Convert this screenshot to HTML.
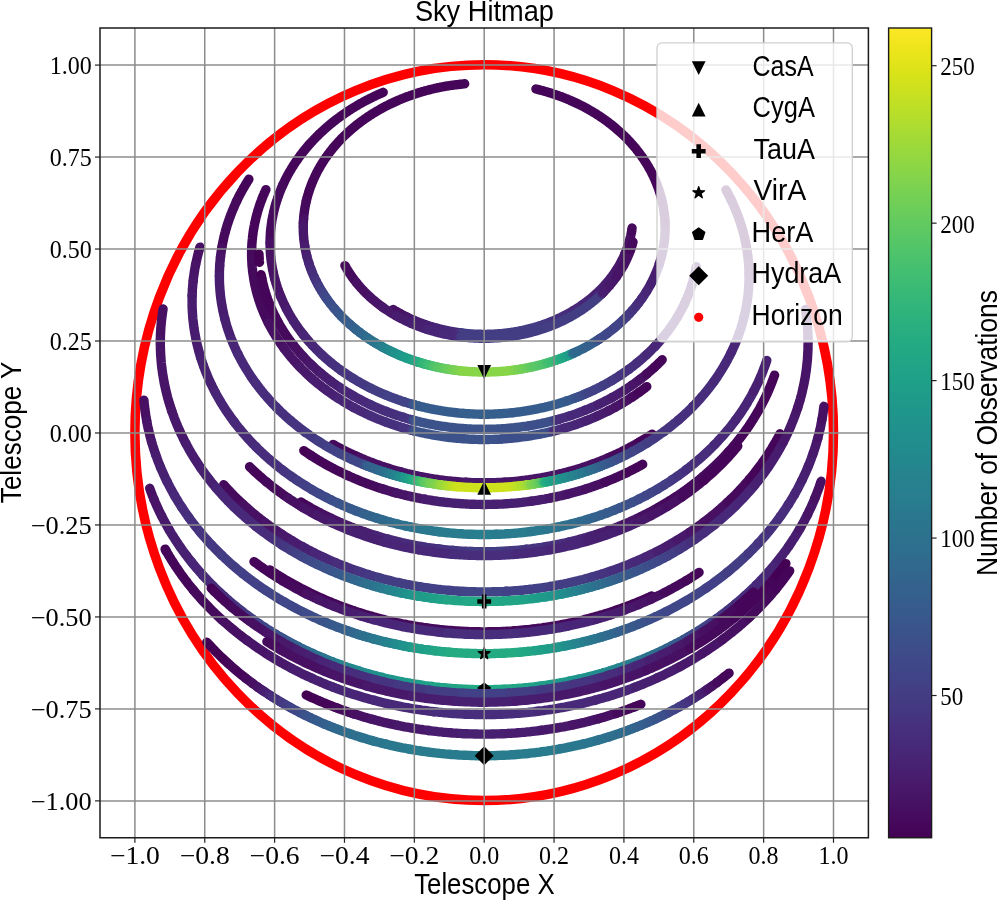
<!DOCTYPE html>
<html lang="en"><head><meta charset="utf-8"><title>Sky Hitmap</title>
<style>
html,body{margin:0;padding:0;background:#fff;}
body{width:1000px;height:900px;overflow:hidden;}
svg{display:block;}
.ser{font-family:"Liberation Serif","DejaVu Serif",serif;font-size:25px;fill:#000;}
.san{font-family:"Liberation Sans","DejaVu Sans",sans-serif;font-size:29px;fill:#000;}
.arcs path{fill:none;stroke-width:9.4;stroke-linecap:round;stroke-linejoin:round;}
.grid line{stroke:#8c8c8c;stroke-width:1.5;}
.tk line{stroke:#222;stroke-width:1.2;}
</style></head><body>
<svg width="1000" height="900" viewBox="0 0 1000 900">
<defs>
<clipPath id="ax"><rect x="100" y="28" width="768.4" height="809.75"/></clipPath>
<linearGradient id="vir" x1="0" y1="1" x2="0" y2="0">

<stop offset="0.0000" stop-color="#440154"/>
<stop offset="0.0196" stop-color="#46085c"/>
<stop offset="0.0392" stop-color="#471063"/>
<stop offset="0.0588" stop-color="#481769"/>
<stop offset="0.0784" stop-color="#481d6f"/>
<stop offset="0.0980" stop-color="#482475"/>
<stop offset="0.1176" stop-color="#472a7a"/>
<stop offset="0.1373" stop-color="#46307e"/>
<stop offset="0.1569" stop-color="#453781"/>
<stop offset="0.1765" stop-color="#433d84"/>
<stop offset="0.1961" stop-color="#414287"/>
<stop offset="0.2157" stop-color="#3f4889"/>
<stop offset="0.2353" stop-color="#3d4e8a"/>
<stop offset="0.2549" stop-color="#3a538b"/>
<stop offset="0.2745" stop-color="#38598c"/>
<stop offset="0.2941" stop-color="#355e8d"/>
<stop offset="0.3137" stop-color="#33638d"/>
<stop offset="0.3333" stop-color="#31688e"/>
<stop offset="0.3529" stop-color="#2e6d8e"/>
<stop offset="0.3725" stop-color="#2c718e"/>
<stop offset="0.3922" stop-color="#2a768e"/>
<stop offset="0.4118" stop-color="#297b8e"/>
<stop offset="0.4314" stop-color="#27808e"/>
<stop offset="0.4510" stop-color="#25848e"/>
<stop offset="0.4706" stop-color="#23898e"/>
<stop offset="0.4902" stop-color="#218e8d"/>
<stop offset="0.5098" stop-color="#20928c"/>
<stop offset="0.5294" stop-color="#1f978b"/>
<stop offset="0.5490" stop-color="#1e9c89"/>
<stop offset="0.5686" stop-color="#1fa188"/>
<stop offset="0.5882" stop-color="#21a585"/>
<stop offset="0.6078" stop-color="#24aa83"/>
<stop offset="0.6275" stop-color="#28ae80"/>
<stop offset="0.6471" stop-color="#2eb37c"/>
<stop offset="0.6667" stop-color="#35b779"/>
<stop offset="0.6863" stop-color="#3dbc74"/>
<stop offset="0.7059" stop-color="#46c06f"/>
<stop offset="0.7255" stop-color="#50c46a"/>
<stop offset="0.7451" stop-color="#5ac864"/>
<stop offset="0.7647" stop-color="#65cb5e"/>
<stop offset="0.7843" stop-color="#70cf57"/>
<stop offset="0.8039" stop-color="#7cd250"/>
<stop offset="0.8235" stop-color="#89d548"/>
<stop offset="0.8431" stop-color="#95d840"/>
<stop offset="0.8627" stop-color="#a2da37"/>
<stop offset="0.8824" stop-color="#b0dd2f"/>
<stop offset="0.9020" stop-color="#bddf26"/>
<stop offset="0.9216" stop-color="#cae11f"/>
<stop offset="0.9412" stop-color="#d8e219"/>
<stop offset="0.9608" stop-color="#e5e419"/>
<stop offset="0.9804" stop-color="#f1e51d"/>
<stop offset="1.0000" stop-color="#fde725"/>
</linearGradient></defs>
<rect width="1000" height="900" fill="#fff"/>
<g class="arcs" clip-path="url(#ax)">
<ellipse cx="484.20" cy="432.63" rx="349.30" ry="367.90" fill="none" stroke="#ff0000" stroke-width="9.5"/>
<g><path d="M393.1,309.5 393.9,310.0 394.7,310.5 395.6,311.0 396.4,311.5 397.2,311.9 398.1,312.4 398.9,312.9 399.8,313.4" stroke="#471063"/>
<path d="M399.8,313.4 400.6,313.8 401.5,314.3 402.4,314.8 403.2,315.2 404.1,315.7 405.0,316.1 405.9,316.6 406.8,317.0" stroke="#481467"/>
<path d="M406.8,317.0 407.7,317.4 408.5,317.9 409.4,318.3 410.3,318.7 411.2,319.1 412.2,319.5 413.1,319.9 414.0,320.3" stroke="#48186a"/>
<path d="M414.0,320.3 414.9,320.7 415.8,321.1 416.7,321.4 417.7,321.8 418.6,322.2 419.5,322.6 420.5,322.9 421.4,323.3 422.4,323.6 423.3,324.0 424.3,324.3 425.2,324.6" stroke="#481c6e"/>
<path d="M425.2,324.6 426.2,325.0 427.1,325.3 428.1,325.6 429.1,325.9 430.0,326.2 431.0,326.5 432.0,326.8 432.9,327.1 433.9,327.4 434.9,327.7 435.9,327.9 436.9,328.2" stroke="#482071"/>
<path d="M436.9,328.2 437.8,328.5 438.8,328.7 439.8,329.0 440.8,329.2 441.8,329.4 442.8,329.7 443.8,329.9 444.8,330.1 445.8,330.3 446.8,330.6 447.8,330.8" stroke="#482576"/>
<path d="M447.8,330.8 448.8,331.0 449.8,331.2 450.9,331.4 451.9,331.5 452.9,331.7 453.9,331.9 454.9,332.0 455.9,332.2 457.0,332.4 458.0,332.5 459.0,332.7" stroke="#482979"/>
<path d="M459.0,332.7 460.0,332.8 461.1,332.9" stroke="#472d7b"/>
<path d="M461.1,332.9 462.1,333.1" stroke="#453882"/>
<path d="M462.1,333.1 463.1,333.2 464.2,333.3 465.2,333.4 466.2,333.5 467.2,333.6 468.3,333.7 469.3,333.8 470.3,333.9 471.4,333.9 472.4,334.0 473.5,334.1 474.5,334.1 475.5,334.2 476.6,334.2 477.6,334.3 478.6,334.3 479.7,334.3 480.7,334.3 481.8,334.4 482.8,334.4 483.8,334.4 484.9,334.4 485.9,334.4 487.0,334.4 488.0,334.3 489.0,334.3 490.1,334.3 491.1,334.2 492.2,334.2 493.2,334.2 494.2,334.1 495.3,334.0 496.3,334.0 497.3,333.9 498.4,333.8 499.4,333.8 500.4,333.7 501.5,333.6 502.5,333.5 503.5,333.4 504.6,333.3 505.6,333.1 506.6,333.0 507.7,332.9 508.7,332.8 509.7,332.6 510.7,332.5 511.8,332.3 512.8,332.2 513.8,332.0 514.8,331.8 515.8,331.7 516.8,331.5 517.9,331.3 518.9,331.1 519.9,330.9 520.9,330.7 521.9,330.5 522.9,330.3 523.9,330.1 524.9,329.8 525.9,329.6 526.9,329.4 527.9,329.1 528.9,328.9 529.9,328.6 530.9,328.4 531.8,328.1 532.8,327.8 533.8,327.6 534.8,327.3 535.8,327.0 536.7,326.7 537.7,326.4 538.7,326.1 539.6,325.8 540.6,325.5 541.6,325.2 542.5,324.9 543.5,324.5" stroke="#433d84"/>
<path d="M543.5,324.5 544.4,324.2 545.4,323.9 546.3,323.5 547.3,323.2 548.2,322.8 549.1,322.4 550.1,322.1 551.0,321.7" stroke="#453882"/>
<path d="M551.0,321.7 551.9,321.3 552.9,321.0 553.8,320.6 554.7,320.2 555.6,319.8 556.5,319.4 557.4,319.0 558.3,318.6" stroke="#463480"/>
<path d="M558.3,318.6 559.2,318.1 560.1,317.7 561.0,317.3 561.9,316.9 562.8,316.4 563.7,316.0 564.6,315.5 565.4,315.1" stroke="#46307e"/>
<path d="M565.4,315.1 566.3,314.6 567.2,314.2 568.0,313.7 568.9,313.2 569.7,312.8 570.6,312.3 571.4,311.8 572.3,311.3 573.1,310.8" stroke="#472d7b"/>
<path d="M573.1,310.8 573.9,310.3 574.8,309.8 575.6,309.3 576.4,308.8 577.2,308.3 578.0,307.7 578.8,307.2 579.6,306.7 580.4,306.2 581.2,305.6 582.0,305.1 582.8,304.5 583.5,304.0" stroke="#482979"/>
<path d="M583.5,304.0 584.3,303.4 585.1,302.9 585.8,302.3 586.6,301.7 587.4,301.1 588.1,300.6 588.8,300.0 589.6,299.4 590.3,298.8 591.0,298.2 591.8,297.6 592.5,297.0 593.2,296.4 593.9,295.8 594.6,295.2" stroke="#482576"/>
<path d="M594.6,295.2 595.3,294.6 596.0,293.9 596.6,293.3 597.3,292.7 598.0,292.0 598.7,291.4 599.3,290.8 600.0,290.1 600.6,289.5 601.3,288.8 601.9,288.2 602.5,287.5 603.2,286.8 603.8,286.2 604.4,285.5 605.0,284.8 605.6,284.2" stroke="#482071"/>
<path d="M605.6,284.2 606.2,283.5 606.8,282.8 607.4,282.1 608.0,281.4 608.5,280.7 609.1,280.0 609.7,279.3 610.2,278.6 610.8,277.9 611.3,277.2 611.8,276.5 612.4,275.8 612.9,275.1 613.4,274.4 613.9,273.6 614.4,272.9 614.9,272.2 615.4,271.4 615.9,270.7 616.4,270.0" stroke="#481c6e"/>
<path d="M616.4,270.0 616.9,269.2 617.3,268.5 617.8,267.7 618.2,267.0 618.7,266.2 619.1,265.5 619.6,264.7 620.0,264.0 620.4,263.2 620.8,262.5 621.2,261.7 621.6,260.9 622.0,260.2 622.4,259.4 622.8,258.6 623.2,257.8 623.5,257.1 623.9,256.3 624.2,255.5 624.6,254.7 624.9,253.9" stroke="#48186a"/>
<path d="M624.9,253.9 625.3,253.1 625.6,252.4 625.9,251.6 626.2,250.8 626.5,250.0 626.8,249.2 627.1,248.4 627.4,247.6 627.7,246.8 627.9,246.0 628.2,245.2" stroke="#481467"/>
<path d="M628.2,245.2 628.4,244.4 628.7,243.6 628.9,242.8 629.2,242.0 629.4,241.1 629.6,240.3 629.8,239.5 630.0,238.7 630.2,237.9 630.4,237.1 630.6,236.3 630.8,235.4 631.0,234.6 631.1,233.8 631.3,233.0 631.4,232.2 631.6,231.3" stroke="#471063"/>
<path d="M631.6,231.3 631.7,230.5 631.8,229.7 631.9,228.9 632.1,228.0" stroke="#460a5d"/></g>
<g><path d="M344.9,265.6 345.4,266.3 345.8,267.1 346.3,267.9 346.7,268.7 347.2,269.4 347.6,270.2 348.1,271.0 348.6,271.7 349.1,272.5 349.6,273.2 350.1,274.0 350.6,274.7 351.1,275.5 351.6,276.2 352.1,277.0 352.6,277.7 353.2,278.4 353.7,279.2 354.3,279.9 354.8,280.6 355.4,281.3 356.0,282.0 356.5,282.8" stroke="#460a5d"/>
<path d="M356.5,282.8 357.1,283.5 357.7,284.2 358.3,284.9 358.9,285.6 359.5,286.3 360.1,287.0 360.7,287.7 361.4,288.4 362.0,289.0 362.6,289.7 363.3,290.4 363.9,291.1 364.6,291.7 365.2,292.4 365.9,293.1 366.6,293.7 367.2,294.4 367.9,295.0 368.6,295.7 369.3,296.3 370.0,297.0" stroke="#471063"/>
<path d="M370.0,297.0 370.7,297.6 371.4,298.2 372.1,298.9 372.9,299.5 373.6,300.1 374.3,300.7 375.1,301.3 375.8,302.0 376.6,302.6 377.3,303.2 378.1,303.7 378.8,304.3 379.6,304.9 380.4,305.5 381.2,306.1 381.9,306.7 382.7,307.2" stroke="#481467"/>
<path d="M382.7,307.2 383.5,307.8 384.3,308.4 385.1,308.9 385.9,309.5 386.8,310.0 387.6,310.6 388.4,311.1 389.2,311.6 390.1,312.1 390.9,312.7 391.7,313.2 392.6,313.7 393.4,314.2 394.3,314.7 395.2,315.2 396.0,315.7" stroke="#48186a"/>
<path d="M396.0,315.7 396.9,316.2 397.8,316.7 398.6,317.2 399.5,317.6 400.4,318.1 401.3,318.6 402.2,319.0 403.1,319.5 404.0,320.0 404.9,320.4 405.8,320.8 406.7,321.3 407.6,321.7 408.6,322.1 409.5,322.5 410.4,323.0 411.3,323.4" stroke="#481c6e"/>
<path d="M411.3,323.4 412.3,323.8 413.2,324.2 414.2,324.6 415.1,325.0 416.1,325.3 417.0,325.7 418.0,326.1 418.9,326.5 419.9,326.8 420.9,327.2 421.8,327.5 422.8,327.9 423.8,328.2 424.8,328.6 425.7,328.9 426.7,329.2 427.7,329.5" stroke="#482071"/>
<path d="M427.7,329.5 428.7,329.8 429.7,330.1 430.7,330.4 431.7,330.7 432.7,331.0 433.7,331.3 434.7,331.6 435.7,331.9 436.7,332.1 437.7,332.4 438.7,332.7 439.7,332.9 440.8,333.2 441.8,333.4 442.8,333.6" stroke="#482576"/>
<path d="M442.8,333.6 443.8,333.9 444.9,334.1 445.9,334.3 446.9,334.5 447.9,334.7 449.0,334.9 450.0,335.1 451.1,335.3 452.1,335.5 453.1,335.7 454.2,335.8 455.2,336.0 456.3,336.2 457.3,336.3 458.4,336.5" stroke="#482979"/>
<path d="M458.4,336.5 459.4,336.6 460.5,336.7" stroke="#472d7b"/>
<path d="M460.5,336.7 461.5,336.9" stroke="#463480"/>
<path d="M461.5,336.9 462.6,337.0 463.6,337.1 464.7,337.2 465.7,337.3 466.8,337.4 467.8,337.5 468.9,337.6 470.0,337.7 471.0,337.8 472.1,337.8 473.1,337.9 474.2,338.0 475.3,338.0 476.3,338.1 477.4,338.1 478.5,338.1 479.5,338.2 480.6,338.2 481.6,338.2 482.7,338.2 483.8,338.2 484.8,338.2 485.9,338.2 487.0,338.2 488.0,338.2 489.1,338.2 490.2,338.1 491.2,338.1 492.3,338.0 493.3,338.0 494.4,337.9 495.5,337.9 496.5,337.8 497.6,337.7 498.6,337.7 499.7,337.6 500.8,337.5 501.8,337.4 502.9,337.3 503.9,337.2 505.0,337.1 506.0,337.0 507.1,336.8 508.1,336.7 509.2,336.6 510.2,336.4 511.3,336.3 512.3,336.1 513.4,336.0 514.4,335.8 515.5,335.6 516.5,335.4 517.5,335.3 518.6,335.1 519.6,334.9 520.6,334.7 521.7,334.5 522.7,334.3 523.7,334.0 524.8,333.8 525.8,333.6 526.8,333.4 527.8,333.1 528.9,332.9 529.9,332.6 530.9,332.4 531.9,332.1 532.9,331.8 533.9,331.5 534.9,331.3 535.9,331.0 536.9,330.7 537.9,330.4 538.9,330.1 539.9,329.8 540.9,329.5 541.9,329.1 542.9,328.8 543.8,328.5 544.8,328.2 545.8,327.8 546.8,327.5 547.7,327.1 548.7,326.8 549.7,326.4 550.6,326.0 551.6,325.6 552.5,325.3 553.5,324.9 554.4,324.5 555.4,324.1 556.3,323.7 557.2,323.3 558.2,322.9 559.1,322.5 560.0,322.0 560.9,321.6 561.8,321.2 562.8,320.8 563.7,320.3 564.6,319.9 565.5,319.4 566.4,319.0 567.3,318.5 568.2,318.0 569.0,317.6 569.9,317.1 570.8,316.6 571.7,316.1 572.5,315.6 573.4,315.1 574.3,314.6 575.1,314.1 576.0,313.6 576.8,313.1 577.7,312.6 578.5,312.0 579.3,311.5 580.2,311.0 581.0,310.4 581.8,309.9 582.6,309.4 583.4,308.8 584.2,308.2 585.0,307.7 585.8,307.1 586.6,306.6 587.4,306.0 588.2,305.4 588.9,304.8 589.7,304.2 590.5,303.6 591.2,303.0 592.0,302.4 592.7,301.8 593.5,301.2 594.2,300.6 594.9,300.0 595.7,299.4 596.4,298.8 597.1,298.1 597.8,297.5 598.5,296.9 599.2,296.2 599.9,295.6 600.6,294.9 601.3,294.3" stroke="#433d84"/>
<path d="M601.3,294.3 602.0,293.6" stroke="#453882"/>
<path d="M602.0,293.6 602.6,293.0" stroke="#46307e"/>
<path d="M602.6,293.0 603.3,292.3" stroke="#482576"/>
<path d="M603.3,292.3 604.0,291.6 604.6,290.9 605.3,290.3 605.9,289.6 606.5,288.9 607.2,288.2 607.8,287.5 608.4,286.8 609.0,286.2 609.6,285.5" stroke="#481c6e"/>
<path d="M609.6,285.5 610.2,284.8 610.8,284.0 611.4,283.3 612.0,282.6 612.5,281.9 613.1,281.2 613.7,280.5 614.2,279.7 614.8,279.0 615.3,278.3 615.9,277.5 616.4,276.8" stroke="#48186a"/>
<path d="M616.4,276.8 616.9,276.1 617.4,275.3 617.9,274.6 618.4,273.8 618.9,273.1 619.4,272.3 619.9,271.6 620.4,270.8 620.9,270.0 621.3,269.3 621.8,268.5 622.2,267.7 622.7,267.0 623.1,266.2 623.5,265.4" stroke="#481467"/>
<path d="M623.5,265.4 624.0,264.6 624.4,263.9 624.8,263.1 625.2,262.3 625.6,261.5 626.0,260.7 626.4,259.9 626.7,259.1 627.1,258.3 627.5,257.5 627.8,256.7 628.2,255.9 628.5,255.1 628.8,254.3 629.2,253.5 629.5,252.7 629.8,251.9 630.1,251.1 630.4,250.2" stroke="#471063"/>
<path d="M630.4,250.2 630.7,249.4 631.0,248.6 631.2,247.8 631.5,247.0 631.8,246.1 632.0,245.3 632.3,244.5 632.5,243.7 632.7,242.8 633.0,242.0" stroke="#460a5d"/></g>
<g><path d="M383.2,92.3 381.9,92.9 380.6,93.5 379.3,94.1 378.0,94.6 376.7,95.2 375.4,95.8 374.1,96.5 372.8,97.1 371.6,97.7 370.3,98.3 369.0,99.0 367.8,99.6 366.5,100.3 365.3,100.9 364.0,101.6 362.8,102.3 361.6,103.0 360.3,103.6 359.1,104.3 357.9,105.0 356.7,105.8 355.5,106.5 354.3,107.2 353.1,107.9 351.9,108.7 350.8,109.4 349.6,110.1 348.4,110.9 347.3,111.7 346.1,112.4 345.0,113.2 343.9,114.0 342.7,114.8 341.6,115.6 340.5,116.4 339.4,117.2 338.3,118.0 337.2,118.8 336.1,119.6 335.0,120.5 334.0,121.3 332.9,122.1 331.8,123.0 330.8,123.8 329.8,124.7 328.7,125.6 327.7,126.4 326.7,127.3 325.7,128.2 324.7,129.1 323.7,130.0 322.7,130.9 321.7,131.8 320.7,132.7 319.8,133.6 318.8,134.5 317.9,135.5 316.9,136.4 316.0,137.3 315.1,138.3 314.2,139.2 313.3,140.2 312.4,141.1 311.5,142.1 310.6,143.0 309.7,144.0 308.8,145.0 308.0,146.0 307.1,147.0 306.3,148.0 305.5,149.0 304.7,150.0 303.8,151.0 303.0,152.0 302.3,153.0 301.5,154.0 300.7,155.0 299.9,156.0 299.2,157.1 298.4,158.1 297.7,159.2 296.9,160.2 296.2,161.2 295.5,162.3 294.8,163.4 294.1,164.4 293.4,165.5 292.8,166.5 292.1,167.6 291.4,168.7 290.8,169.8 290.1,170.9 289.5,171.9 288.9,173.0 288.3,174.1 287.7,175.2 287.1,176.3 286.5,177.4 285.9,178.5 285.4,179.6 284.8,180.7 284.3,181.9 283.8,183.0 283.2,184.1 282.7,185.2" stroke="#450559"/>
<path d="M282.7,185.2 282.2,186.3 281.7,187.5 281.2,188.6 280.8,189.7 280.3,190.9 279.9,192.0 279.4,193.2 279.0,194.3 278.6,195.5 278.2,196.6 277.7,197.8 277.4,198.9 277.0,200.1 276.6,201.2 276.2,202.4 275.9,203.5 275.5,204.7 275.2,205.9 274.9,207.0 274.6,208.2 274.3,209.4 274.0,210.6 273.7,211.7 273.4,212.9 273.2,214.1 272.9,215.3 272.7,216.5 272.5,217.6 272.2,218.8 272.0,220.0 271.8,221.2 271.7,222.4 271.5,223.6 271.3,224.8 271.2,225.9 271.0,227.1 270.9,228.3 270.7,229.5 270.6,230.7 270.5,231.9 270.4,233.1 270.4,234.3 270.3,235.5 270.2,236.7 270.2,237.9 270.1,239.1 270.1,240.3 270.1,241.5 270.1,242.7" stroke="#460a5d"/>
<path d="M270.1,242.7 270.1,243.9 270.1,245.0 270.1,246.2 270.1,247.4 270.2,248.6 270.2,249.8 270.3,251.0 270.4,252.2 270.4,253.4 270.5,254.6 270.6,255.8 270.8,257.0 270.9,258.2 271.0,259.4 271.2,260.6 271.3,261.8 271.5,262.9 271.7,264.1 271.9,265.3 272.1,266.5 272.3,267.7 272.5,268.9 272.7,270.0 273.0,271.2 273.2,272.4 273.5,273.6 273.7,274.8 274.0,275.9 274.3,277.1 274.6,278.3" stroke="#471063"/>
<path d="M274.6,278.3 274.9,279.5 275.3,280.6 275.6,281.8 275.9,282.9 276.3,284.1 276.7,285.3 277.0,286.4 277.4,287.6 277.8,288.7 278.2,289.9 278.6,291.0 279.0,292.2 279.5,293.3 279.9,294.5 280.4,295.6 280.8,296.8" stroke="#481467"/>
<path d="M280.8,296.8 281.3,297.9 281.8,299.0 282.3,300.1 282.8,301.3 283.3,302.4 283.8,303.5 284.4,304.6 284.9,305.7 285.5,306.9 286.0,308.0 286.6,309.1" stroke="#48186a"/>
<path d="M286.6,309.1 287.2,310.2 287.8,311.3 288.4,312.4 289.0,313.5 289.6,314.6 290.2,315.6 290.9,316.7 291.5,317.8 292.2,318.9 292.8,319.9 293.5,321.0" stroke="#481c6e"/>
<path d="M293.5,321.0 294.2,322.1 294.9,323.1 295.6,324.2 296.3,325.2 297.0,326.3 297.8,327.3 298.5,328.4 299.3,329.4 300.0,330.4 300.8,331.5 301.6,332.5 302.4,333.5 303.2,334.5" stroke="#482071"/>
<path d="M303.2,334.5 304.0,335.5 304.8,336.5 305.6,337.5 306.4,338.5 307.3,339.5 308.1,340.5 309.0,341.5 309.8,342.5 310.7,343.4 311.6,344.4 312.5,345.4" stroke="#482576"/>
<path d="M312.5,345.4 313.4,346.3 314.3,347.3 315.2,348.2 316.1,349.1 317.1,350.1 318.0,351.0 318.9,351.9 319.9,352.9 320.9,353.8 321.8,354.7" stroke="#482979"/>
<path d="M321.8,354.7 322.8,355.6 323.8,356.5 324.8,357.4 325.8,358.3 326.8,359.2 327.8,360.0 328.9,360.9 329.9,361.8 330.9,362.6" stroke="#472d7b"/>
<path d="M330.9,362.6 332.0,363.5 333.0,364.3 334.1,365.2 335.2,366.0 336.3,366.8 337.3,367.7 338.4,368.5 339.5,369.3 340.6,370.1" stroke="#46307e"/>
<path d="M340.6,370.1 341.8,370.9 342.9,371.7 344.0,372.5 345.1,373.2 346.3,374.0 347.4,374.8 348.6,375.5 349.8,376.3 350.9,377.0 352.1,377.8 353.3,378.5" stroke="#463480"/>
<path d="M353.3,378.5 354.5,379.2 355.7,380.0 356.9,380.7 358.1,381.4 359.3,382.1 360.5,382.8 361.7,383.5 363.0,384.2 364.2,384.8 365.4,385.5 366.7,386.2 367.9,386.8 369.2,387.5 370.5,388.1" stroke="#453882"/>
<path d="M370.5,388.1 371.7,388.7 373.0,389.3 374.3,390.0 375.6,390.6 376.9,391.2 378.2,391.8 379.5,392.4 380.8,392.9 382.1,393.5 383.4,394.1 384.7,394.6 386.1,395.2" stroke="#433d84"/>
<path d="M386.1,395.2 387.4,395.7 388.7,396.3 390.1,396.8 391.4,397.3 392.8,397.8 394.1,398.3 395.5,398.8 396.9,399.3 398.2,399.8 399.6,400.3 401.0,400.8 402.4,401.2 403.8,401.7" stroke="#424086"/>
<path d="M403.8,401.7 405.1,402.1 406.5,402.6 407.9,403.0 409.3,403.4 410.7,403.8 412.2,404.2" stroke="#414487"/>
<path d="M412.2,404.2 413.6,404.6" stroke="#3e4a89"/>
<path d="M413.6,404.6 415.0,405.0" stroke="#39558c"/>
<path d="M415.0,405.0 416.4,405.4 417.8,405.8 419.2,406.2" stroke="#38598c"/>
<path d="M419.2,406.2 420.7,406.5 422.1,406.9 423.5,407.2 425.0,407.5 426.4,407.9 427.9,408.2 429.3,408.5 430.8,408.8 432.2,409.1 433.7,409.4 435.1,409.7 436.6,409.9 438.0,410.2 439.5,410.4 441.0,410.7 442.4,410.9 443.9,411.2 445.4,411.4 446.8,411.6 448.3,411.8 449.8,412.0 451.3,412.2 452.8,412.4 454.2,412.5 455.7,412.7 457.2,412.8 458.7,413.0 460.2,413.1 461.7,413.3 463.2,413.4" stroke="#365c8d"/>
<path d="M463.2,413.4 464.7,413.5 466.1,413.6 467.6,413.7 469.1,413.8 470.6,413.9 472.1,413.9 473.6,414.0 475.1,414.1 476.6,414.1 478.1,414.1 479.6,414.2 481.1,414.2 482.6,414.2 484.1,414.2 485.6,414.2 487.1,414.2 488.6,414.2 490.1,414.1 491.6,414.1 493.1,414.1 494.6,414.0 496.1,413.9 497.6,413.9 499.0,413.8 500.5,413.7 502.0,413.6 503.5,413.5 505.0,413.4 506.5,413.3 508.0,413.1 509.5,413.0 511.0,412.9 512.5,412.7" stroke="#355f8d"/>
<path d="M512.5,412.7 513.9,412.6 515.4,412.4 516.9,412.2 518.4,412.0 519.9,411.8 521.3,411.6 522.8,411.4 524.3,411.2 525.7,411.0 527.2,410.7 528.7,410.5 530.1,410.2 531.6,410.0 533.1,409.7 534.5,409.4 536.0,409.1 537.4,408.8 538.9,408.5 540.3,408.2 541.8,407.9 543.2,407.6 544.6,407.3 546.1,406.9 547.5,406.6 548.9,406.2 550.4,405.8 551.8,405.5 553.2,405.1 554.6,404.7 556.0,404.3 557.4,403.9 558.9,403.5 560.3,403.1 561.6,402.6 563.0,402.2 564.4,401.7 565.8,401.3 567.2,400.8" stroke="#365c8d"/>
<path d="M567.2,400.8 568.6,400.4 570.0,399.9 571.3,399.4 572.7,398.9 574.1,398.4" stroke="#38598c"/>
<path d="M574.1,398.4 575.4,397.9 576.8,397.4" stroke="#39558c"/>
<path d="M576.8,397.4 578.1,396.9 579.5,396.4" stroke="#3b528b"/>
<path d="M579.5,396.4 580.8,395.8 582.1,395.3 583.5,394.7" stroke="#3c4f8a"/>
<path d="M583.5,394.7 584.8,394.2 586.1,393.6" stroke="#3e4a89"/>
<path d="M586.1,393.6 587.4,393.0 588.7,392.4" stroke="#3f4788"/>
<path d="M588.7,392.4 590.0,391.9 591.3,391.3 592.6,390.7 593.9,390.1" stroke="#414487"/>
<path d="M593.9,390.1 595.2,389.4 596.5,388.8 597.7,388.2 599.0,387.5 600.3,386.9 601.5,386.3 602.8,385.6" stroke="#424086"/>
<path d="M602.8,385.6 604.0,384.9 605.3,384.3 606.5,383.6 607.7,382.9 608.9,382.2 610.1,381.5 611.4,380.8" stroke="#433d84"/>
<path d="M611.4,380.8 612.6,380.1 613.8,379.4 614.9,378.6 616.1,377.9 617.3,377.2 618.5,376.4 619.6,375.7" stroke="#453882"/>
<path d="M619.6,375.7 620.8,374.9 621.9,374.1 623.1,373.4 624.2,372.6 625.3,371.8 626.5,371.0 627.6,370.2 628.7,369.4" stroke="#463480"/>
<path d="M628.7,369.4 629.8,368.6 630.9,367.8 632.0,367.0 633.1,366.1 634.1,365.3 635.2,364.4 636.3,363.6 637.3,362.7" stroke="#46307e"/>
<path d="M637.3,362.7 638.3,361.9 639.4,361.0 640.4,360.2 641.4,359.3 642.4,358.4 643.4,357.5 644.4,356.6 645.4,355.7 646.4,354.8" stroke="#472d7b"/>
<path d="M646.4,354.8 647.4,353.9 648.4,353.0 649.3,352.1 650.3,351.2 651.2,350.2 652.1,349.3 653.1,348.3 654.0,347.4 654.9,346.5" stroke="#482979"/>
<path d="M654.9,346.5 655.8,345.5 656.7,344.5 657.6,343.6 658.4,342.6 659.3,341.6 660.2,340.6 661.0,339.7 661.9,338.7 662.7,337.7" stroke="#482576"/>
<path d="M662.7,337.7 663.5,336.7 664.3,335.7 665.1,334.7 665.9,333.6 666.7,332.6 667.5,331.6 668.3,330.6 669.0,329.6 669.8,328.5" stroke="#482071"/>
<path d="M669.8,328.5 670.5,327.5 671.2,326.4 672.0,325.4 672.7,324.3 673.4,323.3 674.1,322.2 674.8,321.2 675.5,320.1 676.1,319.0 676.8,318.0 677.4,316.9" stroke="#481c6e"/>
<path d="M677.4,316.9 678.1,315.8 678.7,314.7 679.3,313.6 679.9,312.5 680.5,311.4 681.1,310.3 681.7,309.2 682.3,308.1 682.9,307.0 683.4,305.9 684.0,304.8 684.5,303.7" stroke="#48186a"/>
<path d="M684.5,303.7 685.0,302.6 685.5,301.4 686.0,300.3 686.5,299.2 687.0,298.1 687.5,296.9 688.0,295.8 688.4,294.6 688.9,293.5 689.3,292.4 689.7,291.2 690.1,290.1 690.5,288.9 690.9,287.8 691.3,286.6 691.7,285.4" stroke="#481467"/>
<path d="M691.7,285.4 692.1,284.3 692.4,283.1 692.8,282.0 693.1,280.8 693.4,279.6 693.7,278.5 694.0,277.3 694.3,276.1 694.6,274.9 694.9,273.8 695.1,272.6 695.4,271.4 695.6,270.2 695.9,269.0 696.1,267.9 696.3,266.7" stroke="#471063"/></g>
<g><path d="M265.9,189.6 265.4,190.8 264.8,192.0 264.3,193.2 263.8,194.5 263.2,195.7 262.7,196.9 262.2,198.2 261.8,199.4 261.3,200.7 260.8,201.9 260.4,203.1 260.0,204.4 259.5,205.6 259.1,206.9 258.7,208.2 258.3,209.4 257.9,210.7 257.6,211.9 257.2,213.2 256.9,214.5 256.5,215.8 256.2,217.0 255.9,218.3 255.6,219.6 255.3,220.8 255.0,222.1 254.7,223.4 254.5,224.7 254.2,226.0 254.0,227.3 253.8,228.5 253.5,229.8 253.3,231.1 253.1,232.4 253.0,233.7 252.8,235.0 252.6,236.3 252.5,237.6 252.4,238.9 252.2,240.2 252.1,241.5 252.0,242.7 251.9,244.0 251.8,245.3 251.8,246.6 251.7,247.9 251.7,249.2" stroke="#450559"/>
<path d="M251.7,249.2 251.6,250.5 251.6,251.8 251.6,253.1 251.6,254.4 251.6,255.7 251.6,257.0 251.7,258.3 251.7,259.6 251.8,260.9 251.9,262.2 251.9,263.5 252.0,264.8 252.1,266.1 252.2,267.4 252.4,268.7 252.5,270.0 252.6,271.3 252.8,272.6 253.0,273.9 253.2,275.1 253.4,276.4 253.6,277.7 253.8,279.0 254.0,280.3 254.2,281.6 254.5,282.9 254.7,284.1 255.0,285.4 255.3,286.7 255.6,288.0 255.9,289.3 256.2,290.5 256.5,291.8 256.9,293.1 257.2,294.3 257.6,295.6 258.0,296.9 258.4,298.1 258.7,299.4 259.2,300.6 259.6,301.9 260.0,303.2 260.4,304.4 260.9,305.7 261.3,306.9 261.8,308.1 262.3,309.4 262.8,310.6 263.3,311.9 263.8,313.1 264.3,314.3 264.9,315.5 265.4,316.8 266.0,318.0 266.5,319.2 267.1,320.4 267.7,321.6 268.3,322.8" stroke="#460a5d"/>
<path d="M268.3,322.8 268.9,324.0 269.5,325.2 270.2,326.4 270.8,327.6 271.5,328.8 272.1,330.0 272.8,331.2 273.5,332.4 274.2,333.5 274.9,334.7 275.6,335.9 276.3,337.0 277.0,338.2 277.8,339.3 278.5,340.5 279.3,341.6 280.1,342.8 280.9,343.9 281.7,345.0 282.5,346.2 283.3,347.3 284.1,348.4" stroke="#471063"/>
<path d="M284.1,348.4 284.9,349.5 285.8,350.6 286.6,351.7 287.5,352.8 288.4,353.9 289.2,355.0 290.1,356.1 291.0,357.2 291.9,358.3 292.9,359.3 293.8,360.4 294.7,361.5 295.7,362.5 296.6,363.6 297.6,364.6 298.6,365.7 299.6,366.7" stroke="#481467"/>
<path d="M299.6,366.7 300.5,367.7 301.5,368.7 302.6,369.8 303.6,370.8 304.6,371.8 305.6,372.8 306.7,373.8 307.7,374.8 308.8,375.7 309.9,376.7 311.0,377.7 312.0,378.6" stroke="#48186a"/>
<path d="M312.0,378.6 313.1,379.6 314.3,380.6 315.4,381.5 316.5,382.4 317.6,383.4 318.8,384.3 319.9,385.2 321.1,386.1 322.2,387.0 323.4,387.9 324.6,388.8 325.8,389.7" stroke="#481c6e"/>
<path d="M325.8,389.7 326.9,390.6 328.1,391.5 329.4,392.3 330.6,393.2 331.8,394.1 333.0,394.9 334.3,395.8 335.5,396.6 336.8,397.4 338.0,398.2" stroke="#482071"/>
<path d="M338.0,398.2 339.3,399.0 340.6,399.8 341.9,400.6 343.1,401.4 344.4,402.2 345.7,403.0 347.0,403.8 348.4,404.5 349.7,405.3 351.0,406.0 352.4,406.8 353.7,407.5" stroke="#482576"/>
<path d="M353.7,407.5 355.0,408.2 356.4,408.9 357.8,409.7 359.1,410.4 360.5,411.0 361.9,411.7 363.3,412.4 364.7,413.1 366.1,413.7 367.5,414.4 368.9,415.1 370.3,415.7" stroke="#482979"/>
<path d="M370.3,415.7 371.7,416.3 373.1,416.9 374.6,417.6 376.0,418.2 377.4,418.8 378.9,419.4 380.3,419.9 381.8,420.5 383.2,421.1 384.7,421.6 386.2,422.2" stroke="#472d7b"/>
<path d="M386.2,422.2 387.7,422.7 389.1,423.3 390.6,423.8 392.1,424.3 393.6,424.8 395.1,425.3 396.6,425.8 398.1,426.3 399.6,426.8 401.2,427.3 402.7,427.7" stroke="#46307e"/>
<path d="M402.7,427.7 404.2,428.2 405.7,428.6 407.3,429.0 408.8,429.5 410.3,429.9 411.9,430.3" stroke="#463480"/>
<path d="M411.9,430.3 413.4,430.7" stroke="#433d84"/>
<path d="M413.4,430.7 415.0,431.1" stroke="#3e4a89"/>
<path d="M415.0,431.1 416.5,431.5 418.1,431.8 419.6,432.2 421.2,432.6 422.8,432.9 424.3,433.2 425.9,433.6 427.5,433.9 429.1,434.2 430.6,434.5 432.2,434.8 433.8,435.1 435.4,435.4 437.0,435.6 438.6,435.9 440.2,436.1 441.8,436.4 443.4,436.6 445.0,436.8 446.6,437.1 448.2,437.3 449.8,437.5 451.4,437.6 453.0,437.8 454.6,438.0 456.2,438.2 457.8,438.3 459.5,438.4 461.1,438.6 462.7,438.7 464.3,438.8 465.9,438.9 467.6,439.0 469.2,439.1 470.8,439.2 472.4,439.3 474.0,439.3 475.7,439.4 477.3,439.4 478.9,439.5 480.5,439.5 482.2,439.5 483.8,439.5 485.4,439.5 487.0,439.5 488.7,439.5 490.3,439.4 491.9,439.4 493.5,439.4 495.2,439.3 496.8,439.2 498.4,439.2 500.0,439.1 501.7,439.0" stroke="#3b528b"/>
<path d="M501.7,439.0 503.3,438.9 504.9,438.8 506.5,438.6 508.1,438.5 509.7,438.4 511.4,438.2 513.0,438.1 514.6,437.9 516.2,437.7 517.8,437.6 519.4,437.4 521.0,437.2 522.6,436.9 524.2,436.7 525.8,436.5 527.4,436.3 529.0,436.0 530.6,435.8 532.2,435.5 533.8,435.2 535.4,434.9 537.0,434.7 538.5,434.4 540.1,434.1 541.7,433.7 543.3,433.4 544.8,433.1 546.4,432.7 548.0,432.4 549.5,432.0 551.1,431.7" stroke="#3c4f8a"/>
<path d="M551.1,431.7 552.7,431.3" stroke="#3e4a89"/>
<path d="M552.7,431.3 554.2,430.9" stroke="#433d84"/>
<path d="M554.2,430.9 555.8,430.5 557.3,430.1 558.8,429.7 560.4,429.3 561.9,428.8 563.4,428.4 565.0,427.9" stroke="#472d7b"/>
<path d="M565.0,427.9 566.5,427.5 568.0,427.0 569.5,426.6 571.0,426.1 572.5,425.6 574.0,425.1 575.5,424.6" stroke="#482979"/>
<path d="M575.5,424.6 577.0,424.1 578.5,423.5 580.0,423.0 581.5,422.5 582.9,421.9 584.4,421.4 585.9,420.8" stroke="#482576"/>
<path d="M585.9,420.8 587.3,420.2 588.8,419.7 590.2,419.1 591.7,418.5 593.1,417.9 594.6,417.3 596.0,416.6 597.4,416.0" stroke="#482071"/>
<path d="M597.4,416.0 598.8,415.4 600.2,414.7 601.6,414.1 603.0,413.4 604.4,412.8 605.8,412.1 607.2,411.4 608.6,410.7" stroke="#481c6e"/>
<path d="M608.6,410.7 610.0,410.0 611.3,409.3 612.7,408.6 614.0,407.9 615.4,407.1" stroke="#48186a"/>
<path d="M615.4,407.1 616.7,406.4 618.0,405.7 619.4,404.9 620.7,404.1 622.0,403.4 623.3,402.6" stroke="#481467"/>
<path d="M623.3,402.6 624.6,401.8 625.9,401.0 627.2,400.2 628.5,399.4 629.7,398.6 631.0,397.8 632.3,397.0" stroke="#471063"/>
<path d="M632.3,397.0 633.5,396.2 634.8,395.3 636.0,394.5 637.2,393.6 638.4,392.8 639.6,391.9" stroke="#460a5d"/>
<path d="M639.6,391.9 640.9,391.0 642.0,390.2 643.2,389.3 644.4,388.4 645.6,387.5 646.8,386.6" stroke="#450559"/></g>
<g><path d="M259.0,254.1 259.0,255.5 259.1,256.8 259.2,258.2 259.2,259.5 259.3,260.9 259.5,262.3" stroke="#440154"/>
<path d="M261.1,274.7 261.4,276.0 261.6,277.2 261.8,278.5" stroke="#440154"/>
<path d="M261.8,278.5 262.1,279.7 262.4,280.9 262.7,282.2 262.9,283.4 263.3,284.7 263.6,285.9 263.9,287.1 264.2,288.3 264.6,289.6 264.9,290.8 265.3,292.0 265.7,293.2 266.1,294.5 266.5,295.7 266.9,296.9 267.3,298.1 267.7,299.3 268.2,300.5 268.6,301.7 269.1,302.9 269.6,304.1 270.0,305.3 270.5,306.5 271.0,307.7 271.6,308.9 272.1,310.1 272.6,311.3 273.2,312.4 273.7,313.6 274.3,314.8 274.9,316.0 275.5,317.1 276.0,318.3 276.7,319.4 277.3,320.6 277.9,321.8" stroke="#450559"/>
<path d="M277.9,321.8 278.5,322.9 279.2,324.1 279.8,325.2 280.5,326.3 281.2,327.5 281.9,328.6 282.6,329.7 283.3,330.8 284.0,332.0 284.7,333.1 285.5,334.2 286.2,335.3 287.0,336.4 287.7,337.5 288.5,338.6 289.3,339.7 290.1,340.8 290.9,341.9 291.7,342.9 292.5,344.0 293.4,345.1" stroke="#460a5d"/>
<path d="M293.4,345.1 294.2,346.1 295.1,347.2 295.9,348.2 296.8,349.3 297.7,350.3 298.6,351.4 299.4,352.4 300.4,353.4 301.3,354.5 302.2,355.5 303.1,356.5" stroke="#471063"/>
<path d="M303.1,356.5 304.1,357.5 305.0,358.5 306.0,359.5 306.9,360.5 307.9,361.5 308.9,362.5 309.9,363.4 310.9,364.4 311.9,365.4" stroke="#481467"/>
<path d="M311.9,365.4 312.9,366.3 314.0,367.3 315.0,368.2 316.0,369.2 317.1,370.1 318.1,371.0 319.2,372.0 320.3,372.9 321.4,373.8" stroke="#48186a"/>
<path d="M321.4,373.8 322.5,374.7 323.6,375.6 324.7,376.5 325.8,377.4 326.9,378.2 328.0,379.1 329.2,380.0 330.3,380.9 331.5,381.7" stroke="#481c6e"/>
<path d="M331.5,381.7 332.6,382.6 333.8,383.4 335.0,384.2 336.2,385.1 337.4,385.9 338.6,386.7 339.8,387.5 341.0,388.3" stroke="#482071"/>
<path d="M341.0,388.3 342.2,389.1 343.4,389.9 344.7,390.7 345.9,391.5 347.1,392.2 348.4,393.0 349.7,393.7 350.9,394.5 352.2,395.2 353.5,396.0" stroke="#482576"/>
<path d="M353.5,396.0 354.8,396.7 356.0,397.4 357.3,398.1 358.6,398.8 360.0,399.5 361.3,400.2 362.6,400.9 363.9,401.6 365.3,402.2 366.6,402.9 367.9,403.5 369.3,404.2 370.7,404.8" stroke="#482979"/>
<path d="M370.7,404.8 372.0,405.5 373.4,406.1 374.8,406.7 376.1,407.3 377.5,407.9 378.9,408.5 380.3,409.1 381.7,409.7 383.1,410.2 384.5,410.8 385.9,411.3 387.3,411.9" stroke="#472d7b"/>
<path d="M387.3,411.9 388.8,412.4 390.2,412.9 391.6,413.5 393.1,414.0 394.5,414.5 396.0,415.0 397.4,415.5 398.9,415.9 400.3,416.4 401.8,416.9 403.3,417.3" stroke="#46307e"/>
<path d="M403.3,417.3 404.7,417.8 406.2,418.2 407.7,418.7 409.2,419.1 410.6,419.5 412.1,419.9" stroke="#463480"/>
<path d="M412.1,419.9 413.6,420.3" stroke="#424086"/>
<path d="M413.6,420.3 415.1,420.7" stroke="#3e4a89"/>
<path d="M415.1,420.7 416.6,421.1 418.1,421.4 419.6,421.8 421.1,422.2 422.7,422.5 424.2,422.9 425.7,423.2 427.2,423.5 428.7,423.8 430.3,424.1 431.8,424.4 433.3,424.7 434.9,425.0 436.4,425.3 437.9,425.5 439.5,425.8 441.0,426.0 442.6,426.3 444.1,426.5 445.7,426.7 447.2,426.9 448.8,427.1 450.3,427.3 451.9,427.5 453.4,427.7 455.0,427.8 456.6,428.0 458.1,428.1 459.7,428.3 461.3,428.4 462.8,428.5 464.4,428.7 466.0,428.8 467.5,428.9 469.1,429.0 470.7,429.0 472.2,429.1 473.8,429.2 475.4,429.2 477.0,429.3 478.5,429.3 480.1,429.3 481.7,429.3 483.3,429.4 484.8,429.4 486.4,429.3 488.0,429.3 489.6,429.3 491.1,429.3 492.7,429.2 494.3,429.2 495.8,429.1 497.4,429.0 499.0,429.0 500.6,428.9 502.1,428.8 503.7,428.7 505.3,428.6 506.8,428.4 508.4,428.3 510.0,428.2 511.5,428.0 513.1,427.9 514.7,427.7 516.2,427.5 517.8,427.3 519.3,427.2 520.9,427.0 522.4,426.7 524.0,426.5 525.5,426.3 527.1,426.1 528.6,425.8" stroke="#3b528b"/>
<path d="M528.6,425.8 530.2,425.6 531.7,425.3 533.2,425.0 534.8,424.8 536.3,424.5 537.8,424.2 539.4,423.9 540.9,423.6 542.4,423.2 543.9,422.9 545.4,422.6 547.0,422.2 548.5,421.9 550.0,421.5 551.5,421.1 553.0,420.8 554.5,420.4" stroke="#3c4f8a"/>
<path d="M554.5,420.4 556.0,420.0" stroke="#3e4a89"/>
<path d="M556.0,420.0 557.5,419.6" stroke="#433d84"/>
<path d="M557.5,419.6 559.0,419.2" stroke="#46307e"/>
<path d="M559.0,419.2 560.4,418.7 561.9,418.3 563.4,417.9 564.9,417.4 566.3,417.0 567.8,416.5 569.3,416.0 570.7,415.6" stroke="#472d7b"/>
<path d="M570.7,415.6 572.2,415.1 573.6,414.6 575.1,414.1 576.5,413.6 577.9,413.0 579.4,412.5 580.8,412.0 582.2,411.4 583.6,410.9 585.0,410.3" stroke="#482979"/>
<path d="M585.0,410.3 586.4,409.8 587.8,409.2 589.2,408.6 590.6,408.0 592.0,407.4 593.4,406.8 594.8,406.2 596.1,405.6 597.5,405.0 598.8,404.3" stroke="#482576"/>
<path d="M598.8,404.3 600.2,403.7 601.5,403.0 602.9,402.4 604.2,401.7 605.5,401.0 606.9,400.3 608.2,399.7 609.5,399.0 610.8,398.3 612.1,397.5" stroke="#482071"/>
<path d="M612.1,397.5 613.4,396.8 614.7,396.1 616.0,395.4 617.2,394.6 618.5,393.9 619.8,393.1 621.0,392.4 622.3,391.6 623.5,390.8 624.7,390.1" stroke="#481c6e"/>
<path d="M624.7,390.1 626.0,389.3 627.2,388.5 628.4,387.7 629.6,386.9 630.8,386.0 632.0,385.2" stroke="#48186a"/>
<path d="M632.0,385.2 633.2,384.4 634.4,383.6 635.5,382.7 636.7,381.9 637.8,381.0 639.0,380.2 640.1,379.3" stroke="#481467"/>
<path d="M640.1,379.3 641.3,378.4 642.4,377.5 643.5,376.7 644.6,375.8 645.7,374.9 646.8,374.0" stroke="#471063"/>
<path d="M646.8,374.0 647.9,373.0 649.0,372.1 650.0,371.2 651.1,370.3 652.2,369.3 653.2,368.4 654.2,367.5" stroke="#460a5d"/>
<path d="M654.2,367.5 655.3,366.5 656.3,365.6 657.3,364.6 658.3,363.6 659.3,362.6 660.3,361.7 661.3,360.7 662.2,359.7" stroke="#450559"/></g>
<g><path d="M464.7,83.8 463.4,83.9 462.1,84.1 460.9,84.2 459.6,84.3 458.4,84.5 457.1,84.6 455.9,84.8 454.6,84.9 453.4,85.1 452.2,85.3 450.9,85.4 449.7,85.6 448.4,85.8 447.2,86.0 446.0,86.2 444.7,86.5 443.5,86.7 442.3,86.9 441.0,87.1 439.8,87.4 438.6,87.6 437.4,87.9 436.1,88.2 434.9,88.4 433.7,88.7 432.5,89.0 431.3,89.3 430.1,89.6 428.9,89.9 427.7,90.2 426.5,90.5 425.3,90.8 424.1,91.2 422.9,91.5 421.7,91.9 420.5,92.2 419.4,92.6 418.2,92.9 417.0,93.3 415.8,93.7 414.7,94.1 413.5,94.5 412.3,94.9 411.2,95.3 410.0,95.7 408.9,96.1 407.7,96.5 406.6,96.9 405.4,97.4 404.3,97.8 403.2,98.3 402.1,98.7 400.9,99.2 399.8,99.7 398.7,100.1 397.6,100.6 396.5,101.1 395.4,101.6 394.3,102.1 393.2,102.6 392.1,103.1 391.0,103.6 389.9,104.1 388.8,104.7 387.8,105.2 386.7,105.7 385.6,106.3 384.6,106.8 383.5,107.4 382.5,108.0 381.5,108.5 380.4,109.1 379.4,109.7 378.4,110.3 377.3,110.9 376.3,111.5 375.3,112.1 374.3,112.7 373.3,113.3 372.3,113.9 371.3,114.6 370.3,115.2 369.3,115.8 368.4,116.5 367.4,117.1 366.4,117.8 365.5,118.4 364.5,119.1 363.6,119.8 362.7,120.4 361.7,121.1 360.8,121.8 359.9,122.5 359.0,123.2 358.1,123.9 357.1,124.6 356.3,125.3 355.4,126.0 354.5,126.7 353.6,127.5 352.7,128.2 351.9,128.9 351.0,129.7 350.2,130.4 349.3,131.2 348.5,131.9 347.6,132.7 346.8,133.4 346.0,134.2 345.2,135.0 344.4,135.8 343.6,136.5 342.8,137.3 342.0,138.1 341.2,138.9 340.5,139.7 339.7,140.5 338.9,141.3 338.2,142.1 337.4,143.0 336.7,143.8 336.0,144.6 335.3,145.4 334.5,146.3 333.8,147.1 333.1,147.9 332.4,148.8 331.8,149.6 331.1,150.5 330.4,151.3 329.8,152.2 329.1,153.1 328.5,153.9 327.8,154.8 327.2,155.7 326.6,156.6 325.9,157.4 325.3,158.3 324.7,159.2 324.1,160.1 323.6,161.0 323.0,161.9 322.4,162.8 321.8,163.7 321.3,164.6 320.7,165.5 320.2,166.4 319.7,167.3 319.2,168.3 318.6,169.2 318.1,170.1 317.6,171.0 317.1,172.0 316.7,172.9 316.2,173.8 315.7,174.8 315.3,175.7 314.8,176.7 314.4,177.6 314.0,178.5 313.5,179.5 313.1,180.5 312.7,181.4 312.3,182.4 311.9,183.3 311.5,184.3 311.2,185.2 310.8,186.2 310.4,187.2 310.1,188.2 309.7,189.1 309.4,190.1 309.1,191.1 308.8,192.1 308.5,193.0 308.2,194.0 307.9,195.0 307.6,196.0 307.3,197.0 307.1,197.9 306.8,198.9 306.6,199.9 306.3,200.9" stroke="#450559"/>
<path d="M306.3,200.9 306.1,201.9 305.9,202.9 305.7,203.9 305.5,204.9 305.3,205.9 305.1,206.9 304.9,207.9 304.8,208.9 304.6,209.9 304.5,210.9 304.3,211.9 304.2,212.9 304.1,213.9 303.9,214.9 303.8,215.9 303.7,216.9 303.7,217.9 303.6,218.9" stroke="#460a5d"/>
<path d="M303.6,218.9 303.5,219.9 303.4,220.9 303.4,222.0 303.3,223.0" stroke="#471063"/>
<path d="M303.3,223.0 303.3,224.0 303.3,225.0 303.3,226.0 303.3,227.0" stroke="#481467"/>
<path d="M303.3,227.0 303.3,228.0 303.3,229.0 303.3,230.0 303.3,231.0 303.3,232.0 303.4,233.1 303.4,234.1 303.5,235.1 303.6,236.1 303.7,237.1 303.7,238.1 303.8,239.1 303.9,240.1 304.1,241.1 304.2,242.1 304.3,243.1 304.5,244.1 304.6,245.1 304.8,246.1" stroke="#48186a"/>
<path d="M304.8,246.1 304.9,247.1 305.1,248.1 305.3,249.1 305.5,250.1 305.7,251.1 305.9,252.1 306.1,253.1 306.3,254.1 306.6,255.1 306.8,256.1" stroke="#481c6e"/>
<path d="M306.8,256.1 307.1,257.1 307.3,258.0 307.6,259.0 307.9,260.0 308.2,261.0 308.5,262.0 308.8,263.0" stroke="#482071"/>
<path d="M308.8,263.0 309.1,263.9 309.4,264.9 309.7,265.9 310.1,266.9 310.4,267.8 310.8,268.8" stroke="#482576"/>
<path d="M310.8,268.8 311.2,269.8 311.5,270.7 311.9,271.7 312.3,272.6" stroke="#482979"/>
<path d="M312.3,272.6 312.7,273.6 313.1,274.6 313.5,275.5 314.0,276.5 314.4,277.4" stroke="#472d7b"/>
<path d="M314.4,277.4 314.8,278.4 315.3,279.3 315.7,280.2 316.2,281.2" stroke="#46307e"/>
<path d="M316.2,281.2 316.7,282.1 317.1,283.0 317.6,284.0 318.1,284.9" stroke="#463480"/>
<path d="M318.1,284.9 318.6,285.8 319.2,286.8 319.7,287.7" stroke="#453882"/>
<path d="M319.7,287.7 320.2,288.6 320.7,289.5 321.3,290.4 321.8,291.3" stroke="#433d84"/>
<path d="M321.8,291.3 322.4,292.2 323.0,293.1 323.6,294.0" stroke="#424086"/>
<path d="M323.6,294.0 324.1,294.9 324.7,295.8 325.3,296.7" stroke="#414487"/>
<path d="M325.3,296.7 325.9,297.6 326.6,298.5 327.2,299.3" stroke="#3f4788"/>
<path d="M327.2,299.3 327.8,300.2 328.5,301.1 329.1,301.9 329.8,302.8 330.4,303.7" stroke="#3e4a89"/>
<path d="M330.4,303.7 331.1,304.5 331.8,305.4 332.4,306.2 333.1,307.1 333.8,307.9 334.5,308.7" stroke="#3c4f8a"/>
<path d="M334.5,308.7 335.3,309.6 336.0,310.4 336.7,311.2 337.4,312.0 338.2,312.9" stroke="#3b528b"/>
<path d="M338.2,312.9 338.9,313.7 339.7,314.5 340.5,315.3 341.2,316.1" stroke="#39558c"/>
<path d="M341.2,316.1 342.0,316.9 342.8,317.7 343.6,318.5 344.4,319.2 345.2,320.0" stroke="#38598c"/>
<path d="M345.2,320.0 346.0,320.8 346.8,321.6 347.6,322.3 348.5,323.1 349.3,323.8 350.2,324.6" stroke="#365c8d"/>
<path d="M350.2,324.6 351.0,325.3 351.9,326.1 352.7,326.8 353.6,327.5 354.5,328.3 355.4,329.0" stroke="#355f8d"/>
<path d="M355.4,329.0 356.3,329.7 357.1,330.4 358.1,331.1 359.0,331.8 359.9,332.5" stroke="#33638d"/>
<path d="M359.9,332.5 360.8,333.2 361.7,333.9 362.7,334.6 363.6,335.2 364.5,335.9" stroke="#31668e"/>
<path d="M364.5,335.9 365.5,336.6 366.4,337.2 367.4,337.9" stroke="#30698e"/>
<path d="M367.4,337.9 368.4,338.5 369.3,339.2 370.3,339.8" stroke="#2f6c8e"/>
<path d="M370.3,339.8 371.3,340.5 372.3,341.1 373.3,341.7" stroke="#2e6f8e"/>
<path d="M373.3,341.7 374.3,342.3 375.3,342.9" stroke="#2c728e"/>
<path d="M375.3,342.9 376.3,343.5 377.3,344.1 378.4,344.7" stroke="#2b758e"/>
<path d="M378.4,344.7 379.4,345.3 380.4,345.9 381.5,346.5" stroke="#2a788e"/>
<path d="M381.5,346.5 382.5,347.0" stroke="#297b8e"/>
<path d="M382.5,347.0 383.5,347.6 384.6,348.2" stroke="#277e8e"/>
<path d="M384.6,348.2 385.6,348.7 386.7,349.3" stroke="#26828e"/>
<path d="M386.7,349.3 387.8,349.8 388.8,350.3" stroke="#25848e"/>
<path d="M388.8,350.3 389.9,350.9 391.0,351.4" stroke="#24878e"/>
<path d="M391.0,351.4 392.1,351.9 393.2,352.4" stroke="#238a8d"/>
<path d="M393.2,352.4 394.3,352.9 395.4,353.4" stroke="#228d8d"/>
<path d="M395.4,353.4 396.5,353.9 397.6,354.4 398.7,354.9" stroke="#21918c"/>
<path d="M398.7,354.9 399.8,355.4 400.9,355.8" stroke="#20938c"/>
<path d="M400.9,355.8 402.1,356.3 403.2,356.7 404.3,357.2" stroke="#1f968b"/>
<path d="M404.3,357.2 405.4,357.6 406.6,358.1" stroke="#1f998a"/>
<path d="M406.6,358.1 407.7,358.5 408.9,358.9 410.0,359.3" stroke="#1e9c89"/>
<path d="M410.0,359.3 411.2,359.7 412.3,360.1" stroke="#1f9f88"/>
<path d="M412.3,360.1 413.5,360.5 414.7,360.9" stroke="#1fa287"/>
<path d="M414.7,360.9 415.8,361.3 417.0,361.7" stroke="#21a585"/>
<path d="M417.0,361.7 418.2,362.1" stroke="#22a884"/>
<path d="M418.2,362.1 419.4,362.4" stroke="#25ab82"/>
<path d="M419.4,362.4 420.5,362.8 421.7,363.1" stroke="#27ad81"/>
<path d="M421.7,363.1 422.9,363.5" stroke="#2cb17e"/>
<path d="M422.9,363.5 424.1,363.8" stroke="#2fb47c"/>
<path d="M424.1,363.8 425.3,364.2 426.5,364.5" stroke="#34b679"/>
<path d="M426.5,364.5 427.7,364.8 428.9,365.1" stroke="#38b977"/>
<path d="M428.9,365.1 430.1,365.4 431.3,365.7" stroke="#3dbc74"/>
<path d="M431.3,365.7 432.5,366.0 433.7,366.3" stroke="#42be71"/>
<path d="M433.7,366.3 434.9,366.6" stroke="#4ac16d"/>
<path d="M434.9,366.6 436.1,366.8 437.4,367.1" stroke="#50c46a"/>
<path d="M437.4,367.1 438.6,367.4 439.8,367.6 441.0,367.9" stroke="#56c667"/>
<path d="M441.0,367.9 442.3,368.1 443.5,368.3 444.7,368.6" stroke="#5cc863"/>
<path d="M444.7,368.6 446.0,368.8 447.2,369.0 448.4,369.2" stroke="#63cb5f"/>
<path d="M448.4,369.2 449.7,369.4 450.9,369.6 452.2,369.8" stroke="#6ccd5a"/>
<path d="M452.2,369.8 453.4,369.9 454.6,370.1 455.9,370.3" stroke="#73d056"/>
<path d="M455.9,370.3 457.1,370.4 458.4,370.6 459.6,370.7" stroke="#7ad151"/>
<path d="M459.6,370.7 460.9,370.8 462.1,371.0 463.4,371.1" stroke="#81d34d"/>
<path d="M463.4,371.1 464.7,371.2 465.9,371.3 467.2,371.4 468.4,371.5 469.7,371.6 470.9,371.6 472.2,371.7 473.5,371.8 474.7,371.8 476.0,371.9 477.3,371.9 478.5,372.0 479.8,372.0 481.0,372.0 482.3,372.0 483.6,372.0 484.8,372.0 486.1,372.0 487.4,372.0 488.6,372.0 489.9,372.0 491.1,371.9 492.4,371.9 493.7,371.8 494.9,371.8 496.2,371.7 497.5,371.6 498.7,371.6 500.0,371.5 501.2,371.4 502.5,371.3 503.7,371.2 505.0,371.1 506.3,371.0 507.5,370.8 508.8,370.7 510.0,370.6 511.3,370.4 512.5,370.3 513.8,370.1" stroke="#89d548"/>
<path d="M513.8,370.1 515.0,369.9 516.2,369.8 517.5,369.6" stroke="#81d34d"/>
<path d="M517.5,369.6 518.7,369.4 520.0,369.2 521.2,369.0" stroke="#7ad151"/>
<path d="M521.2,369.0 522.4,368.8 523.7,368.6 524.9,368.3 526.1,368.1" stroke="#73d056"/>
<path d="M526.1,368.1 527.4,367.9 528.6,367.6 529.8,367.4" stroke="#6ccd5a"/>
<path d="M529.8,367.4 531.0,367.1 532.3,366.8 533.5,366.6" stroke="#63cb5f"/>
<path d="M533.5,366.6 534.7,366.3 535.9,366.0 537.1,365.7" stroke="#5cc863"/>
<path d="M537.1,365.7 538.3,365.4 539.5,365.1 540.7,364.8 541.9,364.5" stroke="#56c667"/>
<path d="M541.9,364.5 543.1,364.2 544.3,363.8 545.5,363.5" stroke="#50c46a"/>
<path d="M545.5,363.5 546.7,363.1 547.9,362.8" stroke="#4ac16d"/>
<path d="M547.9,362.8 549.0,362.4 550.2,362.1 551.4,361.7" stroke="#42be71"/>
<path d="M551.4,361.7 552.6,361.3 553.7,360.9 554.9,360.5" stroke="#3dbc74"/>
<path d="M554.9,360.5 556.1,360.1" stroke="#38b977"/>
<path d="M556.1,360.1 557.2,359.7" stroke="#34b679"/>
<path d="M557.2,359.7 558.4,359.3 559.5,358.9" stroke="#2fb47c"/>
<path d="M559.5,358.9 560.7,358.5" stroke="#2cb17e"/>
<path d="M560.7,358.5 561.8,358.1" stroke="#27ad81"/>
<path d="M561.8,358.1 563.0,357.6 564.1,357.2" stroke="#25ab82"/>
<path d="M564.1,357.2 565.2,356.7" stroke="#22a884"/>
<path d="M565.2,356.7 566.3,356.3 567.5,355.8" stroke="#21a585"/>
<path d="M567.5,355.8 568.6,355.4" stroke="#1fa287"/>
<path d="M568.6,355.4 569.7,354.9" stroke="#1f9f88"/>
<path d="M569.7,354.9 570.8,354.4 571.9,353.9" stroke="#1e9c89"/>
<path d="M571.9,353.9 573.0,353.4" stroke="#21918c"/>
<path d="M573.0,353.4 574.1,352.9" stroke="#2e6f8e"/>
<path d="M574.1,352.9 575.2,352.4 576.3,351.9 577.4,351.4" stroke="#30698e"/>
<path d="M577.4,351.4 578.5,350.9 579.6,350.3 580.6,349.8 581.7,349.3 582.8,348.7 583.8,348.2" stroke="#31668e"/>
<path d="M583.8,348.2 584.9,347.6 585.9,347.0 586.9,346.5 588.0,345.9 589.0,345.3" stroke="#33638d"/>
<path d="M589.0,345.3 590.0,344.7 591.1,344.1 592.1,343.5 593.1,342.9 594.1,342.3 595.1,341.7" stroke="#355f8d"/>
<path d="M595.1,341.7 596.1,341.1 597.1,340.5" stroke="#365c8d"/>
<path d="M597.1,340.5 598.1,339.8" stroke="#38598c"/>
<path d="M598.1,339.8 599.1,339.2" stroke="#3b528b"/>
<path d="M599.1,339.2 600.0,338.5" stroke="#3c4f8a"/>
<path d="M600.0,338.5 601.0,337.9 602.0,337.2 602.9,336.6 603.9,335.9 604.8,335.2 605.7,334.6 606.7,333.9" stroke="#3e4a89"/>
<path d="M606.7,333.9 607.6,333.2 608.5,332.5 609.4,331.8 610.3,331.1 611.3,330.4 612.1,329.7 613.0,329.0 613.9,328.3 614.8,327.5" stroke="#3f4788"/>
<path d="M614.8,327.5 615.7,326.8 616.5,326.1 617.4,325.3 618.2,324.6 619.1,323.8 619.9,323.1 620.8,322.3 621.6,321.6 622.4,320.8" stroke="#414487"/>
<path d="M622.4,320.8 623.2,320.0 624.0,319.2 624.8,318.5 625.6,317.7 626.4,316.9" stroke="#424086"/>
<path d="M626.4,316.9 627.2,316.1 627.9,315.3 628.7,314.5 629.5,313.7" stroke="#433d84"/>
<path d="M629.5,313.7 630.2,312.9 631.0,312.0 631.7,311.2 632.4,310.4" stroke="#453882"/>
<path d="M632.4,310.4 633.1,309.6 633.9,308.7 634.6,307.9 635.3,307.1 636.0,306.2" stroke="#463480"/>
<path d="M636.0,306.2 636.6,305.4 637.3,304.5 638.0,303.7 638.6,302.8" stroke="#46307e"/>
<path d="M638.6,302.8 639.3,301.9 639.9,301.1 640.6,300.2 641.2,299.3 641.8,298.5" stroke="#472d7b"/>
<path d="M641.8,298.5 642.5,297.6 643.1,296.7 643.7,295.8 644.3,294.9 644.8,294.0 645.4,293.1 646.0,292.2 646.6,291.3" stroke="#482979"/>
<path d="M646.6,291.3 647.1,290.4 647.7,289.5 648.2,288.6 648.7,287.7 649.2,286.8 649.8,285.8 650.3,284.9 650.8,284.0" stroke="#482576"/>
<path d="M650.8,284.0 651.3,283.0 651.7,282.1 652.2,281.2 652.7,280.2 653.1,279.3 653.6,278.4 654.0,277.4 654.4,276.5 654.9,275.5 655.3,274.6" stroke="#482071"/>
<path d="M655.3,274.6 655.7,273.6 656.1,272.6 656.5,271.7 656.9,270.7 657.2,269.8 657.6,268.8 658.0,267.8 658.3,266.9 658.7,265.9 659.0,264.9 659.3,263.9" stroke="#481c6e"/>
<path d="M659.3,263.9 659.6,263.0 659.9,262.0 660.2,261.0 660.5,260.0 660.8,259.0 661.1,258.0 661.3,257.1 661.6,256.1 661.8,255.1 662.1,254.1 662.3,253.1 662.5,252.1 662.7,251.1 662.9,250.1 663.1,249.1 663.3,248.1" stroke="#48186a"/>
<path d="M663.3,248.1 663.5,247.1 663.6,246.1 663.8,245.1 663.9,244.1 664.1,243.1 664.2,242.1 664.3,241.1 664.5,240.1 664.6,239.1 664.7,238.1 664.7,237.1 664.8,236.1 664.9,235.1 665.0,234.1 665.0,233.1 665.1,232.0 665.1,231.0 665.1,230.0 665.1,229.0 665.1,228.0 665.1,227.0 665.1,226.0 665.1,225.0" stroke="#481467"/>
<path d="M665.1,225.0 665.1,224.0 665.1,223.0 665.0,222.0 665.0,220.9" stroke="#471063"/>
<path d="M665.0,220.9 664.9,219.9 664.8,218.9 664.7,217.9 664.7,216.9 664.6,215.9 664.5,214.9 664.3,213.9" stroke="#460a5d"/>
<path d="M664.3,213.9 664.2,212.9 664.1,211.9 663.9,210.9 663.8,209.9 663.6,208.9 663.5,207.9 663.3,206.9 663.1,205.9 662.9,204.9 662.7,203.9 662.5,202.9 662.3,201.9 662.1,200.9 661.8,199.9 661.6,198.9 661.3,197.9 661.1,197.0 660.8,196.0 660.5,195.0 660.2,194.0 659.9,193.0 659.6,192.1 659.3,191.1 659.0,190.1 658.7,189.1 658.3,188.2 658.0,187.2 657.6,186.2 657.2,185.2 656.9,184.3 656.5,183.3 656.1,182.4 655.7,181.4 655.3,180.5 654.9,179.5 654.4,178.5 654.0,177.6 653.6,176.7 653.1,175.7 652.7,174.8 652.2,173.8 651.7,172.9 651.3,172.0 650.8,171.0 650.3,170.1 649.8,169.2 649.2,168.3 648.7,167.3 648.2,166.4 647.7,165.5 647.1,164.6 646.6,163.7 646.0,162.8 645.4,161.9 644.8,161.0 644.3,160.1 643.7,159.2 643.1,158.3 642.5,157.4 641.8,156.6 641.2,155.7 640.6,154.8 639.9,153.9 639.3,153.1 638.6,152.2 638.0,151.3 637.3,150.5 636.6,149.6 636.0,148.8 635.3,147.9 634.6,147.1 633.9,146.3 633.1,145.4 632.4,144.6 631.7,143.8 631.0,143.0 630.2,142.1 629.5,141.3 628.7,140.5 627.9,139.7 627.2,138.9 626.4,138.1 625.6,137.3 624.8,136.5 624.0,135.8 623.2,135.0 622.4,134.2 621.6,133.4 620.8,132.7 619.9,131.9 619.1,131.2 618.2,130.4 617.4,129.7 616.5,128.9 615.7,128.2 614.8,127.5 613.9,126.7 613.0,126.0 612.1,125.3 611.3,124.6 610.3,123.9 609.4,123.2 608.5,122.5 607.6,121.8 606.7,121.1 605.7,120.4 604.8,119.8 603.9,119.1 602.9,118.4 602.0,117.8 601.0,117.1 600.0,116.5 599.1,115.8 598.1,115.2 597.1,114.6 596.1,113.9 595.1,113.3 594.1,112.7 593.1,112.1 592.1,111.5 591.1,110.9 590.0,110.3 589.0,109.7 588.0,109.1 586.9,108.5 585.9,108.0 584.9,107.4 583.8,106.8 582.8,106.3 581.7,105.7 580.6,105.2 579.6,104.7 578.5,104.1 577.4,103.6 576.3,103.1 575.2,102.6 574.1,102.1 573.0,101.6 571.9,101.1 570.8,100.6 569.7,100.1 568.6,99.7 567.5,99.2 566.3,98.7 565.2,98.3 564.1,97.8 563.0,97.4 561.8,96.9 560.7,96.5 559.5,96.1 558.4,95.7 557.2,95.3 556.1,94.9 554.9,94.5 553.7,94.1 552.6,93.7 551.4,93.3 550.2,92.9 549.0,92.6 547.9,92.2 546.7,91.9 545.5,91.5 544.3,91.2 543.1,90.8 541.9,90.5 540.7,90.2 539.5,89.9 538.3,89.6 537.1,89.3 535.9,89.0" stroke="#450559"/></g>
<polygon points="484.2,378.9 477.3,365.1 491.1,365.1" fill="#000"/>
<g><path d="M333.0,444.4 334.5,445.2 336.0,446.1 337.5,446.9 339.0,447.7 340.6,448.5 342.1,449.3 343.7,450.1 345.2,450.9 346.8,451.7 348.3,452.4 349.9,453.2 351.5,453.9 353.1,454.7 354.7,455.4 356.3,456.1 357.9,456.8 359.5,457.5" stroke="#460a5d"/>
<path d="M359.5,457.5 361.1,458.2 362.7,458.9 364.3,459.6 366.0,460.3 367.6,460.9 369.3,461.6 370.9,462.2 372.6,462.8 374.2,463.5 375.9,464.1 377.6,464.7 379.3,465.3 381.0,465.9 382.6,466.4 384.3,467.0 386.0,467.6 387.7,468.1 389.5,468.6 391.2,469.2 392.9,469.7 394.6,470.2 396.3,470.7 398.1,471.2 399.8,471.6" stroke="#471063"/>
<path d="M399.8,471.6 401.6,472.1 403.3,472.6 405.0,473.0 406.8,473.5 408.6,473.9 410.3,474.3 412.1,474.7 413.8,475.1 415.6,475.5 417.4,475.9 419.2,476.3 421.0,476.6 422.7,477.0 424.5,477.3 426.3,477.6 428.1,478.0 429.9,478.3 431.7,478.6 433.5,478.9 435.3,479.1 437.1,479.4 438.9,479.7 440.7,479.9 442.5,480.1 444.4,480.4 446.2,480.6 448.0,480.8 449.8,481.0 451.6,481.2 453.5,481.4 455.3,481.5 457.1,481.7 458.9,481.8 460.8,482.0 462.6,482.1 464.4,482.2 466.2,482.3" stroke="#481467"/>
<path d="M466.2,482.3 468.1,482.4 469.9,482.5 471.8,482.6 473.6,482.6 475.4,482.7 477.3,482.7 479.1,482.8 480.9,482.8 482.8,482.8 484.6,482.8 486.4,482.8 488.3,482.8 490.1,482.8 491.9,482.7 493.8,482.7 495.6,482.6 497.5,482.5 499.3,482.5 501.1,482.4 503.0,482.3 504.8,482.2" stroke="#48186a"/>
<path d="M504.8,482.2 506.6,482.0 508.4,481.9 510.3,481.8 512.1,481.6 513.9,481.5 515.8,481.3 517.6,481.1 519.4,480.9 521.2,480.7 523.0,480.5 524.8,480.3 526.7,480.0 528.5,479.8 530.3,479.5 532.1,479.3 533.9,479.0 535.7,478.7 537.5,478.4 539.3,478.1 541.1,477.8 542.9,477.5 544.7,477.2 546.4,476.8 548.2,476.5 550.0,476.1 551.8,475.7 553.6,475.3 555.3,474.9 557.1,474.5 558.9,474.1 560.6,473.7 562.4,473.3 564.1,472.8 565.9,472.4 567.6,471.9 569.3,471.4" stroke="#481467"/>
<path d="M569.3,471.4 571.1,471.0 572.8,470.5 574.5,470.0 576.3,469.5 578.0,468.9 579.7,468.4 581.4,467.9 583.1,467.3 584.8,466.8 586.5,466.2 588.2,465.6 589.9,465.0 591.5,464.4 593.2,463.8 594.9,463.2 596.5,462.6 598.2,461.9 599.8,461.3 601.5,460.6 603.1,460.0 604.8,459.3 606.4,458.6 608.0,457.9 609.6,457.2" stroke="#471063"/>
<path d="M609.6,457.2 611.2,456.5 612.8,455.8 614.4,455.1 616.0,454.4 617.6,453.6 619.2,452.9 620.8,452.1 622.3,451.3 623.9,450.5 625.4,449.8 627.0,449.0 628.5,448.2 630.0,447.3 631.6,446.5 633.1,445.7 634.6,444.9 636.1,444.0 637.6,443.2 639.1,442.3" stroke="#460a5d"/>
<path d="M639.1,442.3 640.5,441.4 642.0,440.5 643.5,439.6 644.9,438.8 646.4,437.8 647.8,436.9 649.2,436.0 650.6,435.1 652.1,434.1" stroke="#450559"/></g>
<g><path d="M248.9,179.2 248.0,180.6 247.2,181.9 246.4,183.2 245.6,184.5 244.8,185.9 244.0,187.2 243.2,188.5 242.5,189.9 241.7,191.2 241.0,192.6 240.2,194.0 239.5,195.3 238.8,196.7 238.1,198.1 237.5,199.4 236.8,200.8" stroke="#450559"/>
<path d="M236.8,200.8 236.1,202.2 235.5,203.6 234.9,205.0 234.3,206.4 233.7,207.8 233.1,209.2 232.5,210.6 231.9,212.0 231.4,213.4 230.8,214.8 230.3,216.2 229.8,217.6 229.3,219.0 228.8,220.5 228.3,221.9 227.8,223.3 227.3,224.8 226.9,226.2 226.5,227.6 226.1,229.1 225.6,230.5 225.3,232.0 224.9,233.4 224.5,234.9 224.1,236.3 223.8,237.8 223.5,239.2 223.2,240.7 222.9,242.1 222.6,243.6 222.3,245.0 222.0,246.5 221.8,248.0" stroke="#460a5d"/>
<path d="M221.8,248.0 221.5,249.4 221.3,250.9 221.1,252.4 220.9,253.8 220.7,255.3 220.5,256.8" stroke="#471063"/>
<path d="M220.5,256.8 220.3,258.3 220.2,259.7 220.1,261.2 219.9,262.7 219.8,264.2 219.7,265.6" stroke="#481467"/>
<path d="M219.7,265.6 219.6,267.1 219.6,268.6 219.5,270.1 219.4,271.5 219.4,273.0 219.4,274.5 219.4,276.0" stroke="#48186a"/>
<path d="M219.4,276.0 219.4,277.4 219.4,278.9 219.4,280.4 219.5,281.9 219.5,283.4 219.6,284.8 219.7,286.3 219.8,287.8 219.9,289.3 220.0,290.7 220.1,292.2 220.3,293.7 220.4,295.2 220.6,296.6 220.8,298.1 221.0,299.6 221.2,301.0 221.4,302.5 221.7,304.0 221.9,305.4 222.2,306.9 222.5,308.4 222.7,309.8 223.0,311.3 223.4,312.7 223.7,314.2 224.0,315.6 224.4,317.1 224.7,318.5" stroke="#481c6e"/>
<path d="M224.7,318.5 225.1,320.0 225.5,321.4 225.9,322.9 226.3,324.3 226.7,325.8 227.2,327.2 227.6,328.6 228.1,330.1 228.6,331.5 229.1,332.9 229.6,334.3 230.1,335.8 230.6,337.2 231.1,338.6 231.7,340.0" stroke="#482071"/>
<path d="M231.7,340.0 232.3,341.4 232.8,342.8 233.4,344.2 234.0,345.6 234.6,347.0 235.3,348.4 235.9,349.8 236.5,351.2 237.2,352.5 237.9,353.9" stroke="#482576"/>
<path d="M237.9,353.9 238.6,355.3 239.3,356.7 240.0,358.0 240.7,359.4 241.4,360.7 242.2,362.1 242.9,363.4 243.7,364.8 244.5,366.1 245.3,367.5 246.1,368.8 246.9,370.1 247.7,371.4 248.6,372.8 249.4,374.1 250.3,375.4 251.1,376.7 252.0,378.0 252.9,379.3 253.8,380.6 254.7,381.8 255.7,383.1" stroke="#482979"/>
<path d="M255.7,383.1 256.6,384.4 257.6,385.7 258.5,386.9 259.5,388.2 260.5,389.4 261.5,390.7 262.5,391.9 263.5,393.2 264.5,394.4 265.6,395.6 266.6,396.8 267.7,398.0 268.8,399.2 269.8,400.4 270.9,401.6 272.0,402.8 273.1,404.0 274.3,405.2 275.4,406.3 276.5,407.5" stroke="#472d7b"/>
<path d="M276.5,407.5 277.7,408.7 278.9,409.8 280.0,411.0 281.2,412.1 282.4,413.2 283.6,414.3 284.8,415.5 286.0,416.6 287.3,417.7 288.5,418.8 289.8,419.9 291.0,420.9" stroke="#46307e"/>
<path d="M291.0,420.9 292.3,422.0 293.6,423.1 294.9,424.1 296.2,425.2 297.5,426.2 298.8,427.3 300.1,428.3 301.5,429.3 302.8,430.4 304.2,431.4 305.5,432.4" stroke="#463480"/>
<path d="M305.5,432.4 306.9,433.4 308.3,434.3 309.6,435.3 311.0,436.3 312.4,437.3 313.9,438.2 315.3,439.2 316.7,440.1 318.1,441.0" stroke="#453882"/>
<path d="M318.1,441.0 319.6,441.9 321.0,442.9 322.5,443.8 324.0,444.7 325.5,445.6 326.9,446.4 328.4,447.3" stroke="#433d84"/>
<path d="M328.4,447.3 329.9,448.2 331.4,449.0 333.0,449.9 334.5,450.7 336.0,451.6 337.5,452.4 339.1,453.2" stroke="#424086"/>
<path d="M339.1,453.2 340.6,454.0 342.2,454.8 343.8,455.6 345.3,456.4 346.9,457.1 348.5,457.9 350.1,458.6 351.7,459.4" stroke="#414487"/>
<path d="M351.7,459.4 353.3,460.1 354.9,460.8 356.5,461.6 358.2,462.3 359.8,463.0 361.4,463.7 363.1,464.3" stroke="#3f4788"/>
<path d="M363.1,464.3 364.7,465.0" stroke="#3e4a89"/>
<path d="M364.7,465.0 366.4,465.7" stroke="#3c4f8a"/>
<path d="M366.4,465.7 368.0,466.3" stroke="#38598c"/>
<path d="M368.0,466.3 369.7,467.0 371.4,467.6" stroke="#355f8d"/>
<path d="M371.4,467.6 373.0,468.2 374.7,468.8 376.4,469.5" stroke="#33638d"/>
<path d="M376.4,469.5 378.1,470.1 379.8,470.6" stroke="#31668e"/>
<path d="M379.8,470.6 381.5,471.2 383.2,471.8" stroke="#30698e"/>
<path d="M383.2,471.8 384.9,472.3" stroke="#2f6c8e"/>
<path d="M384.9,472.3 386.6,472.9" stroke="#2e6f8e"/>
<path d="M386.6,472.9 388.4,473.4" stroke="#2c728e"/>
<path d="M388.4,473.4 390.1,474.0" stroke="#2b758e"/>
<path d="M390.1,474.0 391.8,474.5" stroke="#2a788e"/>
<path d="M391.8,474.5 393.6,475.0" stroke="#297b8e"/>
<path d="M393.6,475.0 395.3,475.5" stroke="#277e8e"/>
<path d="M395.3,475.5 397.0,476.0" stroke="#26828e"/>
<path d="M397.0,476.0 398.8,476.5" stroke="#25848e"/>
<path d="M398.8,476.5 400.5,476.9" stroke="#238a8d"/>
<path d="M400.5,476.9 402.3,477.4" stroke="#228d8d"/>
<path d="M402.3,477.4 404.1,477.9" stroke="#21918c"/>
<path d="M404.1,477.9 405.8,478.3" stroke="#1f968b"/>
<path d="M405.8,478.3 407.6,478.7" stroke="#1f998a"/>
<path d="M407.6,478.7 409.4,479.2" stroke="#1e9c89"/>
<path d="M409.4,479.2 411.2,479.6" stroke="#1fa287"/>
<path d="M411.2,479.6 412.9,480.0" stroke="#21a585"/>
<path d="M412.9,480.0 414.7,480.4" stroke="#25ab82"/>
<path d="M414.7,480.4 416.5,480.7" stroke="#27ad81"/>
<path d="M416.5,480.7 418.3,481.1" stroke="#2fb47c"/>
<path d="M418.3,481.1 420.1,481.5" stroke="#38b977"/>
<path d="M420.1,481.5 421.9,481.8" stroke="#3dbc74"/>
<path d="M421.9,481.8 423.7,482.2" stroke="#4ac16d"/>
<path d="M423.7,482.2 425.5,482.5" stroke="#56c667"/>
<path d="M425.5,482.5 427.3,482.8" stroke="#5cc863"/>
<path d="M427.3,482.8 429.1,483.1" stroke="#63cb5f"/>
<path d="M429.1,483.1 430.9,483.4" stroke="#6ccd5a"/>
<path d="M430.9,483.4 432.7,483.7" stroke="#73d056"/>
<path d="M432.7,483.7 434.5,484.0 436.4,484.3" stroke="#7ad151"/>
<path d="M436.4,484.3 438.2,484.6" stroke="#81d34d"/>
<path d="M438.2,484.6 440.0,484.8" stroke="#89d548"/>
<path d="M440.0,484.8 441.8,485.0" stroke="#93d741"/>
<path d="M441.8,485.0 443.7,485.3 445.5,485.5" stroke="#9bd93c"/>
<path d="M445.5,485.5 447.3,485.7" stroke="#a2da37"/>
<path d="M447.3,485.7 449.2,485.9" stroke="#aadc32"/>
<path d="M449.2,485.9 451.0,486.1 452.8,486.3" stroke="#b2dd2d"/>
<path d="M452.8,486.3 454.7,486.5" stroke="#bddf26"/>
<path d="M454.7,486.5 456.5,486.6 458.3,486.8" stroke="#c5e021"/>
<path d="M458.3,486.8 460.2,486.9 462.0,487.0 463.9,487.1 465.7,487.3 467.6,487.4 469.4,487.4 471.3,487.5 473.1,487.6 475.0,487.6 476.8,487.7 478.7,487.7 480.5,487.8 482.4,487.8 484.2,487.8 486.1,487.8 487.9,487.8 489.8,487.7 491.6,487.7 493.5,487.6 495.3,487.6 497.2,487.5 499.0,487.4 500.8,487.4 502.7,487.3 504.5,487.1 506.4,487.0 508.2,486.9 510.1,486.8 511.9,486.6 513.8,486.4" stroke="#cde11d"/>
<path d="M513.8,486.4 515.6,486.3 517.4,486.1" stroke="#c5e021"/>
<path d="M517.4,486.1 519.3,485.9 521.1,485.7" stroke="#bddf26"/>
<path d="M521.1,485.7 522.9,485.5 524.8,485.3" stroke="#b2dd2d"/>
<path d="M524.8,485.3 526.6,485.0" stroke="#aadc32"/>
<path d="M526.6,485.0 528.4,484.8" stroke="#a2da37"/>
<path d="M528.4,484.8 530.2,484.6" stroke="#9bd93c"/>
<path d="M530.2,484.6 532.1,484.3" stroke="#89d548"/>
<path d="M532.1,484.3 533.9,484.0" stroke="#81d34d"/>
<path d="M533.9,484.0 535.7,483.7" stroke="#7ad151"/>
<path d="M535.7,483.7 537.5,483.4" stroke="#73d056"/>
<path d="M537.5,483.4 539.3,483.1" stroke="#6ccd5a"/>
<path d="M539.3,483.1 541.1,482.8" stroke="#63cb5f"/>
<path d="M541.1,482.8 542.9,482.5" stroke="#5cc863"/>
<path d="M542.9,482.5 544.7,482.2" stroke="#42be71"/>
<path d="M544.7,482.2 546.5,481.8" stroke="#2cb17e"/>
<path d="M546.5,481.8 548.3,481.5" stroke="#25ab82"/>
<path d="M548.3,481.5 550.1,481.1" stroke="#22a884"/>
<path d="M550.1,481.1 551.9,480.7" stroke="#21a585"/>
<path d="M551.9,480.7 553.7,480.4" stroke="#1fa287"/>
<path d="M553.7,480.4 555.5,480.0 557.3,479.6" stroke="#1f9f88"/>
<path d="M557.3,479.6 559.0,479.1" stroke="#1e9c89"/>
<path d="M559.0,479.1 560.8,478.7" stroke="#1f998a"/>
<path d="M560.8,478.7 562.6,478.3" stroke="#1f968b"/>
<path d="M562.6,478.3 564.3,477.9" stroke="#20938c"/>
<path d="M564.3,477.9 566.1,477.4" stroke="#21918c"/>
<path d="M566.1,477.4 567.9,476.9 569.6,476.5" stroke="#228d8d"/>
<path d="M569.6,476.5 571.4,476.0" stroke="#238a8d"/>
<path d="M571.4,476.0 573.1,475.5" stroke="#24878e"/>
<path d="M573.1,475.5 574.9,475.0 576.6,474.5" stroke="#25848e"/>
<path d="M576.6,474.5 578.3,474.0" stroke="#26828e"/>
<path d="M578.3,474.0 580.0,473.4 581.8,472.9" stroke="#277e8e"/>
<path d="M581.8,472.9 583.5,472.3" stroke="#297b8e"/>
<path d="M583.5,472.3 585.2,471.8 586.9,471.2" stroke="#2a788e"/>
<path d="M586.9,471.2 588.6,470.6" stroke="#2b758e"/>
<path d="M588.6,470.6 590.3,470.0" stroke="#2c728e"/>
<path d="M590.3,470.0 592.0,469.5 593.7,468.8" stroke="#2e6f8e"/>
<path d="M593.7,468.8 595.4,468.2" stroke="#2f6c8e"/>
<path d="M595.4,468.2 597.1,467.6 598.7,467.0" stroke="#30698e"/>
<path d="M598.7,467.0 600.4,466.3" stroke="#31668e"/>
<path d="M600.4,466.3 602.0,465.7" stroke="#33638d"/>
<path d="M602.0,465.7 603.7,465.0 605.3,464.3" stroke="#355f8d"/>
<path d="M605.3,464.3 607.0,463.7 608.6,463.0" stroke="#365c8d"/>
<path d="M608.6,463.0 610.3,462.3 611.9,461.6" stroke="#38598c"/>
<path d="M611.9,461.6 613.5,460.8 615.1,460.1" stroke="#39558c"/>
<path d="M615.1,460.1 616.7,459.4 618.3,458.6" stroke="#3b528b"/>
<path d="M618.3,458.6 619.9,457.9 621.5,457.1" stroke="#3c4f8a"/>
<path d="M621.5,457.1 623.1,456.4 624.6,455.6 626.2,454.8" stroke="#3e4a89"/>
<path d="M626.2,454.8 627.8,454.0 629.3,453.2 630.9,452.4 632.4,451.5" stroke="#3f4788"/>
<path d="M632.4,451.5 633.9,450.7 635.5,449.9 637.0,449.0 638.5,448.2 640.0,447.3" stroke="#414487"/>
<path d="M640.0,447.3 641.5,446.4 643.0,445.5 644.4,444.7 645.9,443.8 647.4,442.9" stroke="#424086"/>
<path d="M647.4,442.9 648.8,441.9 650.3,441.0 651.7,440.1 653.1,439.1 654.5,438.2" stroke="#433d84"/>
<path d="M654.5,438.2 656.0,437.2 657.4,436.3 658.8,435.3 660.1,434.3 661.5,433.3 662.9,432.4 664.3,431.4" stroke="#453882"/>
<path d="M664.3,431.4 665.6,430.3 667.0,429.3 668.3,428.3 669.6,427.3 670.9,426.2 672.2,425.2 673.5,424.1 674.8,423.1 676.1,422.0 677.4,420.9 678.6,419.9" stroke="#463480"/>
<path d="M678.6,419.9 679.9,418.8 681.1,417.7 682.4,416.6 683.6,415.5 684.8,414.3 686.0,413.2 687.2,412.1 688.4,411.0 689.6,409.8 690.7,408.7 691.9,407.5 693.0,406.3" stroke="#46307e"/>
<path d="M693.0,406.3 694.1,405.2 695.3,404.0 696.4,402.8 697.5,401.6 698.6,400.4 699.7,399.2 700.7,398.0 701.8,396.8 702.8,395.6 703.9,394.4 704.9,393.1 705.9,391.9 706.9,390.7 707.9,389.4 708.9,388.2 709.9,386.9 710.8,385.7 711.8,384.4 712.7,383.1 713.7,381.8" stroke="#472d7b"/>
<path d="M713.7,381.8 714.6,380.6 715.5,379.3 716.4,378.0 717.3,376.7 718.1,375.4 719.0,374.1 719.8,372.8 720.7,371.4 721.5,370.1 722.3,368.8 723.1,367.5 723.9,366.1 724.7,364.8 725.5,363.4 726.2,362.1 727.0,360.7 727.7,359.4 728.4,358.0 729.1,356.7 729.8,355.3 730.5,353.9 731.2,352.5" stroke="#482979"/>
<path d="M731.2,352.5 731.9,351.2 732.5,349.8 733.1,348.4 733.8,347.0 734.4,345.6 735.0,344.2 735.6,342.8 736.1,341.4 736.7,340.0 737.3,338.6" stroke="#482576"/>
<path d="M737.3,338.6 737.8,337.2 738.3,335.7 738.8,334.3 739.3,332.9 739.8,331.5 740.3,330.0 740.8,328.6 741.2,327.2 741.7,325.7 742.1,324.3 742.5,322.9 742.9,321.4 743.3,320.0 743.7,318.5 744.0,317.1" stroke="#482071"/>
<path d="M744.0,317.1 744.4,315.6 744.7,314.2 745.0,312.7 745.4,311.3 745.7,309.8 745.9,308.3 746.2,306.9 746.5,305.4 746.7,304.0 747.0,302.5 747.2,301.0 747.4,299.6 747.6,298.1 747.8,296.6 748.0,295.1 748.1,293.7 748.3,292.2 748.4,290.7 748.5,289.3 748.6,287.8 748.7,286.3 748.8,284.8 748.9,283.3 748.9,281.9 749.0,280.4 749.0,278.9 749.0,277.4 749.0,276.0 749.0,274.5" stroke="#481c6e"/>
<path d="M749.0,274.5 749.0,273.0 749.0,271.5 748.9,270.0 748.8,268.6 748.8,267.1 748.7,265.6 748.6,264.1" stroke="#48186a"/>
<path d="M748.6,264.1 748.5,262.7 748.3,261.2 748.2,259.7 748.1,258.2 747.9,256.8 747.7,255.3" stroke="#481467"/>
<path d="M747.7,255.3 747.5,253.8 747.3,252.4 747.1,250.9 746.9,249.4 746.6,248.0 746.4,246.5" stroke="#471063"/>
<path d="M746.4,246.5 746.1,245.0 745.8,243.6 745.5,242.1 745.2,240.7 744.9,239.2 744.6,237.7 744.2,236.3 743.9,234.8 743.5,233.4 743.1,231.9 742.7,230.5 742.3,229.1 741.9,227.6 741.5,226.2 741.0,224.8 740.6,223.3 740.1,221.9 739.6,220.5 739.1,219.0 738.6,217.6 738.1,216.2 737.6,214.8 737.0,213.4 736.5,212.0 735.9,210.6 735.3,209.2 734.7,207.8 734.1,206.4 733.5,205.0 732.9,203.6 732.3,202.2 731.6,200.8 730.9,199.4" stroke="#460a5d"/>
<path d="M730.9,199.4 730.3,198.0 729.6,196.7 728.9,195.3 728.1,193.9 727.4,192.6 726.7,191.2 725.9,189.9" stroke="#450559"/></g>
<polygon points="484.2,480.9 477.3,494.7 491.1,494.7" fill="#000"/>
<g><path d="M303.8,450.6 305.2,451.6 306.7,452.6 308.2,453.6 309.6,454.6 311.1,455.5" stroke="#440154"/>
<path d="M311.1,455.5 312.6,456.5 314.1,457.4 315.7,458.4 317.2,459.3 318.7,460.3 320.3,461.2 321.8,462.1 323.4,463.0 324.9,463.9 326.5,464.8 328.1,465.7 329.7,466.5 331.3,467.4 332.9,468.2 334.5,469.1 336.1,469.9 337.7,470.7 339.4,471.5 341.0,472.3 342.7,473.1 344.3,473.9 346.0,474.7 347.6,475.5" stroke="#450559"/>
<path d="M347.6,475.5 349.3,476.2 351.0,477.0 352.7,477.7 354.4,478.5 356.1,479.2 357.8,479.9 359.5,480.6 361.2,481.3 362.9,482.0 364.7,482.6 366.4,483.3 368.2,484.0 369.9,484.6 371.7,485.2 373.4,485.9 375.2,486.5 376.9,487.1 378.7,487.7 380.5,488.3 382.3,488.8" stroke="#460a5d"/>
<path d="M382.3,488.8 384.1,489.4 385.9,489.9 387.7,490.5 389.5,491.0 391.3,491.6 393.1,492.1 394.9,492.6 396.7,493.1" stroke="#471063"/>
<path d="M396.7,493.1 398.6,493.5 400.4,494.0 402.2,494.5 404.1,494.9 405.9,495.4 407.8,495.8 409.6,496.2 411.5,496.6" stroke="#481467"/>
<path d="M411.5,496.6 413.3,497.0 415.2,497.4 417.1,497.8 418.9,498.2 420.8,498.6 422.7,498.9 424.6,499.2" stroke="#48186a"/>
<path d="M424.6,499.2 426.4,499.6 428.3,499.9 430.2,500.2 432.1,500.5 434.0,500.8 435.9,501.0 437.8,501.3 439.7,501.6" stroke="#481c6e"/>
<path d="M439.7,501.6 441.6,501.8 443.5,502.0 445.4,502.3 447.3,502.5 449.2,502.7 451.1,502.9 453.0,503.1 454.9,503.2 456.8,503.4 458.8,503.5 460.7,503.7 462.6,503.8 464.5,503.9 466.4,504.0 468.4,504.1 470.3,504.2 472.2,504.3 474.1,504.3 476.1,504.4 478.0,504.4 479.9,504.4 481.8,504.5 483.8,504.5 485.7,504.5 487.6,504.4 489.5,504.4 491.5,504.4 493.4,504.3 495.3,504.3 497.2,504.2 499.1,504.1 501.1,504.1 503.0,504.0 504.9,503.8 506.8,503.7 508.7,503.6 510.7,503.4 512.6,503.3 514.5,503.1 516.4,503.0 518.3,502.8 520.2,502.6 522.1,502.4 524.0,502.1 525.9,501.9 527.8,501.7 529.7,501.4 531.6,501.2" stroke="#482071"/>
<path d="M531.6,501.2 533.5,500.9 535.4,500.6 537.3,500.3 539.2,500.0 541.1,499.7 543.0,499.4 544.9,499.1 546.7,498.7 548.6,498.4 550.5,498.0" stroke="#481c6e"/>
<path d="M550.5,498.0 552.3,497.6 554.2,497.2 556.1,496.8 557.9,496.4 559.8,496.0 561.6,495.6 563.5,495.1 565.3,494.7 567.1,494.2" stroke="#48186a"/>
<path d="M567.1,494.2 569.0,493.8 570.8,493.3 572.6,492.8 574.5,492.3 576.3,491.8 578.1,491.3 579.9,490.7 581.7,490.2 583.5,489.7 585.3,489.1" stroke="#481467"/>
<path d="M585.3,489.1 587.1,488.5 588.9,487.9 590.6,487.4 592.4,486.8 594.2,486.1 595.9,485.5 597.7,484.9 599.4,484.3 601.2,483.6 602.9,482.9 604.7,482.3" stroke="#471063"/>
<path d="M604.7,482.3 606.4,481.6 608.1,480.9 609.8,480.2 611.5,479.5 613.2,478.8 614.9,478.1 616.6,477.3 618.3,476.6 620.0,475.8 621.7,475.1 623.3,474.3 625.0,473.5 626.6,472.7" stroke="#460a5d"/>
<path d="M626.6,472.7 628.3,471.9 629.9,471.1 631.5,470.3 633.2,469.5 634.8,468.6 636.4,467.8 638.0,466.9 639.6,466.1 641.2,465.2 642.7,464.3" stroke="#450559"/></g>
<g><path d="M200.0,247.1 199.5,248.7 199.1,250.3 198.6,251.9 198.2,253.5 197.8,255.1 197.4,256.7 197.0,258.3 196.7,259.9 196.3,261.5 196.0,263.1 195.6,264.7" stroke="#471063"/>
<path d="M195.6,264.7 195.3,266.3 195.0,267.9 194.7,269.5 194.5,271.2 194.2,272.8 194.0,274.4 193.8,276.0 193.5,277.6 193.3,279.3 193.2,280.9" stroke="#481467"/>
<path d="M193.2,280.9 193.0,282.5 192.8,284.2 192.7,285.8 192.6,287.4 192.4,289.0 192.3,290.7 192.3,292.3 192.2,293.9 192.1,295.6" stroke="#48186a"/>
<path d="M192.1,295.6 192.1,297.2 192.1,298.8 192.1,300.5 192.1,302.1 192.1,303.7 192.1,305.4 192.1,307.0 192.2,308.6 192.3,310.2 192.4,311.9 192.5,313.5 192.6,315.1 192.7,316.8 192.8,318.4 193.0,320.0 193.2,321.6 193.4,323.3 193.6,324.9 193.8,326.5 194.0,328.1 194.3,329.8 194.5,331.4 194.8,333.0 195.1,334.6 195.4,336.2 195.7,337.8 196.0,339.4 196.3,341.1 196.7,342.7 197.1,344.3 197.5,345.9 197.9,347.5 198.3,349.1 198.7,350.7 199.1,352.3 199.6,353.8 200.1,355.4 200.5,357.0" stroke="#481c6e"/>
<path d="M200.5,357.0 201.0,358.6 201.5,360.2 202.1,361.8 202.6,363.3 203.2,364.9 203.7,366.5 204.3,368.0 204.9,369.6 205.5,371.2 206.1,372.7 206.8,374.3 207.4,375.8 208.1,377.4 208.7,378.9 209.4,380.4 210.1,382.0 210.8,383.5 211.6,385.0 212.3,386.5 213.1,388.1 213.8,389.6 214.6,391.1 215.4,392.6" stroke="#482071"/>
<path d="M215.4,392.6 216.2,394.1 217.0,395.6 217.9,397.1 218.7,398.6 219.6,400.0 220.4,401.5 221.3,403.0 222.2,404.4 223.1,405.9 224.1,407.4 225.0,408.8 225.9,410.3 226.9,411.7 227.9,413.1 228.9,414.6 229.9,416.0 230.9,417.4 231.9,418.8 232.9,420.2 234.0,421.6" stroke="#482576"/>
<path d="M234.0,421.6 235.0,423.0 236.1,424.4 237.2,425.8 238.3,427.2 239.4,428.5 240.5,429.9 241.7,431.3 242.8,432.6 244.0,434.0 245.1,435.3 246.3,436.6 247.5,438.0 248.7,439.3 249.9,440.6 251.1,441.9 252.4,443.2 253.6,444.5 254.9,445.8 256.2,447.0" stroke="#482979"/>
<path d="M256.2,447.0 257.4,448.3 258.7,449.6 260.0,450.8 261.4,452.1 262.7,453.3 264.0,454.6 265.4,455.8 266.7,457.0 268.1,458.2 269.5,459.4 270.9,460.6 272.3,461.8 273.7,463.0 275.1,464.1 276.5,465.3" stroke="#472d7b"/>
<path d="M276.5,465.3 278.0,466.5 279.4,467.6 280.9,468.8 282.4,469.9 283.8,471.0" stroke="#46307e"/>
<path d="M283.8,471.0 285.3,472.1 286.8,473.2 288.3,474.3 289.9,475.4 291.4,476.5" stroke="#463480"/>
<path d="M291.4,476.5 292.9,477.6 294.5,478.6 296.0,479.7 297.6,480.7" stroke="#453882"/>
<path d="M297.6,480.7 299.2,481.8 300.8,482.8 302.4,483.8 304.0,484.8 305.6,485.8" stroke="#433d84"/>
<path d="M305.6,485.8 307.2,486.8 308.8,487.8 310.5,488.8 312.1,489.8" stroke="#424086"/>
<path d="M312.1,489.8 313.8,490.7 315.4,491.7 317.1,492.6 318.8,493.5" stroke="#414487"/>
<path d="M318.8,493.5 320.5,494.4 322.2,495.4 323.9,496.3 325.6,497.1" stroke="#3f4788"/>
<path d="M325.6,497.1 327.3,498.0 329.0,498.9 330.8,499.8" stroke="#3e4a89"/>
<path d="M330.8,499.8 332.5,500.6 334.3,501.5 336.0,502.3 337.8,503.1" stroke="#3c4f8a"/>
<path d="M337.8,503.1 339.6,503.9 341.3,504.7 343.1,505.5" stroke="#3b528b"/>
<path d="M343.1,505.5 344.9,506.3 346.7,507.1 348.5,507.8 350.3,508.6" stroke="#39558c"/>
<path d="M350.3,508.6 352.2,509.3 354.0,510.1 355.8,510.8" stroke="#38598c"/>
<path d="M355.8,510.8 357.6,511.5 359.5,512.2 361.3,512.9 363.2,513.6" stroke="#365c8d"/>
<path d="M363.2,513.6 365.1,514.2 366.9,514.9 368.8,515.6" stroke="#355f8d"/>
<path d="M368.8,515.6 370.7,516.2 372.6,516.8 374.5,517.4 376.4,518.0" stroke="#33638d"/>
<path d="M376.4,518.0 378.3,518.6 380.2,519.2 382.1,519.8" stroke="#31668e"/>
<path d="M382.1,519.8 384.0,520.4 385.9,520.9 387.8,521.5 389.8,522.0" stroke="#30698e"/>
<path d="M389.8,522.0 391.7,522.5 393.6,523.0 395.6,523.5 397.5,524.0" stroke="#2f6c8e"/>
<path d="M397.5,524.0 399.5,524.5 401.5,525.0 403.4,525.4 405.4,525.9" stroke="#2e6f8e"/>
<path d="M405.4,525.9 407.3,526.3 409.3,526.7 411.3,527.1" stroke="#2c728e"/>
<path d="M411.3,527.1 413.3,527.5 415.3,527.9 417.2,528.3 419.2,528.7 421.2,529.0 423.2,529.4" stroke="#2b758e"/>
<path d="M423.2,529.4 425.2,529.7 427.2,530.1 429.2,530.4 431.2,530.7 433.3,531.0 435.3,531.2 437.3,531.5 439.3,531.8" stroke="#2a788e"/>
<path d="M439.3,531.8 441.3,532.0 443.3,532.2 445.4,532.5 447.4,532.7 449.4,532.9 451.4,533.1 453.5,533.2 455.5,533.4 457.5,533.6 459.6,533.7 461.6,533.8 463.7,534.0 465.7,534.1 467.7,534.2 469.8,534.2 471.8,534.3 473.9,534.4" stroke="#297b8e"/>
<path d="M473.9,534.4 475.9,534.4 477.9,534.5 480.0,534.5 482.0,534.5 484.1,534.5 486.1,534.5 488.2,534.5 490.2,534.5 492.2,534.4 494.3,534.4 496.3,534.3" stroke="#277e8e"/>
<path d="M496.3,534.3 498.4,534.3 500.4,534.2 502.4,534.1 504.5,534.0 506.5,533.8 508.6,533.7 510.6,533.6 512.6,533.4 514.7,533.3 516.7,533.1 518.7,532.9 520.7,532.7 522.8,532.5 524.8,532.3 526.8,532.0 528.8,531.8 530.9,531.5" stroke="#297b8e"/>
<path d="M530.9,531.5 532.9,531.3 534.9,531.0 536.9,530.7 538.9,530.4 540.9,530.1 542.9,529.8 544.9,529.4 546.9,529.1" stroke="#2a788e"/>
<path d="M546.9,529.1 548.9,528.7 550.9,528.4 552.9,528.0 554.9,527.6 556.8,527.2 558.8,526.8" stroke="#2b758e"/>
<path d="M558.8,526.8 560.8,526.4 562.8,525.9 564.7,525.5" stroke="#2c728e"/>
<path d="M564.7,525.5 566.7,525.0 568.6,524.6 570.6,524.1 572.6,523.6" stroke="#2e6f8e"/>
<path d="M572.6,523.6 574.5,523.1 576.4,522.6 578.4,522.1 580.3,521.5" stroke="#2f6c8e"/>
<path d="M580.3,521.5 582.2,521.0 584.2,520.4 586.1,519.9 588.0,519.3" stroke="#30698e"/>
<path d="M588.0,519.3 589.9,518.7 591.8,518.1 593.7,517.5" stroke="#31668e"/>
<path d="M593.7,517.5 595.6,516.9 597.5,516.3 599.3,515.6 601.2,515.0" stroke="#33638d"/>
<path d="M601.2,515.0 603.1,514.3 605.0,513.7 606.8,513.0" stroke="#355f8d"/>
<path d="M606.8,513.0 608.7,512.3 610.5,511.6 612.3,510.9 614.2,510.2" stroke="#365c8d"/>
<path d="M614.2,510.2 616.0,509.4 617.8,508.7 619.6,507.9" stroke="#38598c"/>
<path d="M619.6,507.9 621.4,507.2 623.2,506.4 625.0,505.6 626.8,504.8" stroke="#39558c"/>
<path d="M626.8,504.8 628.6,504.0 630.4,503.2 632.1,502.4" stroke="#3b528b"/>
<path d="M632.1,502.4 633.9,501.6 635.7,500.7 637.4,499.9 639.1,499.0" stroke="#3c4f8a"/>
<path d="M639.1,499.0 640.9,498.1 642.6,497.3 644.3,496.4 646.0,495.5" stroke="#3e4a89"/>
<path d="M646.0,495.5 647.7,494.6 649.4,493.6 651.1,492.7" stroke="#3f4788"/>
<path d="M651.1,492.7 652.7,491.8 654.4,490.8 656.1,489.9 657.7,488.9" stroke="#414487"/>
<path d="M657.7,488.9 659.3,487.9 661.0,487.0 662.6,486.0 664.2,485.0" stroke="#424086"/>
<path d="M664.2,485.0 665.8,484.0 667.4,482.9 669.0,481.9 670.6,480.9 672.1,479.8" stroke="#433d84"/>
<path d="M672.1,479.8 673.7,478.8 675.3,477.7 676.8,476.6 678.3,475.6" stroke="#453882"/>
<path d="M678.3,475.6 679.9,474.5 681.4,473.4 682.9,472.3 684.4,471.2 685.8,470.0" stroke="#463480"/>
<path d="M685.8,470.0 687.3,468.9 688.8,467.8 690.2,466.6 691.7,465.5 693.1,464.3" stroke="#46307e"/>
<path d="M693.1,464.3 694.5,463.1 695.9,462.0 697.3,460.8 698.7,459.6 700.1,458.4 701.5,457.2 702.9,455.9 704.2,454.7 705.5,453.5 706.9,452.2 708.2,451.0 709.5,449.7 710.8,448.5 712.1,447.2 713.3,445.9 714.6,444.6" stroke="#472d7b"/>
<path d="M714.6,444.6 715.9,443.4 717.1,442.1 718.3,440.8 719.5,439.4 720.7,438.1 721.9,436.8 723.1,435.5 724.3,434.1 725.4,432.8 726.6,431.4 727.7,430.1 728.9,428.7 730.0,427.3 731.1,426.0 732.1,424.6 733.2,423.2 734.3,421.8 735.3,420.4" stroke="#482979"/>
<path d="M735.3,420.4 736.4,419.0 737.4,417.6 738.4,416.2 739.4,414.8 740.4,413.3 741.4,411.9 742.3,410.5 743.3,409.0 744.2,407.6 745.2,406.1 746.1,404.6 747.0,403.2 747.8,401.7 748.7,400.2 749.6,398.8 750.4,397.3 751.3,395.8 752.1,394.3 752.9,392.8 753.7,391.3" stroke="#482576"/>
<path d="M753.7,391.3 754.5,389.8 755.2,388.3 756.0,386.7 756.7,385.2 757.5,383.7 758.2,382.2 758.9,380.6 759.6,379.1 760.3,377.6 760.9,376.0 761.6,374.5 762.2,372.9 762.8,371.4 763.4,369.8 764.0,368.2 764.6,366.7 765.2,365.1 765.7,363.5 766.3,362.0 766.8,360.4" stroke="#482071"/></g>
<g><path d="M300.9,502.0 302.5,503.0 304.2,504.1 305.9,505.1 307.6,506.0 309.3,507.0" stroke="#450559"/>
<path d="M309.3,507.0 311.0,508.0 312.8,509.0 314.5,509.9 316.2,510.9 318.0,511.8 319.7,512.7" stroke="#460a5d"/>
<path d="M319.7,512.7 321.5,513.6 323.3,514.5 325.1,515.4 326.9,516.3 328.7,517.2 330.5,518.0" stroke="#471063"/>
<path d="M330.5,518.0 332.3,518.9 334.1,519.7 335.9,520.6 337.8,521.4 339.6,522.2 341.5,523.0" stroke="#481467"/>
<path d="M341.5,523.0 343.3,523.8 345.2,524.6 347.0,525.3 348.9,526.1 350.8,526.9 352.7,527.6" stroke="#48186a"/>
<path d="M352.7,527.6 354.6,528.3 356.5,529.0 358.4,529.7 360.3,530.4 362.2,531.1 364.2,531.8" stroke="#481c6e"/>
<path d="M364.2,531.8 366.1,532.5 368.0,533.1 370.0,533.8 371.9,534.4 373.9,535.0 375.8,535.6" stroke="#482071"/>
<path d="M375.8,535.6 377.8,536.2 379.8,536.8 381.8,537.4 383.7,538.0 385.7,538.5 387.7,539.1" stroke="#482576"/>
<path d="M387.7,539.1 389.7,539.6 391.7,540.1 393.7,540.6 395.7,541.1 397.7,541.6 399.8,542.1 401.8,542.6 403.8,543.0 405.8,543.5" stroke="#482979"/>
<path d="M405.8,543.5 407.9,543.9 409.9,544.3 412.0,544.7 414.0,545.1 416.0,545.5 418.1,545.9 420.2,546.2 422.2,546.6" stroke="#472d7b"/>
<path d="M422.2,546.6 424.3,546.9 426.3,547.3 428.4,547.6 430.5,547.9 432.5,548.2 434.6,548.5 436.7,548.7 438.8,549.0" stroke="#46307e"/>
<path d="M438.8,549.0 440.9,549.2 442.9,549.5 445.0,549.7 447.1,549.9 449.2,550.1 451.3,550.3 453.4,550.5" stroke="#463480"/>
<path d="M453.4,550.5 455.5,550.6 457.6,550.8 459.7,550.9 461.8,551.1 463.9,551.2 466.0,551.3 468.1,551.4 470.2,551.5" stroke="#453882"/>
<path d="M470.2,551.5 472.3,551.5 474.4,551.6 476.5,551.7 478.6,551.7 480.7,551.7 482.8,551.7 484.9,551.7 487.0,551.7 489.1,551.7 491.2,551.7 493.3,551.6 495.4,551.6 497.5,551.5 499.6,551.4 501.7,551.3 503.8,551.2 505.9,551.1" stroke="#433d84"/>
<path d="M505.9,551.1 508.0,551.0 510.1,550.8 512.2,550.7 514.3,550.5 516.4,550.4 518.5,550.2 520.6,550.0 522.7,549.8 524.8,549.5 526.8,549.3" stroke="#453882"/>
<path d="M526.8,549.3 528.9,549.1 531.0,548.8 533.1,548.5 535.2,548.3 537.2,548.0 539.3,547.7 541.4,547.4 543.4,547.0 545.5,546.7 547.6,546.4" stroke="#463480"/>
<path d="M547.6,546.4 549.6,546.0 551.7,545.6 553.7,545.2 555.8,544.8 557.8,544.4 559.8,544.0 561.9,543.6" stroke="#46307e"/>
<path d="M561.9,543.6 563.9,543.2 565.9,542.7 568.0,542.2 570.0,541.8" stroke="#472d7b"/>
<path d="M570.0,541.8 572.0,541.3 574.0,540.8 576.0,540.3 578.0,539.8 580.0,539.2" stroke="#482979"/>
<path d="M580.0,539.2 582.0,538.7 584.0,538.1 586.0,537.6 588.0,537.0 589.9,536.4" stroke="#482576"/>
<path d="M589.9,536.4 591.9,535.8 593.9,535.2 595.8,534.6 597.8,534.0 599.7,533.3" stroke="#482071"/>
<path d="M599.7,533.3 601.7,532.7 603.6,532.0 605.5,531.4 607.4,530.7 609.4,530.0" stroke="#481c6e"/>
<path d="M609.4,530.0 611.3,529.3 613.2,528.6 615.1,527.8 617.0,527.1 618.9,526.4 620.7,525.6 622.6,524.8 624.5,524.1" stroke="#48186a"/>
<path d="M624.5,524.1 626.3,523.3 628.2,522.5 630.0,521.7 631.9,520.8 633.7,520.0 635.5,519.2 637.3,518.3 639.1,517.5 640.9,516.6" stroke="#481467"/>
<path d="M640.9,516.6 642.7,515.7 644.5,514.8 646.3,513.9 648.1,513.0 649.8,512.1 651.6,511.2 653.3,510.2 655.1,509.3 656.8,508.3 658.5,507.3" stroke="#471063"/>
<path d="M658.5,507.3 660.2,506.4 661.9,505.4 663.6,504.4 665.3,503.4 667.0,502.4 668.7,501.3 670.3,500.3 672.0,499.3 673.6,498.2 675.2,497.1 676.9,496.1 678.5,495.0 680.1,493.9 681.7,492.8 683.3,491.7 684.8,490.6 686.4,489.5 688.0,488.3 689.5,487.2 691.0,486.0 692.6,484.9 694.1,483.7 695.6,482.5 697.1,481.4 698.6,480.2 700.0,479.0 701.5,477.8 702.9,476.5 704.4,475.3 705.8,474.1 707.2,472.8 708.6,471.6 710.0,470.3 711.4,469.1 712.8,467.8 714.2,466.5 715.5,465.2 716.9,463.9 718.2,462.6 719.5,461.3 720.8,460.0 722.1,458.7 723.4,457.4 724.7,456.0 725.9,454.7 727.2,453.3 728.4,452.0" stroke="#460a5d"/>
<path d="M728.4,452.0 729.6,450.6 730.9,449.2 732.1,447.8 733.3,446.4 734.4,445.1 735.6,443.7 736.7,442.2 737.9,440.8 739.0,439.4 740.1,438.0 741.2,436.6 742.3,435.1 743.4,433.7 744.5,432.2 745.5,430.8 746.6,429.3 747.6,427.8 748.6,426.4 749.6,424.9 750.6,423.4 751.6,421.9 752.5,420.4 753.5,418.9 754.4,417.4 755.3,415.9 756.2,414.4 757.1,412.9 758.0,411.3 758.9,409.8 759.8,408.3 760.6,406.7 761.4,405.2 762.2,403.6 763.0,402.1 763.8,400.5 764.6,399.0 765.4,397.4 766.1,395.8 766.9,394.3 767.6,392.7 768.3,391.1 769.0,389.5 769.6,387.9 770.3,386.3 771.0,384.7 771.6,383.1 772.2,381.5 772.8,379.9 773.4,378.3 774.0,376.7 774.6,375.1" stroke="#450559"/></g>
<g><path d="M249.6,466.8 251.0,468.1 252.4,469.4 253.7,470.7 255.1,472.0 256.5,473.3 257.9,474.5 259.3,475.8 260.8,477.0 262.2,478.3 263.6,479.5 265.1,480.8 266.6,482.0" stroke="#450559"/>
<path d="M266.6,482.0 268.1,483.2 269.6,484.4 271.1,485.6 272.6,486.8 274.1,488.0 275.6,489.1 277.2,490.3 278.7,491.4 280.3,492.6 281.9,493.7 283.5,494.9 285.0,496.0 286.7,497.1 288.3,498.2" stroke="#460a5d"/>
<path d="M288.3,498.2 289.9,499.3 291.5,500.4 293.2,501.4 294.8,502.5 296.5,503.5 298.2,504.6 299.8,505.6 301.5,506.6 303.2,507.7" stroke="#471063"/>
<path d="M303.2,507.7 304.9,508.7 306.6,509.7 308.4,510.7 310.1,511.6 311.8,512.6 313.6,513.6 315.3,514.5 317.1,515.5" stroke="#481467"/>
<path d="M317.1,515.5 318.9,516.4 320.7,517.3 322.5,518.2 324.3,519.1 326.1,520.0 327.9,520.9 329.7,521.7 331.5,522.6" stroke="#48186a"/>
<path d="M331.5,522.6 333.4,523.5 335.2,524.3 337.1,525.1 338.9,525.9 340.8,526.7 342.7,527.5 344.5,528.3 346.4,529.1 348.3,529.9" stroke="#481c6e"/>
<path d="M348.3,529.9 350.2,530.6 352.1,531.4 354.0,532.1 356.0,532.8 357.9,533.5 359.8,534.2 361.8,534.9 363.7,535.6 365.7,536.3 367.6,536.9 369.6,537.6 371.5,538.2 373.5,538.8 375.5,539.5 377.5,540.1 379.5,540.6 381.5,541.2 383.5,541.8" stroke="#482071"/>
<path d="M383.5,541.8 385.5,542.4 387.5,542.9 389.5,543.4 391.5,544.0 393.5,544.5 395.5,545.0 397.6,545.5 399.6,545.9 401.7,546.4 403.7,546.9 405.7,547.3 407.8,547.7 409.9,548.2 411.9,548.6 414.0,549.0 416.0,549.4 418.1,549.7" stroke="#482576"/>
<path d="M418.1,549.7 420.2,550.1 422.3,550.4 424.3,550.8 426.4,551.1 428.5,551.4 430.6,551.7 432.7,552.0 434.8,552.3 436.9,552.6 439.0,552.8 441.1,553.1 443.2,553.3 445.3,553.6 447.4,553.8 449.5,554.0 451.6,554.2 453.7,554.3" stroke="#482979"/>
<path d="M453.7,554.3 455.8,554.5 457.9,554.6 460.0,554.8 462.2,554.9 464.3,555.0 466.4,555.1 468.5,555.2 470.6,555.3 472.8,555.4 474.9,555.4 477.0,555.5 479.1,555.5 481.2,555.5 483.4,555.6 485.5,555.6 487.6,555.5 489.7,555.5 491.8,555.5 494.0,555.4 496.1,555.4 498.2,555.3 500.3,555.2 502.4,555.1 504.6,555.0 506.7,554.9 508.8,554.8 510.9,554.6 513.0,554.5 515.1,554.3 517.2,554.1" stroke="#472d7b"/>
<path d="M517.2,554.1 519.4,553.9 521.5,553.7 523.6,553.5 525.7,553.3 527.8,553.0 529.9,552.8 532.0,552.5 534.1,552.3 536.2,552.0 538.2,551.7 540.3,551.4 542.4,551.1 544.5,550.7 546.6,550.4 548.6,550.0 550.7,549.7" stroke="#482979"/>
<path d="M550.7,549.7 552.8,549.3 554.9,548.9 556.9,548.5 559.0,548.1 561.0,547.7 563.1,547.2 565.1,546.8 567.2,546.3 569.2,545.8 571.2,545.4 573.3,544.9 575.3,544.4 577.3,543.9 579.3,543.3 581.3,542.8 583.4,542.2 585.4,541.7 587.4,541.1" stroke="#482576"/>
<path d="M587.4,541.1 589.4,540.5 591.3,539.9 593.3,539.3 595.3,538.7 597.3,538.1 599.2,537.4 601.2,536.8 603.2,536.1 605.1,535.5 607.0,534.8 609.0,534.1 610.9,533.4 612.8,532.7 614.8,532.0 616.7,531.2 618.6,530.5 620.5,529.7" stroke="#482071"/>
<path d="M620.5,529.7 622.4,528.9 624.2,528.2 626.1,527.4 628.0,526.6 629.9,525.8 631.7,525.0 633.6,524.1 635.4,523.3 637.2,522.4" stroke="#481c6e"/>
<path d="M637.2,522.4 639.1,521.6 640.9,520.7 642.7,519.8 644.5,518.9 646.3,518.0 648.1,517.1 649.9,516.2 651.7,515.3" stroke="#48186a"/>
<path d="M651.7,515.3 653.4,514.3 655.2,513.4 656.9,512.4 658.7,511.4 660.4,510.5 662.1,509.5 663.8,508.5 665.5,507.5 667.2,506.4" stroke="#481467"/>
<path d="M667.2,506.4 668.9,505.4 670.6,504.4 672.3,503.3 673.9,502.3 675.6,501.2 677.2,500.1 678.8,499.0 680.5,498.0 682.1,496.8" stroke="#471063"/>
<path d="M682.1,496.8 683.7,495.7 685.3,494.6 686.9,493.5 688.4,492.4 690.0,491.2 691.5,490.0 693.1,488.9 694.6,487.7 696.1,486.5 697.7,485.3 699.2,484.1 700.6,482.9 702.1,481.7 703.6,480.5" stroke="#460a5d"/>
<path d="M703.6,480.5 705.1,479.3 706.5,478.0 707.9,476.8 709.4,475.5 710.8,474.3 712.2,473.0 713.6,471.7 715.0,470.4 716.3,469.1 717.7,467.8 719.0,466.5 720.4,465.2 721.7,463.9 723.0,462.6 724.3,461.2 725.6,459.9 726.9,458.5 728.1,457.2 729.4,455.8 730.6,454.4 731.9,453.0 733.1,451.6 734.3,450.2 735.5,448.8 736.7,447.4 737.8,446.0" stroke="#450559"/></g>
<g><path d="M223.7,484.8 225.0,486.2 226.4,487.7 227.7,489.1 229.0,490.5 230.4,492.0 231.7,493.4 233.1,494.8 234.5,496.2 235.9,497.6 237.3,499.0 238.8,500.3 240.2,501.7 241.7,503.1 243.1,504.4" stroke="#460a5d"/>
<path d="M243.1,504.4 244.6,505.7 246.1,507.1 247.6,508.4 249.1,509.7 250.6,511.0 252.1,512.3 253.7,513.6 255.3,514.9 256.8,516.2 258.4,517.4 260.0,518.7 261.6,519.9 263.2,521.2 264.8,522.4" stroke="#471063"/>
<path d="M264.8,522.4 266.4,523.6 268.1,524.8 269.7,526.0 271.4,527.2 273.1,528.4 274.8,529.6 276.5,530.7 278.2,531.9 279.9,533.0 281.6,534.2" stroke="#481467"/>
<path d="M281.6,534.2 283.3,535.3 285.1,536.4 286.8,537.5 288.6,538.6 290.4,539.7 292.2,540.8" stroke="#48186a"/>
<path d="M292.2,540.8 294.0,541.9 295.8,542.9 297.6,544.0 299.4,545.0 301.2,546.0 303.1,547.0" stroke="#481c6e"/>
<path d="M303.1,547.0 304.9,548.0 306.8,549.0 308.6,550.0 310.5,551.0 312.4,552.0 314.3,552.9" stroke="#482071"/>
<path d="M314.3,552.9 316.2,553.9 318.1,554.8 320.0,555.7 321.9,556.6 323.8,557.5" stroke="#482576"/>
<path d="M323.8,557.5 325.8,558.4 327.7,559.3 329.7,560.2 331.6,561.0 333.6,561.9 335.6,562.7" stroke="#482979"/>
<path d="M335.6,562.7 337.6,563.5 339.6,564.3 341.6,565.1 343.6,565.9 345.6,566.7" stroke="#472d7b"/>
<path d="M345.6,566.7 347.6,567.5 349.6,568.2 351.6,569.0 353.7,569.7 355.7,570.4 357.8,571.1" stroke="#46307e"/>
<path d="M357.8,571.1 359.8,571.8 361.9,572.5 364.0,573.2 366.0,573.9 368.1,574.5" stroke="#463480"/>
<path d="M368.1,574.5 370.2,575.2 372.3,575.8 374.4,576.4 376.5,577.0 378.6,577.6" stroke="#453882"/>
<path d="M378.6,577.6 380.7,578.2 382.8,578.8 385.0,579.3 387.1,579.9 389.2,580.4 391.4,580.9 393.5,581.5 395.6,582.0 397.8,582.4 399.9,582.9 402.1,583.4 404.3,583.8 406.4,584.3 408.6,584.7 410.8,585.1 413.0,585.5 415.1,585.9 417.3,586.3 419.5,586.7" stroke="#433d84"/>
<path d="M419.5,586.7 421.7,587.0 423.9,587.4 426.1,587.7 428.3,588.0 430.5,588.3 432.7,588.6 434.9,588.9 437.1,589.2 439.3,589.4 441.5,589.7 443.8,589.9 446.0,590.1 448.2,590.3 450.4,590.5 452.6,590.7 454.9,590.9 457.1,591.0 459.3,591.2 461.6,591.3 463.8,591.4" stroke="#424086"/>
<path d="M463.8,591.4 466.0,591.5 468.2,591.6 470.5,591.7 472.7,591.8 475.0,591.8 477.2,591.9 479.4,591.9 481.7,591.9 483.9,591.9 486.1,591.9 488.4,591.9 490.6,591.9 492.8,591.8 495.1,591.8 497.3,591.7 499.5,591.6 501.8,591.6 504.0,591.5 506.2,591.3" stroke="#414487"/>
<path d="M506.2,591.3 508.5,591.2 510.7,591.1 512.9,590.9 515.1,590.7 517.4,590.6 519.6,590.4 521.8,590.2 524.0,590.0 526.2,589.7 528.5,589.5 530.7,589.2 532.9,589.0 535.1,588.7 537.3,588.4 539.5,588.1 541.7,587.8 543.9,587.5 546.1,587.1 548.3,586.8 550.5,586.4" stroke="#424086"/>
<path d="M550.5,586.4 552.7,586.0 554.8,585.6 557.0,585.2 559.2,584.8 561.4,584.4 563.5,584.0 565.7,583.5 567.9,583.1 570.0,582.6 572.2,582.1 574.3,581.6 576.4,581.1 578.6,580.6 580.7,580.0 582.9,579.5 585.0,578.9 587.1,578.4 589.2,577.8 591.3,577.2" stroke="#433d84"/>
<path d="M591.3,577.2 593.4,576.6 595.5,576.0 597.6,575.3 599.7,574.7 601.8,574.1" stroke="#453882"/>
<path d="M601.8,574.1 603.9,573.4 605.9,572.7 608.0,572.0 610.1,571.3 612.1,570.6" stroke="#463480"/>
<path d="M612.1,570.6 614.1,569.9 616.2,569.2 618.2,568.4 620.2,567.7 622.3,566.9 624.3,566.1" stroke="#46307e"/>
<path d="M624.3,566.1 626.3,565.4 628.3,564.6 630.3,563.7 632.3,562.9 634.2,562.1" stroke="#472d7b"/>
<path d="M634.2,562.1 636.2,561.3 638.2,560.4 640.1,559.5 642.1,558.7 644.0,557.8 646.0,556.9" stroke="#482979"/>
<path d="M646.0,556.9 647.9,556.0 649.8,555.0 651.7,554.1 653.6,553.2 655.5,552.2 657.4,551.3" stroke="#482576"/>
<path d="M657.4,551.3 659.3,550.3 661.1,549.3 663.0,548.3 664.8,547.3 666.7,546.3" stroke="#482071"/>
<path d="M666.7,546.3 668.5,545.3 670.3,544.2 672.1,543.2 673.9,542.2 675.7,541.1 677.5,540.0" stroke="#481c6e"/>
<path d="M677.5,540.0 679.3,538.9 681.1,537.8 682.8,536.7 684.6,535.6 686.3,534.5 688.0,533.4 689.8,532.2" stroke="#48186a"/>
<path d="M689.8,532.2 691.5,531.1 693.2,529.9 694.8,528.7 696.5,527.6 698.2,526.4 699.9,525.2 701.5,524.0 703.1,522.7 704.8,521.5" stroke="#481467"/>
<path d="M704.8,521.5 706.4,520.3 708.0,519.0 709.6,517.8 711.1,516.5 712.7,515.2 714.3,514.0 715.8,512.7 717.4,511.4 718.9,510.1 720.4,508.8 721.9,507.4 723.4,506.1 724.9,504.8 726.3,503.4 727.8,502.1" stroke="#471063"/>
<path d="M727.8,502.1 729.2,500.7 730.7,499.3 732.1,498.0 733.5,496.6 734.9,495.2 736.3,493.8 737.6,492.4 739.0,490.9 740.3,489.5 741.7,488.1 743.0,486.6 744.3,485.2 745.6,483.7 746.9,482.3 748.2,480.8 749.4,479.3" stroke="#460a5d"/>
<path d="M749.4,479.3 750.7,477.8 751.9,476.4 753.1,474.9 754.3,473.4 755.5,471.8 756.7,470.3 757.8,468.8 759.0,467.3 760.1,465.7 761.3,464.2 762.4,462.6 763.5,461.1 764.6,459.5 765.6,458.0 766.7,456.4 767.7,454.8 768.7,453.2 769.8,451.6 770.8,450.0 771.8,448.4 772.7,446.8 773.7,445.2 774.6,443.6 775.6,442.0 776.5,440.3 777.4,438.7 778.3,437.1 779.1,435.4 780.0,433.8" stroke="#450559"/></g>
<g><path d="M163.1,309.0 162.8,310.8 162.5,312.6 162.3,314.4 162.0,316.2 161.8,318.0 161.6,319.8 161.4,321.6 161.2,323.4 161.1,325.2 160.9,327.0 160.8,328.8 160.7,330.6 160.6,332.4 160.5,334.2 160.4,336.0 160.4,337.8 160.4,339.7" stroke="#471063"/>
<path d="M160.4,339.7 160.3,341.5 160.3,343.3 160.3,345.1 160.4,346.9 160.4,348.7 160.5,350.5 160.6,352.3 160.6,354.1 160.8,355.9 160.9,357.7 161.0,359.5 161.2,361.3 161.3,363.1 161.5,364.9 161.7,366.7 161.9,368.5 162.2,370.3 162.4,372.1 162.7,373.9 163.0,375.7 163.3,377.5 163.6,379.3 163.9,381.1 164.2,382.9 164.6,384.6 165.0,386.4 165.4,388.2 165.8,390.0 166.2,391.8 166.6,393.5 167.1,395.3 167.5,397.1 168.0,398.8 168.5,400.6 169.0,402.4 169.6,404.1 170.1,405.9 170.7,407.6 171.2,409.4 171.8,411.1" stroke="#481467"/>
<path d="M171.8,411.1 172.4,412.8 173.1,414.6 173.7,416.3 174.3,418.1 175.0,419.8 175.7,421.5 176.4,423.2 177.1,424.9 177.8,426.6 178.6,428.4 179.3,430.1 180.1,431.8 180.9,433.5 181.7,435.1 182.5,436.8 183.3,438.5 184.2,440.2 185.0,441.9 185.9,443.5" stroke="#48186a"/>
<path d="M185.9,443.5 186.8,445.2 187.7,446.8 188.6,448.5 189.5,450.1 190.5,451.8 191.4,453.4 192.4,455.0 193.4,456.7 194.4,458.3 195.4,459.9 196.5,461.5 197.5,463.1 198.6,464.7 199.6,466.3 200.7,467.9" stroke="#481c6e"/>
<path d="M200.7,467.9 201.8,469.5 202.9,471.0 204.1,472.6 205.2,474.2 206.4,475.7 207.5,477.3 208.7,478.8 209.9,480.3 211.1,481.9 212.3,483.4 213.6,484.9 214.8,486.4 216.1,487.9" stroke="#482071"/>
<path d="M216.1,487.9 217.4,489.4 218.7,490.9 220.0,492.4 221.3,493.8 222.6,495.3 223.9,496.7 225.3,498.2 226.7,499.6 228.0,501.1 229.4,502.5 230.8,503.9 232.2,505.3 233.7,506.7" stroke="#482576"/>
<path d="M233.7,506.7 235.1,508.1 236.6,509.5 238.0,510.9 239.5,512.3 241.0,513.6 242.5,515.0 244.0,516.3 245.5,517.6 247.1,519.0 248.6,520.3 250.2,521.6 251.7,522.9 253.3,524.2 254.9,525.5 256.5,526.8" stroke="#482979"/>
<path d="M256.5,526.8 258.1,528.0 259.7,529.3 261.4,530.5 263.0,531.8 264.7,533.0 266.4,534.2 268.0,535.4 269.7,536.6 271.4,537.8 273.1,539.0 274.9,540.2 276.6,541.3" stroke="#472d7b"/>
<path d="M276.6,541.3 278.3,542.5 280.1,543.6 281.8,544.8" stroke="#46307e"/>
<path d="M281.8,544.8 283.6,545.9 285.4,547.0" stroke="#463480"/>
<path d="M285.4,547.0 287.2,548.1 289.0,549.2 290.8,550.3" stroke="#453882"/>
<path d="M290.8,550.3 292.6,551.4 294.4,552.4 296.3,553.5" stroke="#433d84"/>
<path d="M296.3,553.5 298.1,554.5 300.0,555.6 301.8,556.6" stroke="#424086"/>
<path d="M301.8,556.6 303.7,557.6 305.6,558.6" stroke="#414487"/>
<path d="M305.6,558.6 307.5,559.6 309.4,560.6 311.3,561.5" stroke="#3f4788"/>
<path d="M311.3,561.5 313.2,562.5 315.1,563.4 317.1,564.4" stroke="#3e4a89"/>
<path d="M317.1,564.4 319.0,565.3 321.0,566.2 322.9,567.1 324.9,568.0" stroke="#3c4f8a"/>
<path d="M324.9,568.0 326.9,568.9 328.8,569.8 330.8,570.6" stroke="#3b528b"/>
<path d="M330.8,570.6 332.8,571.5 334.8,572.3 336.8,573.2" stroke="#39558c"/>
<path d="M336.8,573.2 338.9,574.0 340.9,574.8 342.9,575.6" stroke="#38598c"/>
<path d="M342.9,575.6 345.0,576.4 347.0,577.1" stroke="#365c8d"/>
<path d="M347.0,577.1 349.1,577.9 351.1,578.6" stroke="#355f8d"/>
<path d="M351.1,578.6 353.2,579.4 355.3,580.1" stroke="#33638d"/>
<path d="M355.3,580.1 357.3,580.8 359.4,581.5" stroke="#31668e"/>
<path d="M359.4,581.5 361.5,582.2 363.6,582.9" stroke="#30698e"/>
<path d="M363.6,582.9 365.7,583.5 367.8,584.2" stroke="#2f6c8e"/>
<path d="M367.8,584.2 369.9,584.8 372.0,585.5" stroke="#2e6f8e"/>
<path d="M372.0,585.5 374.2,586.1 376.3,586.7" stroke="#2c728e"/>
<path d="M376.3,586.7 378.4,587.3 380.6,587.9" stroke="#2b758e"/>
<path d="M380.6,587.9 382.7,588.5" stroke="#2a788e"/>
<path d="M382.7,588.5 384.9,589.0 387.0,589.6" stroke="#297b8e"/>
<path d="M387.0,589.6 389.2,590.1" stroke="#277e8e"/>
<path d="M389.2,590.1 391.4,590.6 393.5,591.1" stroke="#26828e"/>
<path d="M393.5,591.1 395.7,591.6" stroke="#25848e"/>
<path d="M395.7,591.6 397.9,592.1 400.1,592.6" stroke="#24878e"/>
<path d="M400.1,592.6 402.2,593.1" stroke="#238a8d"/>
<path d="M402.2,593.1 404.4,593.5 406.6,594.0" stroke="#228d8d"/>
<path d="M406.6,594.0 408.8,594.4" stroke="#21918c"/>
<path d="M408.8,594.4 411.0,594.8 413.2,595.2" stroke="#20938c"/>
<path d="M413.2,595.2 415.4,595.6 417.7,596.0" stroke="#1f968b"/>
<path d="M417.7,596.0 419.9,596.3 422.1,596.7 424.3,597.0" stroke="#1f998a"/>
<path d="M424.3,597.0 426.5,597.3 428.8,597.7 431.0,598.0" stroke="#1e9c89"/>
<path d="M431.0,598.0 433.2,598.3 435.5,598.5 437.7,598.8 439.9,599.1" stroke="#1f9f88"/>
<path d="M439.9,599.1 442.2,599.3 444.4,599.5 446.7,599.7" stroke="#1fa287"/>
<path d="M446.7,599.7 448.9,599.9 451.2,600.1 453.4,600.3 455.7,600.5 457.9,600.6 460.2,600.8 462.4,600.9 464.7,601.0 467.0,601.1" stroke="#21a585"/>
<path d="M467.0,601.1 469.2,601.2 471.5,601.3 473.7,601.3 476.0,601.4 478.3,601.4 480.5,601.5 482.8,601.5 485.0,601.5 487.3,601.5 489.6,601.4 491.8,601.4 494.1,601.4 496.4,601.3 498.6,601.2 500.9,601.1 503.1,601.0" stroke="#22a884"/>
<path d="M503.1,601.0 505.4,600.9 507.6,600.8 509.9,600.7 512.2,600.5 514.4,600.4 516.7,600.2 518.9,600.0 521.2,599.8 523.4,599.6" stroke="#21a585"/>
<path d="M523.4,599.6 525.7,599.4 527.9,599.1 530.1,598.9 532.4,598.6" stroke="#1fa287"/>
<path d="M532.4,598.6 534.6,598.3 536.8,598.0 539.1,597.7" stroke="#1f9f88"/>
<path d="M539.1,597.7 541.3,597.4 543.5,597.1 545.8,596.8" stroke="#1e9c89"/>
<path d="M545.8,596.8 548.0,596.4 550.2,596.1 552.4,595.7" stroke="#1f998a"/>
<path d="M552.4,595.7 554.6,595.3 556.8,594.9" stroke="#1f968b"/>
<path d="M556.8,594.9 559.0,594.5 561.2,594.1" stroke="#20938c"/>
<path d="M561.2,594.1 563.4,593.6" stroke="#21918c"/>
<path d="M563.4,593.6 565.6,593.2 567.8,592.7" stroke="#228d8d"/>
<path d="M567.8,592.7 570.0,592.2" stroke="#238a8d"/>
<path d="M570.0,592.2 572.2,591.8 574.3,591.3" stroke="#24878e"/>
<path d="M574.3,591.3 576.5,590.8" stroke="#25848e"/>
<path d="M576.5,590.8 578.7,590.2 580.8,589.7" stroke="#26828e"/>
<path d="M580.8,589.7 583.0,589.2" stroke="#277e8e"/>
<path d="M583.0,589.2 585.1,588.6 587.3,588.0" stroke="#297b8e"/>
<path d="M587.3,588.0 589.4,587.4 591.6,586.9" stroke="#2a788e"/>
<path d="M591.6,586.9 593.7,586.2 595.8,585.6" stroke="#2b758e"/>
<path d="M595.8,585.6 597.9,585.0" stroke="#2c728e"/>
<path d="M597.9,585.0 600.1,584.4 602.2,583.7" stroke="#2e6f8e"/>
<path d="M602.2,583.7 604.3,583.0 606.4,582.4" stroke="#2f6c8e"/>
<path d="M606.4,582.4 608.5,581.7 610.5,581.0" stroke="#30698e"/>
<path d="M610.5,581.0 612.6,580.3 614.7,579.6" stroke="#31668e"/>
<path d="M614.7,579.6 616.8,578.8 618.8,578.1" stroke="#33638d"/>
<path d="M618.8,578.1 620.9,577.3 622.9,576.5" stroke="#355f8d"/>
<path d="M622.9,576.5 625.0,575.8 627.0,575.0 629.0,574.2" stroke="#365c8d"/>
<path d="M629.0,574.2 631.0,573.4 633.1,572.5 635.1,571.7" stroke="#38598c"/>
<path d="M635.1,571.7 637.1,570.9 639.1,570.0 641.0,569.1" stroke="#39558c"/>
<path d="M641.0,569.1 643.0,568.2 645.0,567.4 646.9,566.4" stroke="#3b528b"/>
<path d="M646.9,566.4 648.9,565.5 650.8,564.6 652.8,563.7" stroke="#3c4f8a"/>
<path d="M652.8,563.7 654.7,562.7 656.6,561.8 658.5,560.8" stroke="#3e4a89"/>
<path d="M658.5,560.8 660.4,559.8 662.3,558.8 664.2,557.8" stroke="#3f4788"/>
<path d="M664.2,557.8 666.1,556.8 668.0,555.8" stroke="#414487"/>
<path d="M668.0,555.8 669.8,554.8 671.7,553.7 673.5,552.7" stroke="#424086"/>
<path d="M673.5,552.7 675.3,551.6 677.2,550.6 679.0,549.5" stroke="#433d84"/>
<path d="M679.0,549.5 680.8,548.4 682.6,547.3 684.3,546.2" stroke="#453882"/>
<path d="M684.3,546.2 686.1,545.0 687.9,543.9 689.6,542.8" stroke="#463480"/>
<path d="M689.6,542.8 691.4,541.6 693.1,540.5 694.8,539.3" stroke="#46307e"/>
<path d="M694.8,539.3 696.6,538.1 698.3,536.9 699.9,535.7 701.6,534.5 703.3,533.3 705.0,532.1 706.6,530.8 708.2,529.6 709.9,528.3 711.5,527.1 713.1,525.8 714.7,524.5" stroke="#472d7b"/>
<path d="M714.7,524.5 716.3,523.2 717.9,521.9 719.4,520.6 721.0,519.3 722.5,518.0 724.0,516.6 725.5,515.3 727.0,514.0 728.5,512.6 730.0,511.2 731.5,509.9 732.9,508.5 734.4,507.1 735.8,505.7" stroke="#482979"/>
<path d="M735.8,505.7 737.2,504.3 738.6,502.9 740.0,501.4 741.4,500.0 742.8,498.6 744.1,497.1 745.5,495.7 746.8,494.2 748.1,492.7 749.4,491.3 750.7,489.8 752.0,488.3 753.3,486.8 754.5,485.3" stroke="#482576"/>
<path d="M754.5,485.3 755.8,483.8 757.0,482.2 758.2,480.7 759.4,479.2 760.6,477.7 761.7,476.1 762.9,474.6 764.1,473.0 765.2,471.4 766.3,469.9 767.4,468.3 768.5,466.7" stroke="#482071"/>
<path d="M768.5,466.7 769.6,465.1 770.6,463.5 771.7,461.9 772.7,460.3 773.7,458.7 774.7,457.1 775.7,455.5 776.7,453.8 777.7,452.2 778.6,450.5 779.6,448.9 780.5,447.3 781.4,445.6 782.3,443.9 783.2,442.3" stroke="#481c6e"/>
<path d="M783.2,442.3 784.0,440.6 784.9,438.9 785.7,437.2 786.5,435.6 787.3,433.9 788.1,432.2 788.9,430.5 789.7,428.8 790.4,427.1 791.1,425.4 791.8,423.6 792.5,421.9 793.2,420.2 793.9,418.5 794.5,416.8 795.2,415.0 795.8,413.3 796.4,411.5 797.0,409.8 797.6,408.1" stroke="#48186a"/>
<path d="M797.6,408.1 798.2,406.3 798.7,404.5 799.2,402.8 799.8,401.0 800.3,399.3 800.7,397.5 801.2,395.7 801.7,394.0 802.1,392.2 802.5,390.4 802.9,388.6 803.3,386.9 803.7,385.1 804.1,383.3 804.4,381.5 804.7,379.7 805.1,377.9 805.4,376.1 805.6,374.4 805.9,372.6 806.2,370.8 806.4,369.0 806.6,367.2 806.8,365.4 807.0,363.6 807.2,361.8 807.4,360.0 807.5,358.2 807.6,356.4 807.7,354.6 807.8,352.7 807.9,350.9 808.0,349.1 808.0,347.3 808.0,345.5 808.1,343.7 808.1,341.9 808.0,340.1 808.0,338.3" stroke="#481467"/>
<path d="M808.0,338.3 808.0,336.5 807.9,334.7 807.8,332.9 807.7,331.1 807.6,329.3 807.5,327.5 807.4,325.7 807.2,323.9 807.0,322.1 806.8,320.3 806.6,318.5 806.4,316.7 806.2,314.9 805.9,313.1 805.7,311.3 805.4,309.5" stroke="#471063"/></g>
<polygon points="481.9,594.6 486.5,594.6 486.5,599.2 491.1,599.2 491.1,603.8 486.5,603.8 486.5,608.4 481.9,608.4 481.9,603.8 477.3,603.8 477.3,599.2 481.9,599.2" fill="#000"/>
<g><path d="M269.9,569.9 271.7,571.1 273.5,572.3 275.3,573.4 277.1,574.6 279.0,575.8 280.8,576.9 282.7,578.0 284.6,579.2 286.5,580.3 288.4,581.4 290.3,582.5 292.2,583.5 294.1,584.6 296.1,585.7 298.0,586.7 300.0,587.7 301.9,588.8 303.9,589.8 305.9,590.8 307.9,591.8 309.9,592.8 311.9,593.7 313.9,594.7 315.9,595.6 317.9,596.6 320.0,597.5 322.0,598.4 324.1,599.3 326.1,600.2 328.2,601.1 330.3,601.9 332.4,602.8 334.5,603.6 336.6,604.5 338.7,605.3 340.8,606.1 342.9,606.9 345.0,607.7 347.2,608.5 349.3,609.2 351.5,610.0 353.6,610.7" stroke="#450559"/>
<path d="M353.6,610.7 355.8,611.4 357.9,612.1 360.1,612.8 362.3,613.5 364.5,614.2 366.7,614.9 368.9,615.5 371.1,616.1 373.3,616.8 375.5,617.4 377.7,618.0 380.0,618.6 382.2,619.2 384.4,619.7 386.7,620.3 388.9,620.8 391.2,621.3 393.4,621.9 395.7,622.4 397.9,622.8 400.2,623.3 402.5,623.8 404.7,624.2 407.0,624.7 409.3,625.1 411.6,625.5 413.9,625.9 416.2,626.3 418.5,626.7 420.8,627.0 423.1,627.4 425.4,627.7 427.7,628.0 430.0,628.3 432.3,628.6 434.6,628.9 437.0,629.2 439.3,629.5 441.6,629.7 443.9,629.9 446.3,630.1 448.6,630.4 450.9,630.5 453.3,630.7 455.6,630.9 457.9,631.0 460.3,631.2 462.6,631.3 465.0,631.4 467.3,631.5 469.6,631.6 472.0,631.7 474.3,631.8 476.7,631.8 479.0,631.8 481.4,631.9 483.7,631.9 486.0,631.9 488.4,631.8 490.7,631.8 493.1,631.8 495.4,631.7 497.8,631.7 500.1,631.6 502.4,631.5 504.8,631.4 507.1,631.2 509.5,631.1 511.8,631.0 514.1,630.8 516.5,630.6 518.8,630.4 521.1,630.2 523.5,630.0 525.8,629.8 528.1,629.6 530.4,629.3 532.8,629.0 535.1,628.8 537.4,628.5 539.7,628.2 542.0,627.9 544.3,627.5 546.6,627.2 548.9,626.8 551.2,626.5 553.5,626.1 555.8,625.7 558.1,625.3 560.4,624.9 562.7,624.4 565.0,624.0 567.2,623.5 569.5,623.0 571.8,622.6 574.0,622.1 576.3,621.6 578.5,621.0 580.8,620.5 583.0,620.0 585.3,619.4 587.5,618.8 589.7,618.2 591.9,617.6 594.2,617.0 596.4,616.4 598.6,615.8 600.8,615.1 603.0,614.5 605.2,613.8 607.3,613.1 609.5,612.4 611.7,611.7 613.9,611.0 616.0,610.3" stroke="#460a5d"/>
<path d="M616.0,610.3 618.2,609.5 620.3,608.8 622.4,608.0 624.6,607.2 626.7,606.4 628.8,605.6 630.9,604.8 633.0,604.0 635.1,603.2 637.2,602.3 639.3,601.4 641.4,600.6 643.4,599.7 645.5,598.8 647.6,597.9 649.6,597.0 651.6,596.0" stroke="#450559"/></g>
<g><path d="M254.0,561.6 255.7,562.8 257.4,564.1 259.1,565.4 260.9,566.6 262.7,567.9 264.4,569.1 266.2,570.3 268.0,571.6 269.8,572.8 271.6,574.0 273.5,575.1 275.3,576.3 277.1,577.5 279.0,578.6 280.9,579.8 282.7,580.9" stroke="#450559"/>
<path d="M282.7,580.9 284.6,582.0 286.5,583.1 288.4,584.2 290.3,585.3 292.3,586.4 294.2,587.5 296.1,588.5 298.1,589.6 300.1,590.6 302.0,591.7 304.0,592.7 306.0,593.7" stroke="#460a5d"/>
<path d="M306.0,593.7 308.0,594.7 310.0,595.6 312.0,596.6 314.0,597.6 316.1,598.5 318.1,599.4" stroke="#471063"/>
<path d="M318.1,599.4 320.2,600.4 322.2,601.3 324.3,602.2 326.4,603.1 328.4,604.0 330.5,604.8 332.6,605.7" stroke="#481467"/>
<path d="M332.6,605.7 334.7,606.5 336.8,607.3 338.9,608.2 341.1,609.0 343.2,609.8 345.3,610.5" stroke="#48186a"/>
<path d="M345.3,610.5 347.5,611.3 349.6,612.1 351.8,612.8 354.0,613.6 356.1,614.3 358.3,615.0 360.5,615.7" stroke="#481c6e"/>
<path d="M360.5,615.7 362.7,616.4 364.9,617.1 367.1,617.7 369.3,618.4 371.5,619.0 373.7,619.6" stroke="#482071"/>
<path d="M373.7,619.6 375.9,620.2 378.2,620.8 380.4,621.4 382.6,622.0 384.9,622.6 387.1,623.1 389.4,623.6 391.7,624.2 393.9,624.7 396.2,625.2 398.5,625.7 400.7,626.1 403.0,626.6" stroke="#482576"/>
<path d="M403.0,626.6 405.3,627.1 407.6,627.5 409.9,627.9 412.2,628.3 414.5,628.7 416.8,629.1 419.1,629.5 421.4,629.8 423.7,630.2 426.0,630.5 428.3,630.8 430.7,631.1 433.0,631.4 435.3,631.7 437.6,632.0 440.0,632.2 442.3,632.5 444.6,632.7 447.0,632.9" stroke="#482979"/>
<path d="M447.0,632.9 449.3,633.1 451.7,633.3 454.0,633.5 456.3,633.6 458.7,633.8 461.0,633.9 463.4,634.0 465.7,634.2 468.1,634.3 470.4,634.3 472.8,634.4 475.1,634.5 477.5,634.5 479.8,634.5 482.2,634.6 484.5,634.6 486.9,634.6 489.2,634.5 491.6,634.5 493.9,634.4 496.3,634.4 498.6,634.3 501.0,634.2 503.3,634.1 505.7,634.0 508.0,633.9 510.4,633.7 512.7,633.6 515.1,633.4 517.4,633.2 519.7,633.1 522.1,632.8 524.4,632.6" stroke="#472d7b"/>
<path d="M524.4,632.6 526.8,632.4 529.1,632.2 531.4,631.9 533.7,631.6 536.1,631.3 538.4,631.0 540.7,630.7 543.0,630.4 545.3,630.1 547.7,629.7 550.0,629.4 552.3,629.0 554.6,628.6 556.9,628.2 559.2,627.8 561.5,627.4 563.7,626.9 566.0,626.5 568.3,626.0" stroke="#482979"/>
<path d="M568.3,626.0 570.6,625.5 572.9,625.0 575.1,624.5 577.4,624.0 579.6,623.5 581.9,623.0 584.1,622.4 586.4,621.8 588.6,621.3 590.9,620.7 593.1,620.1 595.3,619.5 597.5,618.8" stroke="#482576"/>
<path d="M597.5,618.8 599.7,618.2 601.9,617.5 604.1,616.9 606.3,616.2 608.5,615.5 610.7,614.8" stroke="#482071"/>
<path d="M610.7,614.8 612.9,614.1 615.0,613.4 617.2,612.6 619.4,611.9 621.5,611.1 623.7,610.3" stroke="#481c6e"/>
<path d="M623.7,610.3 625.8,609.5 627.9,608.7 630.0,607.9 632.2,607.1 634.3,606.3 636.4,605.4 638.5,604.6" stroke="#48186a"/>
<path d="M638.5,604.6 640.5,603.7 642.6,602.8 644.7,601.9 646.8,601.0 648.8,600.1 650.9,599.2" stroke="#481467"/>
<path d="M650.9,599.2 652.9,598.2 654.9,597.3 656.9,596.3 659.0,595.4 661.0,594.4 663.0,593.4 664.9,592.4" stroke="#471063"/>
<path d="M664.9,592.4 666.9,591.4 668.9,590.3 670.9,589.3 672.8,588.2 674.7,587.2 676.7,586.1 678.6,585.0 680.5,583.9 682.4,582.8 684.3,581.7 686.2,580.6" stroke="#460a5d"/>
<path d="M686.2,580.6 688.1,579.5 689.9,578.3 691.8,577.2 693.6,576.0 695.5,574.8 697.3,573.6 699.1,572.4" stroke="#450559"/></g>
<g><path d="M143.9,400.1 144.1,402.0 144.2,403.9 144.5,405.8 144.7,407.7 144.9,409.6 145.2,411.5 145.5,413.4 145.7,415.3 146.1,417.2 146.4,419.1 146.7,421.0" stroke="#471063"/>
<path d="M146.7,421.0 147.1,422.9 147.4,424.7 147.8,426.6 148.2,428.5 148.7,430.4 149.1,432.3 149.6,434.1 150.0,436.0 150.5,437.9 151.0,439.7 151.5,441.6" stroke="#481467"/>
<path d="M151.5,441.6 152.1,443.4 152.6,445.3 153.2,447.1 153.8,449.0 154.4,450.8 155.0,452.7 155.6,454.5" stroke="#48186a"/>
<path d="M155.6,454.5 156.3,456.3 157.0,458.2 157.6,460.0 158.3,461.8 159.1,463.6 159.8,465.5 160.5,467.3" stroke="#481c6e"/>
<path d="M160.5,467.3 161.3,469.1 162.1,470.9 162.9,472.7 163.7,474.5 164.5,476.2 165.3,478.0 166.2,479.8 167.1,481.6" stroke="#482071"/>
<path d="M167.1,481.6 168.0,483.4 168.9,485.1 169.8,486.9 170.7,488.6 171.7,490.4 172.6,492.1 173.6,493.9 174.6,495.6" stroke="#482576"/>
<path d="M174.6,495.6 175.6,497.3 176.6,499.0 177.7,500.8 178.7,502.5 179.8,504.2 180.9,505.9 182.0,507.6" stroke="#482979"/>
<path d="M182.0,507.6 183.1,509.2 184.2,510.9 185.4,512.6 186.5,514.3 187.7,515.9 188.9,517.6" stroke="#472d7b"/>
<path d="M188.9,517.6 190.1,519.2 191.3,520.9 192.5,522.5 193.8,524.1 195.0,525.7 196.3,527.3 197.6,528.9 198.9,530.5 200.2,532.1" stroke="#46307e"/>
<path d="M200.2,532.1 201.5,533.7 202.9,535.3 204.2,536.9 205.6,538.4 207.0,540.0 208.4,541.5 209.8,543.1 211.2,544.6" stroke="#463480"/>
<path d="M211.2,544.6 212.7,546.1 214.1,547.6 215.6,549.1 217.1,550.6 218.6,552.1 220.1,553.6 221.6,555.1" stroke="#453882"/>
<path d="M221.6,555.1 223.1,556.5 224.6,558.0 226.2,559.4 227.8,560.9 229.3,562.3 230.9,563.7 232.5,565.1 234.2,566.5 235.8,567.9 237.4,569.3 239.1,570.7 240.8,572.0 242.4,573.4" stroke="#433d84"/>
<path d="M242.4,573.4 244.1,574.7 245.8,576.1 247.5,577.4 249.3,578.7 251.0,580.0 252.7,581.3 254.5,582.6 256.3,583.9 258.0,585.2 259.8,586.4 261.6,587.7 263.5,588.9 265.3,590.1" stroke="#424086"/>
<path d="M265.3,590.1 267.1,591.3 269.0,592.5 270.8,593.7 272.7,594.9 274.6,596.1 276.5,597.3 278.3,598.4 280.3,599.6 282.2,600.7 284.1,601.8" stroke="#414487"/>
<path d="M284.1,601.8 286.0,602.9 288.0,604.0 289.9,605.1 291.9,606.2 293.9,607.3 295.9,608.3 297.9,609.4 299.9,610.4 301.9,611.4 303.9,612.5" stroke="#3f4788"/>
<path d="M303.9,612.5 305.9,613.5 308.0,614.5 310.0,615.4 312.1,616.4 314.1,617.4" stroke="#3e4a89"/>
<path d="M314.1,617.4 316.2,618.3 318.3,619.2 320.4,620.2" stroke="#3c4f8a"/>
<path d="M320.4,620.2 322.5,621.1 324.6,622.0 326.7,622.8" stroke="#3b528b"/>
<path d="M326.7,622.8 328.8,623.7 330.9,624.6" stroke="#39558c"/>
<path d="M330.9,624.6 333.1,625.4 335.2,626.3 337.4,627.1" stroke="#38598c"/>
<path d="M337.4,627.1 339.5,627.9 341.7,628.7 343.9,629.5" stroke="#365c8d"/>
<path d="M343.9,629.5 346.0,630.3 348.2,631.0" stroke="#355f8d"/>
<path d="M348.2,631.0 350.4,631.8 352.6,632.5" stroke="#33638d"/>
<path d="M352.6,632.5 354.8,633.3 357.0,634.0" stroke="#31668e"/>
<path d="M357.0,634.0 359.2,634.7" stroke="#30698e"/>
<path d="M359.2,634.7 361.5,635.4 363.7,636.1" stroke="#2f6c8e"/>
<path d="M363.7,636.1 365.9,636.7 368.2,637.4" stroke="#2e6f8e"/>
<path d="M368.2,637.4 370.4,638.0 372.7,638.7" stroke="#2c728e"/>
<path d="M372.7,638.7 374.9,639.3" stroke="#2b758e"/>
<path d="M374.9,639.3 377.2,639.9 379.5,640.5" stroke="#2a788e"/>
<path d="M379.5,640.5 381.7,641.0 384.0,641.6" stroke="#297b8e"/>
<path d="M384.0,641.6 386.3,642.2" stroke="#277e8e"/>
<path d="M386.3,642.2 388.6,642.7" stroke="#26828e"/>
<path d="M388.6,642.7 390.9,643.2 393.2,643.7" stroke="#25848e"/>
<path d="M393.2,643.7 395.5,644.2" stroke="#24878e"/>
<path d="M395.5,644.2 397.8,644.7 400.1,645.2" stroke="#238a8d"/>
<path d="M400.1,645.2 402.4,645.7" stroke="#228d8d"/>
<path d="M402.4,645.7 404.7,646.1" stroke="#21918c"/>
<path d="M404.7,646.1 407.0,646.6 409.4,647.0" stroke="#20938c"/>
<path d="M409.4,647.0 411.7,647.4" stroke="#1f968b"/>
<path d="M411.7,647.4 414.0,647.8" stroke="#1f998a"/>
<path d="M414.0,647.8 416.4,648.2 418.7,648.6 421.0,648.9" stroke="#1e9c89"/>
<path d="M421.0,648.9 423.4,649.3 425.7,649.6 428.1,649.9" stroke="#1f9f88"/>
<path d="M428.1,649.9 430.5,650.2 432.8,650.5 435.2,650.8" stroke="#1fa287"/>
<path d="M435.2,650.8 437.5,651.1 439.9,651.3 442.3,651.6" stroke="#21a585"/>
<path d="M442.3,651.6 444.6,651.8 447.0,652.0 449.4,652.2" stroke="#22a884"/>
<path d="M449.4,652.2 451.7,652.4 454.1,652.6 456.5,652.7 458.9,652.9 461.3,653.0 463.6,653.1 466.0,653.2 468.4,653.3 470.8,653.4 473.2,653.5 475.6,653.5 477.9,653.6 480.3,653.6 482.7,653.6" stroke="#25ab82"/>
<path d="M482.7,653.6 485.1,653.6 487.5,653.6 489.9,653.6" stroke="#27ad81"/>
<path d="M489.9,653.6 492.3,653.6 494.6,653.5 497.0,653.4 499.4,653.4 501.8,653.3 504.2,653.2 506.6,653.0 508.9,652.9 511.3,652.8 513.7,652.6 516.1,652.4 518.4,652.3 520.8,652.1" stroke="#25ab82"/>
<path d="M520.8,652.1 523.2,651.8 525.6,651.6 527.9,651.4" stroke="#22a884"/>
<path d="M527.9,651.4 530.3,651.1 532.7,650.9 535.0,650.6" stroke="#21a585"/>
<path d="M535.0,650.6 537.4,650.3 539.7,650.0 542.1,649.7" stroke="#1fa287"/>
<path d="M542.1,649.7 544.4,649.3 546.8,649.0 549.1,648.6" stroke="#1f9f88"/>
<path d="M549.1,648.6 551.5,648.3 553.8,647.9 556.1,647.5" stroke="#1e9c89"/>
<path d="M556.1,647.5 558.5,647.1" stroke="#1f998a"/>
<path d="M558.5,647.1 560.8,646.7 563.1,646.2" stroke="#1f968b"/>
<path d="M563.1,646.2 565.4,645.8" stroke="#20938c"/>
<path d="M565.4,645.8 567.7,645.3" stroke="#21918c"/>
<path d="M567.7,645.3 570.1,644.9 572.4,644.4" stroke="#228d8d"/>
<path d="M572.4,644.4 574.7,643.9" stroke="#238a8d"/>
<path d="M574.7,643.9 577.0,643.4" stroke="#24878e"/>
<path d="M577.0,643.4 579.3,642.8 581.6,642.3" stroke="#25848e"/>
<path d="M581.6,642.3 583.8,641.7" stroke="#26828e"/>
<path d="M583.8,641.7 586.1,641.2 588.4,640.6" stroke="#277e8e"/>
<path d="M588.4,640.6 590.7,640.0" stroke="#297b8e"/>
<path d="M590.7,640.0 592.9,639.4 595.2,638.8" stroke="#2a788e"/>
<path d="M595.2,638.8 597.4,638.2 599.7,637.5" stroke="#2b758e"/>
<path d="M599.7,637.5 601.9,636.9" stroke="#2c728e"/>
<path d="M601.9,636.9 604.2,636.2 606.4,635.5" stroke="#2e6f8e"/>
<path d="M606.4,635.5 608.6,634.9 610.8,634.2" stroke="#2f6c8e"/>
<path d="M610.8,634.2 613.0,633.4 615.3,632.7" stroke="#30698e"/>
<path d="M615.3,632.7 617.5,632.0" stroke="#31668e"/>
<path d="M617.5,632.0 619.6,631.2 621.8,630.5" stroke="#33638d"/>
<path d="M621.8,630.5 624.0,629.7 626.2,628.9" stroke="#355f8d"/>
<path d="M626.2,628.9 628.4,628.1 630.5,627.3 632.7,626.5" stroke="#365c8d"/>
<path d="M632.7,626.5 634.8,625.6 636.9,624.8 639.1,623.9" stroke="#38598c"/>
<path d="M639.1,623.9 641.2,623.1 643.3,622.2 645.4,621.3" stroke="#39558c"/>
<path d="M645.4,621.3 647.5,620.4 649.6,619.5" stroke="#3b528b"/>
<path d="M649.6,619.5 651.7,618.5 653.8,617.6 655.8,616.6" stroke="#3c4f8a"/>
<path d="M655.8,616.6 657.9,615.7 659.9,614.7 662.0,613.7 664.0,612.7 666.0,611.7" stroke="#3e4a89"/>
<path d="M666.0,611.7 668.0,610.7 670.1,609.6 672.0,608.6 674.0,607.5 676.0,606.5 678.0,605.4 679.9,604.3 681.9,603.2 683.8,602.1 685.8,601.0" stroke="#3f4788"/>
<path d="M685.8,601.0 687.7,599.9 689.6,598.7 691.5,597.6 693.4,596.4 695.3,595.2 697.1,594.0 699.0,592.8 700.8,591.6 702.7,590.4 704.5,589.2 706.3,588.0" stroke="#414487"/>
<path d="M706.3,588.0 708.1,586.7 709.9,585.5 711.7,584.2 713.5,582.9 715.2,581.6 717.0,580.3 718.7,579.0 720.4,577.7 722.2,576.4 723.9,575.1 725.6,573.7 727.2,572.4" stroke="#424086"/>
<path d="M727.2,572.4 728.9,571.0 730.6,569.6 732.2,568.2 733.8,566.9 735.5,565.5 737.1,564.0 738.7,562.6 740.2,561.2 741.8,559.8 743.4,558.3 744.9,556.9 746.5,555.4 748.0,553.9" stroke="#433d84"/>
<path d="M748.0,553.9 749.5,552.5 751.0,551.0 752.5,549.5 753.9,548.0 755.4,546.5 756.8,545.0 758.2,543.4" stroke="#453882"/>
<path d="M758.2,543.4 759.7,541.9 761.1,540.4 762.4,538.8 763.8,537.2 765.2,535.7 766.5,534.1 767.9,532.5 769.2,530.9" stroke="#463480"/>
<path d="M769.2,530.9 770.5,529.3 771.8,527.7 773.0,526.1 774.3,524.5 775.6,522.9 776.8,521.3 778.0,519.6 779.2,518.0 780.4,516.3" stroke="#46307e"/>
<path d="M780.4,516.3 781.6,514.7 782.7,513.0 783.9,511.3 785.0,509.7 786.1,508.0 787.2,506.3 788.3,504.6" stroke="#472d7b"/>
<path d="M788.3,504.6 789.4,502.9 790.5,501.2 791.5,499.5 792.5,497.7 793.6,496.0 794.6,494.3" stroke="#482979"/>
<path d="M794.6,494.3 795.5,492.5 796.5,490.8 797.5,489.1 798.4,487.3 799.3,485.5 800.2,483.8 801.1,482.0 802.0,480.2" stroke="#482576"/>
<path d="M802.0,480.2 802.8,478.5 803.7,476.7 804.5,474.9 805.3,473.1 806.1,471.3 806.9,469.5 807.7,467.7 808.4,465.9" stroke="#482071"/>
<path d="M808.4,465.9 809.2,464.1 809.9,462.3 810.6,460.4 811.3,458.6 811.9,456.8 812.6,455.0 813.2,453.1" stroke="#481c6e"/>
<path d="M813.2,453.1 813.9,451.3 814.5,449.4 815.1,447.6 815.6,445.7 816.2,443.9 816.7,442.0 817.2,440.2 817.8,438.3" stroke="#48186a"/>
<path d="M817.8,438.3 818.2,436.4 818.7,434.6 819.2,432.7 819.6,430.8 820.1,429.0 820.5,427.1 820.9,425.2 821.2,423.3 821.6,421.4 821.9,419.6" stroke="#481467"/>
<path d="M821.9,419.6 822.3,417.7 822.6,415.8 822.9,413.9 823.2,412.0 823.4,410.1 823.7,408.2 823.9,406.3" stroke="#471063"/></g>
<polygon points="484.2,647.4 485.6,651.7 490.1,651.7 486.5,654.4 487.8,658.6 484.2,656.0 480.6,658.6 481.9,654.4 478.3,651.7 482.8,651.7" fill="#000" stroke="#000" stroke-width="1.3" stroke-linejoin="round"/>
<g><path d="M149.7,488.3 150.4,490.2 151.1,492.1 151.8,493.9 152.5,495.8 153.3,497.6 154.0,499.5" stroke="#471063"/>
<path d="M154.0,499.5 154.8,501.3 155.6,503.2 156.4,505.0 157.2,506.8 158.1,508.7 158.9,510.5 159.8,512.3 160.7,514.1 161.6,515.9" stroke="#481467"/>
<path d="M161.6,515.9 162.5,517.7 163.5,519.5 164.4,521.3 165.4,523.1 166.4,524.8 167.4,526.6 168.4,528.4 169.4,530.2" stroke="#48186a"/>
<path d="M169.4,530.2 170.4,531.9 171.5,533.7 172.6,535.4 173.7,537.1 174.8,538.9 175.9,540.6 177.0,542.3 178.2,544.0 179.3,545.7 180.5,547.4" stroke="#481c6e"/>
<path d="M180.5,547.4 181.7,549.1 182.9,550.8 184.2,552.5 185.4,554.2 186.7,555.8 187.9,557.5 189.2,559.1 190.5,560.8 191.8,562.4" stroke="#482071"/>
<path d="M191.8,562.4 193.1,564.1 194.5,565.7 195.8,567.3 197.2,568.9 198.6,570.5 200.0,572.1 201.4,573.7 202.8,575.3" stroke="#482576"/>
<path d="M202.8,575.3 204.3,576.8 205.7,578.4 207.2,579.9 208.7,581.5 210.2,583.0 211.7,584.5 213.2,586.1" stroke="#482979"/>
<path d="M213.2,586.1 214.7,587.6 216.3,589.1 217.8,590.6 219.4,592.0 221.0,593.5 222.6,595.0 224.2,596.4" stroke="#472d7b"/>
<path d="M224.2,596.4 225.8,597.9 227.5,599.3 229.1,600.8 230.8,602.2 232.4,603.6 234.1,605.0 235.8,606.4" stroke="#46307e"/>
<path d="M235.8,606.4 237.5,607.8 239.3,609.1 241.0,610.5 242.7,611.9" stroke="#463480"/>
<path d="M242.7,611.9 244.5,613.2 246.3,614.5 248.1,615.9" stroke="#453882"/>
<path d="M248.1,615.9 249.8,617.2 251.7,618.5 253.5,619.8" stroke="#433d84"/>
<path d="M253.5,619.8 255.3,621.1 257.1,622.3 259.0,623.6" stroke="#424086"/>
<path d="M259.0,623.6 260.8,624.9 262.7,626.1 264.6,627.3" stroke="#414487"/>
<path d="M264.6,627.3 266.5,628.6 268.4,629.8 270.3,631.0" stroke="#3f4788"/>
<path d="M270.3,631.0 272.2,632.2 274.2,633.3 276.1,634.5" stroke="#3e4a89"/>
<path d="M276.1,634.5 278.1,635.7 280.0,636.8" stroke="#3c4f8a"/>
<path d="M280.0,636.8 282.0,637.9 284.0,639.1" stroke="#3b528b"/>
<path d="M284.0,639.1 286.0,640.2 288.0,641.3" stroke="#39558c"/>
<path d="M288.0,641.3 290.0,642.4" stroke="#38598c"/>
<path d="M290.0,642.4 292.0,643.4 294.1,644.5" stroke="#365c8d"/>
<path d="M294.1,644.5 296.1,645.6 298.2,646.6" stroke="#355f8d"/>
<path d="M298.2,646.6 300.2,647.7 302.3,648.7" stroke="#33638d"/>
<path d="M302.3,648.7 304.4,649.7 306.5,650.7" stroke="#31668e"/>
<path d="M306.5,650.7 308.6,651.7" stroke="#30698e"/>
<path d="M308.6,651.7 310.7,652.6 312.8,653.6" stroke="#2f6c8e"/>
<path d="M312.8,653.6 314.9,654.6 317.0,655.5 319.2,656.4" stroke="#2e6f8e"/>
<path d="M319.2,656.4 321.3,657.3 323.5,658.2" stroke="#2c728e"/>
<path d="M323.5,658.2 325.7,659.1 327.8,660.0" stroke="#2b758e"/>
<path d="M327.8,660.0 330.0,660.9 332.2,661.7" stroke="#2a788e"/>
<path d="M332.2,661.7 334.4,662.6 336.6,663.4" stroke="#297b8e"/>
<path d="M336.6,663.4 338.8,664.2 341.0,665.0" stroke="#277e8e"/>
<path d="M341.0,665.0 343.2,665.8 345.5,666.6" stroke="#26828e"/>
<path d="M345.5,666.6 347.7,667.4 349.9,668.1 352.2,668.9" stroke="#25848e"/>
<path d="M352.2,668.9 354.4,669.6 356.7,670.3 359.0,671.0" stroke="#24878e"/>
<path d="M359.0,671.0 361.2,671.7 363.5,672.4 365.8,673.1 368.1,673.7" stroke="#238a8d"/>
<path d="M368.1,673.7 370.4,674.4 372.7,675.0 375.0,675.6" stroke="#228d8d"/>
<path d="M375.0,675.6 377.3,676.2 379.6,676.8 382.0,677.4" stroke="#21918c"/>
<path d="M382.0,677.4 384.3,678.0 386.6,678.5 389.0,679.1 391.3,679.6" stroke="#20938c"/>
<path d="M391.3,679.6 393.7,680.1 396.0,680.6 398.4,681.1 400.7,681.6" stroke="#1f968b"/>
<path d="M400.7,681.6 403.1,682.0 405.5,682.5 407.8,682.9 410.2,683.3" stroke="#1f998a"/>
<path d="M410.2,683.3 412.6,683.7 415.0,684.1 417.4,684.5 419.8,684.9" stroke="#1e9c89"/>
<path d="M419.8,684.9 422.1,685.2 424.5,685.6 426.9,685.9 429.3,686.2 431.8,686.5" stroke="#1f9f88"/>
<path d="M431.8,686.5 434.2,686.8 436.6,687.1 439.0,687.3 441.4,687.6 443.8,687.8" stroke="#1fa287"/>
<path d="M443.8,687.8 446.2,688.0 448.7,688.2 451.1,688.4 453.5,688.6 455.9,688.7 458.4,688.9 460.8,689.0 463.2,689.2 465.6,689.3 468.1,689.4" stroke="#21a585"/>
<path d="M468.1,689.4 470.5,689.5 472.9,689.5 475.4,689.6 477.8,689.6 480.2,689.7 482.7,689.7 485.1,689.7 487.5,689.7 490.0,689.6 492.4,689.6 494.8,689.5 497.3,689.5 499.7,689.4 502.1,689.3 504.6,689.2" stroke="#22a884"/>
<path d="M504.6,689.2 507.0,689.1 509.4,688.9 511.9,688.8 514.3,688.6 516.7,688.5 519.1,688.3 521.5,688.1 524.0,687.8 526.4,687.6" stroke="#21a585"/>
<path d="M526.4,687.6 528.8,687.4 531.2,687.1 533.6,686.9 536.0,686.6 538.4,686.3" stroke="#1fa287"/>
<path d="M538.4,686.3 540.8,686.0 543.2,685.6 545.6,685.3 548.0,685.0 550.4,684.6" stroke="#1f9f88"/>
<path d="M550.4,684.6 552.8,684.2 555.2,683.8 557.6,683.4 560.0,683.0 562.3,682.6" stroke="#1e9c89"/>
<path d="M562.3,682.6 564.7,682.1 567.1,681.7 569.4,681.2" stroke="#1f998a"/>
<path d="M569.4,681.2 571.8,680.7 574.1,680.2 576.5,679.7 578.8,679.2" stroke="#1f968b"/>
<path d="M578.8,679.2 581.2,678.7 583.5,678.1 585.8,677.5 588.2,677.0" stroke="#20938c"/>
<path d="M588.2,677.0 590.5,676.4 592.8,675.8 595.1,675.2" stroke="#21918c"/>
<path d="M595.1,675.2 597.4,674.5 599.7,673.9 602.0,673.3 604.3,672.6" stroke="#228d8d"/>
<path d="M604.3,672.6 606.6,671.9 608.8,671.2 611.1,670.5" stroke="#238a8d"/>
<path d="M611.1,670.5 613.4,669.8 615.6,669.1 617.9,668.3" stroke="#24878e"/>
<path d="M617.9,668.3 620.1,667.6 622.4,666.8 624.6,666.0" stroke="#25848e"/>
<path d="M624.6,666.0 626.8,665.2 629.0,664.4" stroke="#26828e"/>
<path d="M629.0,664.4 631.3,663.6 633.5,662.8" stroke="#277e8e"/>
<path d="M633.5,662.8 635.6,662.0 637.8,661.1" stroke="#297b8e"/>
<path d="M637.8,661.1 640.0,660.2 642.2,659.4 644.4,658.5" stroke="#2a788e"/>
<path d="M644.4,658.5 646.5,657.6 648.7,656.7" stroke="#2b758e"/>
<path d="M648.7,656.7 650.8,655.7 652.9,654.8" stroke="#2c728e"/>
<path d="M652.9,654.8 655.1,653.9 657.2,652.9" stroke="#2e6f8e"/>
<path d="M657.2,652.9 659.3,651.9 661.4,650.9" stroke="#2f6c8e"/>
<path d="M661.4,650.9 663.5,649.9 665.6,648.9" stroke="#30698e"/>
<path d="M665.6,648.9 667.6,647.9" stroke="#31668e"/>
<path d="M667.6,647.9 669.7,646.9 671.7,645.8" stroke="#33638d"/>
<path d="M671.7,645.8 673.8,644.8 675.8,643.7" stroke="#355f8d"/>
<path d="M675.8,643.7 677.9,642.6 679.9,641.6" stroke="#365c8d"/>
<path d="M679.9,641.6 681.9,640.5 683.9,639.4" stroke="#38598c"/>
<path d="M683.9,639.4 685.9,638.2 687.8,637.1" stroke="#39558c"/>
<path d="M687.8,637.1 689.8,636.0" stroke="#3b528b"/>
<path d="M689.8,636.0 691.8,634.8 693.7,633.6" stroke="#3c4f8a"/>
<path d="M693.7,633.6 695.7,632.5 697.6,631.3 699.5,630.1" stroke="#3e4a89"/>
<path d="M699.5,630.1 701.4,628.9 703.3,627.6 705.2,626.4" stroke="#3f4788"/>
<path d="M705.2,626.4 707.1,625.2 708.9,623.9 710.8,622.7" stroke="#414487"/>
<path d="M710.8,622.7 712.6,621.4 714.5,620.1 716.3,618.8" stroke="#424086"/>
<path d="M716.3,618.8 718.1,617.5 719.9,616.2 721.7,614.9" stroke="#433d84"/>
<path d="M721.7,614.9 723.4,613.6 725.2,612.2 727.0,610.9" stroke="#453882"/>
<path d="M727.0,610.9 728.7,609.5 730.4,608.1 732.1,606.7 733.8,605.4 735.5,604.0" stroke="#463480"/>
<path d="M735.5,604.0 737.2,602.5 738.9,601.1 740.5,599.7 742.2,598.3 743.8,596.8 745.4,595.4" stroke="#46307e"/>
<path d="M745.4,595.4 747.0,593.9 748.6,592.4 750.2,590.9 751.7,589.5 753.3,588.0 754.8,586.5 756.3,584.9" stroke="#472d7b"/>
<path d="M756.3,584.9 757.9,583.4 759.3,581.9 760.8,580.3 762.3,578.8 763.8,577.2 765.2,575.7 766.6,574.1 768.0,572.5" stroke="#482979"/>
<path d="M768.0,572.5 769.4,570.9 770.8,569.3 772.2,567.7 773.6,566.1 774.9,564.5 776.2,562.8 777.6,561.2 778.9,559.6" stroke="#482576"/>
<path d="M778.9,559.6 780.1,557.9 781.4,556.3 782.7,554.6 783.9,552.9 785.2,551.3 786.4,549.6 787.6,547.9 788.8,546.2" stroke="#482071"/>
<path d="M788.8,546.2 789.9,544.5 791.1,542.8 792.2,541.0 793.3,539.3 794.5,537.6 795.5,535.9 796.6,534.1 797.7,532.4 798.7,530.6 799.8,528.8" stroke="#481c6e"/>
<path d="M799.8,528.8 800.8,527.1 801.8,525.3 802.8,523.5 803.8,521.7 804.7,520.0 805.6,518.2 806.6,516.4 807.5,514.6" stroke="#48186a"/>
<path d="M807.5,514.6 808.4,512.8 809.2,510.9 810.1,509.1 811.0,507.3 811.8,505.5 812.6,503.6 813.4,501.8 814.2,500.0 814.9,498.1" stroke="#481467"/>
<path d="M814.9,498.1 815.7,496.3 816.4,494.4 817.1,492.5 817.8,490.7 818.5,488.8 819.2,487.0 819.8,485.1 820.5,483.2 821.1,481.3" stroke="#471063"/></g>
<polygon points="484.2,683.4 490.2,687.7 487.9,694.8 480.5,694.8 478.2,687.7" fill="#000" stroke="#000" stroke-width="1.4" stroke-linejoin="round"/>
<g><path d="M211.2,588.3 212.7,589.8 214.2,591.3" stroke="#440154"/>
<path d="M214.2,591.3 215.8,592.8 217.3,594.3 218.9,595.8 220.5,597.3 222.1,598.8 223.7,600.2 225.3,601.7 227.0,603.1 228.6,604.6 230.3,606.0 231.9,607.4" stroke="#450559"/>
<path d="M231.9,607.4 233.6,608.8 235.3,610.2 237.0,611.6 238.8,613.0 240.5,614.3 242.2,615.7 244.0,617.0 245.8,618.4 247.6,619.7 249.4,621.0" stroke="#460a5d"/>
<path d="M249.4,621.0 251.2,622.3 253.0,623.6 254.8,624.9 256.6,626.2 258.5,627.4 260.4,628.7 262.2,629.9 264.1,631.2 266.0,632.4" stroke="#471063"/>
<path d="M266.0,632.4 267.9,633.6 269.8,634.8 271.8,636.0 273.7,637.2 275.6,638.4 277.6,639.5 279.6,640.7 281.5,641.8" stroke="#481467"/>
<path d="M281.5,641.8 283.5,642.9 285.5,644.0 287.5,645.2 289.6,646.2 291.6,647.3 293.6,648.4 295.7,649.5" stroke="#48186a"/>
<path d="M295.7,649.5 297.7,650.5 299.8,651.5 301.8,652.6 303.9,653.6 306.0,654.6 308.1,655.6" stroke="#481c6e"/>
<path d="M308.1,655.6 310.2,656.5 312.3,657.5 314.5,658.5 316.6,659.4 318.7,660.3 320.9,661.3" stroke="#482071"/>
<path d="M320.9,661.3 323.0,662.2 325.2,663.1 327.4,663.9 329.6,664.8 331.7,665.7 333.9,666.5" stroke="#482576"/>
<path d="M333.9,666.5 336.1,667.3 338.4,668.2 340.6,669.0 342.8,669.8 345.0,670.6 347.3,671.3" stroke="#482979"/>
<path d="M347.3,671.3 349.5,672.1 351.8,672.8 354.0,673.6 356.3,674.3 358.5,675.0 360.8,675.7" stroke="#472d7b"/>
<path d="M360.8,675.7 363.1,676.4 365.4,677.0 367.7,677.7 370.0,678.3 372.3,679.0 374.6,679.6" stroke="#46307e"/>
<path d="M374.6,679.6 376.9,680.2 379.2,680.8 381.6,681.4 383.9,681.9 386.2,682.5 388.6,683.0 390.9,683.6 393.3,684.1 395.6,684.6 398.0,685.1" stroke="#463480"/>
<path d="M398.0,685.1 400.3,685.5 402.7,686.0 405.1,686.5 407.5,686.9 409.8,687.3 412.2,687.7 414.6,688.1 417.0,688.5 419.4,688.9 421.8,689.2 424.2,689.6 426.6,689.9 429.0,690.2" stroke="#453882"/>
<path d="M429.0,690.2 431.4,690.5 433.8,690.8 436.2,691.1 438.6,691.3 441.1,691.6 443.5,691.8 445.9,692.0 448.3,692.2 450.7,692.4 453.2,692.6 455.6,692.8 458.0,692.9 460.5,693.1 462.9,693.2" stroke="#433d84"/>
<path d="M462.9,693.2 465.3,693.3 467.8,693.4 470.2,693.5 472.6,693.6 475.1,693.6 477.5,693.7 479.9,693.7 482.4,693.7 484.8,693.7 487.3,693.7 489.7,693.7 492.1,693.7 494.6,693.6 497.0,693.5 499.4,693.5 501.9,693.4 504.3,693.3 506.7,693.1 509.2,693.0" stroke="#424086"/>
<path d="M509.2,693.0 511.6,692.9 514.0,692.7 516.5,692.5 518.9,692.3 521.3,692.1 523.7,691.9 526.1,691.7 528.6,691.5 531.0,691.2 533.4,690.9 535.8,690.7 538.2,690.4 540.6,690.1" stroke="#433d84"/>
<path d="M540.6,690.1 543.0,689.7 545.4,689.4 547.8,689.0 550.2,688.7 552.6,688.3 555.0,687.9 557.4,687.5 559.8,687.1 562.1,686.7 564.5,686.2 566.9,685.8 569.2,685.3 571.6,684.8 574.0,684.3" stroke="#453882"/>
<path d="M574.0,684.3 576.3,683.8 578.7,683.3 581.0,682.8 583.3,682.2 585.7,681.7 588.0,681.1 590.3,680.5 592.7,679.9 595.0,679.3 597.3,678.7" stroke="#463480"/>
<path d="M597.3,678.7 599.6,678.0 601.9,677.4 604.2,676.7 606.4,676.0 608.7,675.3" stroke="#46307e"/>
<path d="M608.7,675.3 611.0,674.6 613.3,673.9 615.5,673.2 617.8,672.5 620.0,671.7 622.3,670.9" stroke="#472d7b"/>
<path d="M622.3,670.9 624.5,670.2 626.7,669.4 629.0,668.6 631.2,667.8 633.4,666.9 635.6,666.1" stroke="#482979"/>
<path d="M635.6,666.1 637.8,665.2 639.9,664.4 642.1,663.5 644.3,662.6 646.4,661.7 648.6,660.8" stroke="#482576"/>
<path d="M648.6,660.8 650.7,659.9 652.9,658.9 655.0,658.0 657.1,657.0 659.2,656.1 661.3,655.1" stroke="#482071"/>
<path d="M661.3,655.1 663.4,654.1 665.5,653.1 667.6,652.0 669.7,651.0 671.7,650.0 673.8,648.9 675.8,647.9" stroke="#481c6e"/>
<path d="M675.8,647.9 677.8,646.8 679.9,645.7 681.9,644.6 683.9,643.5 685.9,642.4 687.9,641.2" stroke="#48186a"/>
<path d="M687.9,641.2 689.8,640.1 691.8,638.9 693.7,637.8 695.7,636.6 697.6,635.4 699.5,634.2 701.4,633.0 703.3,631.8" stroke="#481467"/>
<path d="M703.3,631.8 705.2,630.5 707.1,629.3 709.0,628.1 710.8,626.8 712.7,625.5 714.5,624.2 716.3,623.0 718.2,621.7 720.0,620.3 721.7,619.0" stroke="#471063"/>
<path d="M721.7,619.0 723.5,617.7 725.3,616.3 727.0,615.0 728.8,613.6 730.5,612.3 732.2,610.9 733.9,609.5 735.6,608.1 737.3,606.7 739.0,605.3" stroke="#460a5d"/>
<path d="M739.0,605.3 740.6,603.8 742.3,602.4 743.9,600.9 745.5,599.5 747.1,598.0 748.7,596.6 750.3,595.1 751.9,593.6 753.4,592.1" stroke="#450559"/></g>
<g><path d="M266.9,641.6 268.8,642.8 270.8,644.0 272.7,645.2 274.7,646.3 276.6,647.5 278.6,648.7 280.6,649.8" stroke="#460a5d"/>
<path d="M280.6,649.8 282.6,650.9 284.6,652.1 286.6,653.2 288.6,654.3 290.6,655.4 292.7,656.4 294.7,657.5 296.8,658.6 298.8,659.6 300.9,660.6 303.0,661.7 305.1,662.7 307.2,663.7 309.3,664.6 311.4,665.6 313.5,666.6 315.7,667.5 317.8,668.5 320.0,669.4 322.1,670.3 324.3,671.2" stroke="#471063"/>
<path d="M324.3,671.2 326.5,672.1 328.7,673.0 330.9,673.8 333.1,674.7 335.3,675.5 337.5,676.3 339.7,677.2 341.9,678.0 344.2,678.8 346.4,679.5 348.6,680.3 350.9,681.0 353.2,681.8 355.4,682.5 357.7,683.2 360.0,683.9 362.3,684.6 364.6,685.3 366.9,686.0" stroke="#481467"/>
<path d="M366.9,686.0 369.2,686.6 371.5,687.2 373.8,687.9 376.1,688.5 378.4,689.1 380.8,689.7 383.1,690.2 385.5,690.8 387.8,691.3 390.2,691.9 392.5,692.4 394.9,692.9 397.2,693.4 399.6,693.9 402.0,694.3 404.4,694.8 406.7,695.2 409.1,695.7 411.5,696.1" stroke="#48186a"/>
<path d="M411.5,696.1 413.9,696.5 416.3,696.9 418.7,697.2 421.1,697.6 423.5,697.9 425.9,698.3 428.3,698.6 430.7,698.9 433.2,699.2 435.6,699.5 438.0,699.7 440.4,700.0 442.9,700.2 445.3,700.4 447.7,700.6 450.1,700.8 452.6,701.0 455.0,701.2" stroke="#481c6e"/>
<path d="M455.0,701.2 457.4,701.4 459.9,701.5 462.3,701.6 464.8,701.7 467.2,701.8 469.6,701.9 472.1,702.0 474.5,702.1 477.0,702.1 479.4,702.2 481.9,702.2 484.3,702.2 486.8,702.2 489.2,702.1 491.6,702.1 494.1,702.1 496.5,702.0 499.0,701.9 501.4,701.8 503.9,701.7 506.3,701.6 508.7,701.5 511.2,701.3 513.6,701.2 516.0,701.0" stroke="#482071"/>
<path d="M516.0,701.0 518.5,700.8 520.9,700.6 523.3,700.4 525.8,700.2 528.2,700.0 530.6,699.7 533.0,699.4 535.4,699.2 537.9,698.9 540.3,698.6 542.7,698.2 545.1,697.9 547.5,697.6 549.9,697.2 552.3,696.8 554.7,696.4 557.1,696.0 559.5,695.6" stroke="#481c6e"/>
<path d="M559.5,695.6 561.9,695.2 564.2,694.7 566.6,694.3 569.0,693.8 571.4,693.3 573.7,692.8 576.1,692.3 578.4,691.8 580.8,691.3 583.1,690.7 585.5,690.2 587.8,689.6 590.2,689.0 592.5,688.4 594.8,687.8 597.1,687.2 599.4,686.5 601.7,685.9 604.0,685.2" stroke="#48186a"/>
<path d="M604.0,685.2 606.3,684.6 608.6,683.9 610.9,683.2 613.2,682.4 615.4,681.7 617.7,681.0 619.9,680.2 622.2,679.5 624.4,678.7 626.7,677.9 628.9,677.1 631.1,676.3 633.3,675.4 635.5,674.6 637.7,673.8 639.9,672.9 642.1,672.0 644.3,671.1 646.5,670.2" stroke="#481467"/>
<path d="M646.5,670.2 648.6,669.3 650.8,668.4 652.9,667.4 655.1,666.5 657.2,665.5 659.3,664.6 661.4,663.6 663.5,662.6 665.6,661.6 667.7,660.5 669.8,659.5 671.8,658.5 673.9,657.4 675.9,656.3 678.0,655.3 680.0,654.2 682.0,653.1 684.0,652.0 686.0,650.8 688.0,649.7 690.0,648.6" stroke="#471063"/>
<path d="M690.0,648.6 692.0,647.4 693.9,646.2 695.9,645.1 697.8,643.9 699.7,642.7 701.6,641.5 703.6,640.2 705.5,639.0 707.3,637.8 709.2,636.5 711.1,635.2 712.9,634.0 714.8,632.7 716.6,631.4 718.4,630.1 720.2,628.8 722.0,627.4 723.8,626.1 725.6,624.8 727.3,623.4 729.1,622.0 730.8,620.7 732.5,619.3 734.2,617.9" stroke="#460a5d"/>
<path d="M734.2,617.9 735.9,616.5 737.6,615.1 739.3,613.7 741.0,612.2 742.6,610.8 744.3,609.3 745.9,607.9 747.5,606.4 749.1,604.9 750.7,603.4 752.2,602.0 753.8,600.4 755.4,598.9 756.9,597.4 758.4,595.9 759.9,594.3 761.4,592.8 762.9,591.2 764.3,589.7 765.8,588.1 767.2,586.5 768.7,584.9 770.1,583.4 771.5,581.7 772.8,580.1 774.2,578.5 775.6,576.9 776.9,575.3" stroke="#450559"/>
<path d="M776.9,575.3 778.2,573.6 779.5,572.0 780.8,570.3 782.1,568.7 783.4,567.0 784.6,565.3 785.9,563.6" stroke="#440154"/></g>
<g><path d="M165.1,549.1 166.1,550.9" stroke="#440154"/>
<path d="M166.1,550.9 167.1,552.6 168.2,554.4 169.2,556.2 170.3,557.9 171.4,559.7 172.5,561.4 173.6,563.1 174.7,564.9 175.8,566.6 177.0,568.3 178.2,570.0 179.3,571.7 180.5,573.4 181.7,575.1 183.0,576.8 184.2,578.5 185.5,580.2 186.8,581.8 188.0,583.5 189.3,585.1 190.7,586.8 192.0,588.4 193.3,590.0" stroke="#450559"/>
<path d="M193.3,590.0 194.7,591.7 196.1,593.3 197.5,594.9 198.9,596.5 200.3,598.1 201.7,599.7 203.1,601.2 204.6,602.8 206.1,604.4 207.6,605.9 209.1,607.4 210.6,609.0 212.1,610.5 213.6,612.0 215.2,613.5 216.7,615.0 218.3,616.5 219.9,618.0 221.5,619.5" stroke="#460a5d"/>
<path d="M221.5,619.5 223.1,620.9 224.8,622.4 226.4,623.8 228.1,625.3 229.7,626.7 231.4,628.1 233.1,629.5 234.8,630.9 236.5,632.3 238.2,633.7 240.0,635.0 241.7,636.4 243.5,637.7 245.3,639.1 247.1,640.4" stroke="#471063"/>
<path d="M247.1,640.4 248.9,641.7 250.7,643.0 252.5,644.3 254.3,645.6 256.2,646.9 258.0,648.2 259.9,649.4 261.8,650.7 263.6,651.9 265.5,653.2 267.5,654.4 269.4,655.6" stroke="#481467"/>
<path d="M269.4,655.6 271.3,656.8 273.3,658.0 275.2,659.1 277.2,660.3 279.1,661.4 281.1,662.6 283.1,663.7 285.1,664.8 287.1,665.9 289.1,667.0 291.2,668.1" stroke="#48186a"/>
<path d="M291.2,668.1 293.2,669.2 295.3,670.2 297.3,671.3 299.4,672.3 301.5,673.4 303.6,674.4 305.6,675.4 307.8,676.4 309.9,677.3 312.0,678.3" stroke="#481c6e"/>
<path d="M312.0,678.3 314.1,679.3 316.2,680.2 318.4,681.1 320.5,682.1 322.7,683.0 324.9,683.9 327.1,684.8 329.2,685.6 331.4,686.5 333.6,687.3" stroke="#482071"/>
<path d="M333.6,687.3 335.8,688.2 338.1,689.0 340.3,689.8 342.5,690.6 344.7,691.4 347.0,692.2 349.2,692.9 351.5,693.7 353.8,694.4 356.0,695.1 358.3,695.8 360.6,696.5 362.9,697.2 365.2,697.9 367.5,698.5 369.8,699.2 372.1,699.8 374.4,700.4" stroke="#482576"/>
<path d="M374.4,700.4 376.7,701.0 379.0,701.6 381.4,702.2 383.7,702.8 386.0,703.3 388.4,703.9 390.7,704.4 393.1,704.9 395.5,705.4 397.8,705.9 400.2,706.4 402.6,706.9 404.9,707.3 407.3,707.7 409.7,708.2 412.1,708.6 414.5,709.0 416.9,709.3 419.3,709.7 421.7,710.1 424.1,710.4 426.5,710.7 428.9,711.1 431.3,711.4 433.7,711.7" stroke="#482979"/>
<path d="M433.7,711.7 436.1,711.9 438.6,712.2 441.0,712.4 443.4,712.7 445.8,712.9 448.3,713.1 450.7,713.3 453.1,713.5 455.6,713.6 458.0,713.8 460.4,713.9 462.9,714.1 465.3,714.2 467.7,714.3 470.2,714.4 472.6,714.4 475.1,714.5 477.5,714.5 480.0,714.6 482.4,714.6 484.8,714.6 487.3,714.6 489.7,714.5 492.2,714.5 494.6,714.5 497.0,714.4 499.5,714.3 501.9,714.2 504.4,714.1 506.8,714.0 509.2,713.9 511.7,713.7 514.1,713.6 516.5,713.4 519.0,713.2 521.4,713.0 523.8,712.8 526.3,712.6 528.7,712.3 531.1,712.1 533.5,711.8 535.9,711.5 538.3,711.2" stroke="#472d7b"/>
<path d="M538.3,711.2 540.8,710.9 543.2,710.6 545.6,710.2 548.0,709.9 550.4,709.5 552.8,709.2 555.2,708.8 557.6,708.4 559.9,707.9 562.3,707.5 564.7,707.1 567.1,706.6 569.4,706.1 571.8,705.7 574.2,705.2 576.5,704.7 578.9,704.1 581.2,703.6 583.6,703.1 585.9,702.5 588.2,701.9 590.6,701.3 592.9,700.7 595.2,700.1" stroke="#482979"/>
<path d="M595.2,700.1 597.5,699.5 599.8,698.8 602.1,698.2 604.4,697.5 606.7,696.9 609.0,696.2 611.3,695.5 613.6,694.7 615.8,694.0 618.1,693.3 620.3,692.5 622.6,691.8 624.8,691.0 627.1,690.2 629.3,689.4 631.5,688.6 633.7,687.7 635.9,686.9" stroke="#482576"/>
<path d="M635.9,686.9 638.1,686.0 640.3,685.2 642.5,684.3 644.6,683.4 646.8,682.5 649.0,681.6 651.1,680.7 653.3,679.7 655.4,678.8 657.5,677.8" stroke="#482071"/>
<path d="M657.5,677.8 659.6,676.8 661.7,675.9 663.8,674.9 665.9,673.8 668.0,672.8 670.1,671.8 672.1,670.7 674.2,669.7 676.2,668.6 678.3,667.5 680.3,666.5" stroke="#481c6e"/>
<path d="M680.3,666.5 682.3,665.4 684.3,664.2 686.3,663.1 688.3,662.0 690.3,660.8 692.3,659.7 694.2,658.5 696.2,657.3 698.1,656.1 700.0,654.9 701.9,653.7" stroke="#48186a"/>
<path d="M701.9,653.7 703.8,652.5 705.7,651.3 707.6,650.0 709.5,648.8 711.3,647.5 713.2,646.3 715.0,645.0 716.9,643.7 718.7,642.4 720.5,641.1 722.3,639.7" stroke="#481467"/>
<path d="M722.3,639.7 724.1,638.4 725.8,637.0 727.6,635.7 729.3,634.3 731.1,633.0 732.8,631.6 734.5,630.2 736.2,628.8 737.9,627.4 739.6,625.9 741.2,624.5 742.9,623.1 744.5,621.6 746.1,620.2 747.7,618.7 749.3,617.2" stroke="#471063"/>
<path d="M749.3,617.2 750.9,615.7 752.5,614.2 754.0,612.7 755.6,611.2 757.1,609.7 758.6,608.2 760.1,606.6 761.6,605.1 763.1,603.5 764.6,602.0 766.0,600.4 767.4,598.8 768.9,597.2 770.3,595.7 771.7,594.1 773.0,592.4 774.4,590.8 775.8,589.2" stroke="#460a5d"/>
<path d="M775.8,589.2 777.1,587.6 778.4,585.9 779.7,584.3 781.0,582.6 782.3,581.0 783.6,579.3 784.8,577.6 786.1,575.9 787.3,574.3 788.5,572.6 789.7,570.9" stroke="#450559"/></g>
<g><path d="M306.2,695.0 308.3,695.9 310.4,696.9 312.5,697.9 314.6,698.8 316.8,699.8 318.9,700.7" stroke="#440154"/>
<path d="M318.9,700.7 321.0,701.6 323.2,702.5 325.3,703.4 327.5,704.3 329.7,705.2 331.8,706.0 334.0,706.9 336.2,707.7" stroke="#450559"/>
<path d="M336.2,707.7 338.4,708.5 340.6,709.3 342.8,710.1 345.1,710.9 347.3,711.7 349.5,712.4 351.8,713.2 354.0,713.9" stroke="#460a5d"/>
<path d="M354.0,713.9 356.3,714.6 358.5,715.3 360.8,716.0 363.0,716.7 365.3,717.4 367.6,718.0 369.9,718.7 372.2,719.3" stroke="#471063"/>
<path d="M372.2,719.3 374.5,719.9 376.8,720.5 379.1,721.1 381.4,721.7 383.7,722.3 386.1,722.8 388.4,723.4 390.7,723.9 393.1,724.4 395.4,724.9 397.8,725.4" stroke="#481467"/>
<path d="M397.8,725.4 400.1,725.9 402.5,726.3 404.8,726.8 407.2,727.2 409.6,727.6 411.9,728.0 414.3,728.4 416.7,728.8 419.1,729.2 421.5,729.5 423.8,729.9 426.2,730.2 428.6,730.5" stroke="#48186a"/>
<path d="M428.6,730.5 431.0,730.8 433.4,731.1 435.8,731.4 438.2,731.7 440.6,731.9 443.0,732.2 445.5,732.4 447.9,732.6 450.3,732.8 452.7,733.0 455.1,733.1 457.5,733.3 460.0,733.4 462.4,733.6" stroke="#481c6e"/>
<path d="M462.4,733.6 464.8,733.7 467.2,733.8 469.6,733.9 472.1,733.9 474.5,734.0 476.9,734.0 479.3,734.1 481.8,734.1 484.2,734.1 486.6,734.1 489.1,734.1 491.5,734.0 493.9,734.0 496.3,733.9 498.8,733.9 501.2,733.8 503.6,733.7 506.0,733.6 508.4,733.4" stroke="#482071"/>
<path d="M508.4,733.4 510.9,733.3 513.3,733.1 515.7,733.0 518.1,732.8 520.5,732.6 522.9,732.4 525.4,732.2 527.8,731.9 530.2,731.7 532.6,731.4 535.0,731.1 537.4,730.8 539.8,730.5 542.2,730.2" stroke="#481c6e"/>
<path d="M542.2,730.2 544.6,729.9 546.9,729.5 549.3,729.2 551.7,728.8 554.1,728.4 556.5,728.0 558.8,727.6 561.2,727.2 563.6,726.8 565.9,726.3 568.3,725.9 570.6,725.4 573.0,724.9" stroke="#48186a"/>
<path d="M573.0,724.9 575.3,724.4 577.7,723.9 580.0,723.4 582.3,722.8 584.7,722.3 587.0,721.7 589.3,721.1 591.6,720.5 593.9,719.9 596.2,719.3 598.5,718.7" stroke="#481467"/>
<path d="M598.5,718.7 600.8,718.0 603.1,717.4 605.4,716.7 607.6,716.0 609.9,715.3 612.1,714.6 614.4,713.9 616.6,713.2" stroke="#471063"/>
<path d="M616.6,713.2 618.9,712.4 621.1,711.7 623.3,710.9 625.6,710.1 627.8,709.3 630.0,708.5 632.2,707.7 634.4,706.9" stroke="#460a5d"/>
<path d="M634.4,706.9 636.6,706.0 638.7,705.2 640.9,704.3" stroke="#450559"/></g>
<g><path d="M206.8,642.1 208.2,643.6 209.7,645.2 211.1,646.7 212.5,648.2 214.0,649.7 215.4,651.2 216.9,652.7 218.4,654.2 219.9,655.7 221.4,657.2 223.0,658.6 224.5,660.1 226.1,661.5 227.6,663.0" stroke="#440154"/>
<path d="M227.6,663.0 229.2,664.4 230.8,665.8 232.4,667.2 234.0,668.6 235.7,670.0 237.3,671.4 239.0,672.8 240.6,674.1 242.3,675.5 244.0,676.8 245.7,678.2" stroke="#450559"/>
<path d="M245.7,678.2 247.4,679.5 249.1,680.8 250.9,682.1 252.6,683.4" stroke="#460a5d"/>
<path d="M252.6,683.4 254.4,684.7 256.2,686.0 257.9,687.3" stroke="#471063"/>
<path d="M257.9,687.3 259.7,688.5 261.5,689.8" stroke="#481467"/>
<path d="M261.5,689.8 263.4,691.0" stroke="#48186a"/>
<path d="M263.4,691.0 265.2,692.2" stroke="#481c6e"/>
<path d="M265.2,692.2 267.0,693.4 268.9,694.7" stroke="#482071"/>
<path d="M268.9,694.7 270.7,695.8" stroke="#482576"/>
<path d="M270.7,695.8 272.6,697.0" stroke="#482979"/>
<path d="M272.6,697.0 274.5,698.2 276.4,699.4" stroke="#472d7b"/>
<path d="M276.4,699.4 278.3,700.5 280.2,701.7" stroke="#46307e"/>
<path d="M280.2,701.7 282.1,702.8" stroke="#463480"/>
<path d="M282.1,702.8 284.0,703.9 286.0,705.0" stroke="#453882"/>
<path d="M286.0,705.0 287.9,706.1 289.9,707.2" stroke="#433d84"/>
<path d="M289.9,707.2 291.8,708.3" stroke="#424086"/>
<path d="M291.8,708.3 293.8,709.4 295.8,710.4" stroke="#414487"/>
<path d="M295.8,710.4 297.8,711.5 299.8,712.5" stroke="#3f4788"/>
<path d="M299.8,712.5 301.8,713.5 303.8,714.6" stroke="#3e4a89"/>
<path d="M303.8,714.6 305.9,715.6" stroke="#3c4f8a"/>
<path d="M305.9,715.6 307.9,716.5 310.0,717.5" stroke="#3b528b"/>
<path d="M310.0,717.5 312.0,718.5 314.1,719.4" stroke="#39558c"/>
<path d="M314.1,719.4 316.1,720.4 318.2,721.3" stroke="#38598c"/>
<path d="M318.2,721.3 320.3,722.2 322.4,723.2 324.5,724.1" stroke="#365c8d"/>
<path d="M324.5,724.1 326.6,724.9 328.8,725.8" stroke="#355f8d"/>
<path d="M328.8,725.8 330.9,726.7 333.0,727.5" stroke="#33638d"/>
<path d="M333.0,727.5 335.2,728.4 337.3,729.2" stroke="#31668e"/>
<path d="M337.3,729.2 339.5,730.0 341.6,730.8 343.8,731.6" stroke="#30698e"/>
<path d="M343.8,731.6 346.0,732.4 348.2,733.1 350.4,733.9" stroke="#2f6c8e"/>
<path d="M350.4,733.9 352.6,734.6 354.8,735.4 357.0,736.1 359.2,736.8 361.4,737.5" stroke="#2e6f8e"/>
<path d="M361.4,737.5 363.7,738.1 365.9,738.8 368.1,739.5 370.4,740.1 372.6,740.7" stroke="#2c728e"/>
<path d="M372.6,740.7 374.9,741.4 377.2,742.0 379.4,742.5 381.7,743.1 384.0,743.7 386.3,744.2" stroke="#2b758e"/>
<path d="M386.3,744.2 388.6,744.8 390.9,745.3 393.2,745.8 395.5,746.3 397.8,746.8 400.1,747.3 402.4,747.8 404.7,748.2 407.0,748.6 409.4,749.1" stroke="#2a788e"/>
<path d="M409.4,749.1 411.7,749.5 414.0,749.9 416.4,750.3 418.7,750.6 421.0,751.0 423.4,751.3 425.7,751.7 428.1,752.0 430.4,752.3 432.8,752.6 435.2,752.9 437.5,753.1 439.9,753.4 442.3,753.6 444.6,753.9 447.0,754.1 449.4,754.3 451.8,754.5 454.1,754.6 456.5,754.8 458.9,755.0 461.3,755.1 463.7,755.2 466.0,755.3 468.4,755.4 470.8,755.5 473.2,755.6 475.6,755.6" stroke="#297b8e"/>
<path d="M475.6,755.6 478.0,755.7 480.3,755.7 482.7,755.7 485.1,755.7 487.5,755.7 489.9,755.7 492.3,755.6 494.7,755.6" stroke="#277e8e"/>
<path d="M494.7,755.6 497.1,755.5 499.4,755.4 501.8,755.3 504.2,755.2 506.6,755.1 509.0,755.0 511.3,754.8 513.7,754.7 516.1,754.5 518.5,754.3 520.9,754.1 523.2,753.9 525.6,753.7 528.0,753.5 530.3,753.2 532.7,752.9 535.1,752.7 537.4,752.4 539.8,752.1 542.1,751.7 544.5,751.4 546.8,751.1 549.2,750.7 551.5,750.4 553.8,750.0 556.2,749.6 558.5,749.2 560.8,748.7" stroke="#297b8e"/>
<path d="M560.8,748.7 563.2,748.3 565.5,747.9 567.8,747.4 570.1,746.9 572.4,746.4 574.7,745.9 577.0,745.4 579.3,744.9 581.6,744.4 583.9,743.8" stroke="#2a788e"/>
<path d="M583.9,743.8 586.2,743.3 588.4,742.7 590.7,742.1 593.0,741.5 595.2,740.9 597.5,740.3" stroke="#2b758e"/>
<path d="M597.5,740.3 599.7,739.6 602.0,739.0 604.2,738.3 606.5,737.6 608.7,736.9" stroke="#2c728e"/>
<path d="M608.7,736.9 610.9,736.2 613.1,735.5 615.3,734.8 617.5,734.1 619.7,733.3" stroke="#2e6f8e"/>
<path d="M619.7,733.3 621.9,732.5 624.1,731.8 626.3,731.0 628.4,730.2" stroke="#2f6c8e"/>
<path d="M628.4,730.2 630.6,729.4 632.7,728.5" stroke="#30698e"/>
<path d="M632.7,728.5 634.9,727.7 637.0,726.9" stroke="#31668e"/>
<path d="M637.0,726.9 639.2,726.0 641.3,725.1" stroke="#33638d"/>
<path d="M641.3,725.1 643.4,724.3 645.5,723.4 647.6,722.5" stroke="#355f8d"/>
<path d="M647.6,722.5 649.7,721.5 651.8,720.6" stroke="#365c8d"/>
<path d="M651.8,720.6 653.9,719.7 655.9,718.7" stroke="#38598c"/>
<path d="M655.9,718.7 658.0,717.7 660.0,716.8" stroke="#39558c"/>
<path d="M660.0,716.8 662.1,715.8 664.1,714.8" stroke="#3b528b"/>
<path d="M664.1,714.8 666.1,713.8 668.1,712.8" stroke="#3c4f8a"/>
<path d="M668.1,712.8 670.2,711.7" stroke="#3e4a89"/>
<path d="M670.2,711.7 672.1,710.7 674.1,709.6" stroke="#3f4788"/>
<path d="M674.1,709.6 676.1,708.6 678.1,707.5" stroke="#414487"/>
<path d="M678.1,707.5 680.0,706.4" stroke="#424086"/>
<path d="M680.0,706.4 682.0,705.3 683.9,704.2" stroke="#433d84"/>
<path d="M683.9,704.2 685.9,703.1 687.8,701.9" stroke="#453882"/>
<path d="M687.8,701.9 689.7,700.8 691.6,699.6" stroke="#463480"/>
<path d="M691.6,699.6 693.5,698.5" stroke="#46307e"/>
<path d="M693.5,698.5 695.4,697.3 697.2,696.1" stroke="#472d7b"/>
<path d="M697.2,696.1 699.1,694.9" stroke="#482979"/>
<path d="M699.1,694.9 701.0,693.7" stroke="#482576"/>
<path d="M701.0,693.7 702.8,692.5 704.6,691.3" stroke="#482071"/>
<path d="M704.6,691.3 706.4,690.0" stroke="#481c6e"/>
<path d="M706.4,690.0 708.2,688.8" stroke="#48186a"/>
<path d="M708.2,688.8 710.0,687.5 711.8,686.3" stroke="#481467"/>
<path d="M711.8,686.3 713.6,685.0 715.4,683.7 717.1,682.4" stroke="#471063"/>
<path d="M717.1,682.4 718.9,681.1 720.6,679.8 722.3,678.5 724.0,677.1" stroke="#460a5d"/>
<path d="M724.0,677.1 725.7,675.8 727.4,674.4 729.1,673.1" stroke="#450559"/></g>
<polygon points="484.2,746.2 493.7,755.7 484.2,765.2 474.7,755.7" fill="#000"/>
</g>
<g class="grid">
<line x1="134.90" y1="28" x2="134.90" y2="837.75"/>
<line x1="204.76" y1="28" x2="204.76" y2="837.75"/>
<line x1="274.62" y1="28" x2="274.62" y2="837.75"/>
<line x1="344.48" y1="28" x2="344.48" y2="837.75"/>
<line x1="414.34" y1="28" x2="414.34" y2="837.75"/>
<line x1="484.20" y1="28" x2="484.20" y2="837.75"/>
<line x1="554.06" y1="28" x2="554.06" y2="837.75"/>
<line x1="623.92" y1="28" x2="623.92" y2="837.75"/>
<line x1="693.78" y1="28" x2="693.78" y2="837.75"/>
<line x1="763.64" y1="28" x2="763.64" y2="837.75"/>
<line x1="833.50" y1="28" x2="833.50" y2="837.75"/>
<line x1="100" y1="800.88" x2="868.4" y2="800.88"/>
<line x1="100" y1="708.90" x2="868.4" y2="708.90"/>
<line x1="100" y1="616.93" x2="868.4" y2="616.93"/>
<line x1="100" y1="524.96" x2="868.4" y2="524.96"/>
<line x1="100" y1="432.98" x2="868.4" y2="432.98"/>
<line x1="100" y1="341.00" x2="868.4" y2="341.00"/>
<line x1="100" y1="249.03" x2="868.4" y2="249.03"/>
<line x1="100" y1="157.06" x2="868.4" y2="157.06"/>
<line x1="100" y1="65.08" x2="868.4" y2="65.08"/>
</g>
<rect x="100" y="28" width="768.4" height="809.75" fill="none" stroke="#1a1a1a" stroke-width="1.5"/>
<g class="tk">
<line x1="134.90" y1="837.75" x2="134.90" y2="842.8"/>
<line x1="204.76" y1="837.75" x2="204.76" y2="842.8"/>
<line x1="274.62" y1="837.75" x2="274.62" y2="842.8"/>
<line x1="344.48" y1="837.75" x2="344.48" y2="842.8"/>
<line x1="414.34" y1="837.75" x2="414.34" y2="842.8"/>
<line x1="484.20" y1="837.75" x2="484.20" y2="842.8"/>
<line x1="554.06" y1="837.75" x2="554.06" y2="842.8"/>
<line x1="623.92" y1="837.75" x2="623.92" y2="842.8"/>
<line x1="693.78" y1="837.75" x2="693.78" y2="842.8"/>
<line x1="763.64" y1="837.75" x2="763.64" y2="842.8"/>
<line x1="833.50" y1="837.75" x2="833.50" y2="842.8"/>
<line x1="95" y1="800.88" x2="100" y2="800.88"/>
<line x1="95" y1="708.90" x2="100" y2="708.90"/>
<line x1="95" y1="616.93" x2="100" y2="616.93"/>
<line x1="95" y1="524.96" x2="100" y2="524.96"/>
<line x1="95" y1="432.98" x2="100" y2="432.98"/>
<line x1="95" y1="341.00" x2="100" y2="341.00"/>
<line x1="95" y1="249.03" x2="100" y2="249.03"/>
<line x1="95" y1="157.06" x2="100" y2="157.06"/>
<line x1="95" y1="65.08" x2="100" y2="65.08"/>
</g>
<text class="ser" x="134.9" y="864.3" text-anchor="middle" textLength="50.0" lengthAdjust="spacingAndGlyphs">−1.0</text>
<text class="ser" x="204.8" y="864.3" text-anchor="middle" textLength="50.0" lengthAdjust="spacingAndGlyphs">−0.8</text>
<text class="ser" x="274.6" y="864.3" text-anchor="middle" textLength="50.0" lengthAdjust="spacingAndGlyphs">−0.6</text>
<text class="ser" x="344.5" y="864.3" text-anchor="middle" textLength="50.0" lengthAdjust="spacingAndGlyphs">−0.4</text>
<text class="ser" x="414.3" y="864.3" text-anchor="middle" textLength="50.0" lengthAdjust="spacingAndGlyphs">−0.2</text>
<text class="ser" x="484.2" y="864.3" text-anchor="middle" textLength="30.0" lengthAdjust="spacingAndGlyphs">0.0</text>
<text class="ser" x="554.1" y="864.3" text-anchor="middle" textLength="30.0" lengthAdjust="spacingAndGlyphs">0.2</text>
<text class="ser" x="623.9" y="864.3" text-anchor="middle" textLength="30.0" lengthAdjust="spacingAndGlyphs">0.4</text>
<text class="ser" x="693.8" y="864.3" text-anchor="middle" textLength="30.0" lengthAdjust="spacingAndGlyphs">0.6</text>
<text class="ser" x="763.6" y="864.3" text-anchor="middle" textLength="30.0" lengthAdjust="spacingAndGlyphs">0.8</text>
<text class="ser" x="833.5" y="864.3" text-anchor="middle" textLength="30.0" lengthAdjust="spacingAndGlyphs">1.0</text>
<text class="ser" x="91.7" y="810.2" text-anchor="end" textLength="61.0" lengthAdjust="spacingAndGlyphs">−1.00</text>
<text class="ser" x="91.7" y="718.2" text-anchor="end" textLength="61.0" lengthAdjust="spacingAndGlyphs">−0.75</text>
<text class="ser" x="91.7" y="626.2" text-anchor="end" textLength="61.0" lengthAdjust="spacingAndGlyphs">−0.50</text>
<text class="ser" x="91.7" y="534.3" text-anchor="end" textLength="61.0" lengthAdjust="spacingAndGlyphs">−0.25</text>
<text class="ser" x="91.7" y="442.3" text-anchor="end" textLength="42.0" lengthAdjust="spacingAndGlyphs">0.00</text>
<text class="ser" x="91.7" y="350.3" text-anchor="end" textLength="42.0" lengthAdjust="spacingAndGlyphs">0.25</text>
<text class="ser" x="91.7" y="258.3" text-anchor="end" textLength="42.0" lengthAdjust="spacingAndGlyphs">0.50</text>
<text class="ser" x="91.7" y="166.4" text-anchor="end" textLength="42.0" lengthAdjust="spacingAndGlyphs">0.75</text>
<text class="ser" x="91.7" y="74.4" text-anchor="end" textLength="42.0" lengthAdjust="spacingAndGlyphs">1.00</text>
<text class="san" x="484.4" y="21" text-anchor="middle" textLength="139" lengthAdjust="spacingAndGlyphs">Sky Hitmap</text>
<text class="san" x="484.4" y="893.7" text-anchor="middle" textLength="140.5" lengthAdjust="spacingAndGlyphs">Telescope X</text>
<text class="san" transform="translate(20.9,432.4) rotate(-90)" text-anchor="middle" textLength="141.5" lengthAdjust="spacingAndGlyphs">Telescope Y</text>
<rect x="657" y="42.9" width="195.3" height="298.9" rx="5" ry="5" fill="#fff" fill-opacity="0.8" stroke="#cfcfcf" stroke-width="1.3"/>
<polygon points="698.7,75.1 691.8,61.3 705.6,61.3" fill="#000"/>
<text class="san" x="752.6" y="75.6" textLength="61.0" lengthAdjust="spacingAndGlyphs">CasA</text>
<polygon points="698.7,102.8 691.8,116.6 705.6,116.6" fill="#000"/>
<text class="san" x="752.6" y="117.1" textLength="62.3" lengthAdjust="spacingAndGlyphs">CygA</text>
<polygon points="696.4,144.3 701.0,144.3 701.0,148.9 705.6,148.9 705.6,153.5 701.0,153.5 701.0,158.1 696.4,158.1 696.4,153.5 691.8,153.5 691.8,148.9 696.4,148.9" fill="#000"/>
<text class="san" x="753.6" y="158.6" textLength="61.4" lengthAdjust="spacingAndGlyphs">TauA</text>
<polygon points="698.7,186.6 700.1,190.8 704.6,190.8 701.0,193.5 702.3,197.8 698.7,195.1 695.1,197.8 696.4,193.5 692.8,190.8 697.3,190.8" fill="#000" stroke="#000" stroke-width="1.3" stroke-linejoin="round"/>
<text class="san" x="753.6" y="200.2" textLength="52.6" lengthAdjust="spacingAndGlyphs">VirA</text>
<polygon points="698.7,228.0 704.7,232.3 702.4,239.4 695.0,239.4 692.7,232.3" fill="#000" stroke="#000" stroke-width="1.4" stroke-linejoin="round"/>
<text class="san" x="751.6" y="241.7" textLength="61.9" lengthAdjust="spacingAndGlyphs">HerA</text>
<polygon points="698.7,266.3 708.2,275.8 698.7,285.3 689.2,275.8" fill="#000"/>
<text class="san" x="751.6" y="283.2" textLength="89.5" lengthAdjust="spacingAndGlyphs">HydraA</text>
<circle cx="698.7" cy="317.3" r="4.6" fill="#ff0000"/>
<text class="san" x="751.6" y="324.7" textLength="91.2" lengthAdjust="spacingAndGlyphs">Horizon</text>
<rect x="888.6" y="28" width="43" height="809.75" fill="url(#vir)" stroke="#1a1a1a" stroke-width="1.4"/>
<g class="tk">
<line x1="931.6" y1="695.51" x2="936.6" y2="695.51"/>
<line x1="931.6" y1="538.06" x2="936.6" y2="538.06"/>
<line x1="931.6" y1="380.61" x2="936.6" y2="380.61"/>
<line x1="931.6" y1="223.16" x2="936.6" y2="223.16"/>
<line x1="931.6" y1="65.71" x2="936.6" y2="65.71"/>
</g>
<text class="ser" x="940.2" y="704.8" textLength="23.0" lengthAdjust="spacingAndGlyphs">50</text>
<text class="ser" x="940.2" y="547.4" textLength="34.5" lengthAdjust="spacingAndGlyphs">100</text>
<text class="ser" x="940.2" y="389.9" textLength="34.5" lengthAdjust="spacingAndGlyphs">150</text>
<text class="ser" x="940.2" y="232.5" textLength="34.5" lengthAdjust="spacingAndGlyphs">200</text>
<text class="ser" x="940.2" y="75.0" textLength="34.5" lengthAdjust="spacingAndGlyphs">250</text>
<text class="san" transform="translate(996.7,433) rotate(-90)" text-anchor="middle" textLength="286" lengthAdjust="spacingAndGlyphs">Number of Observations</text>
</svg></body></html>
